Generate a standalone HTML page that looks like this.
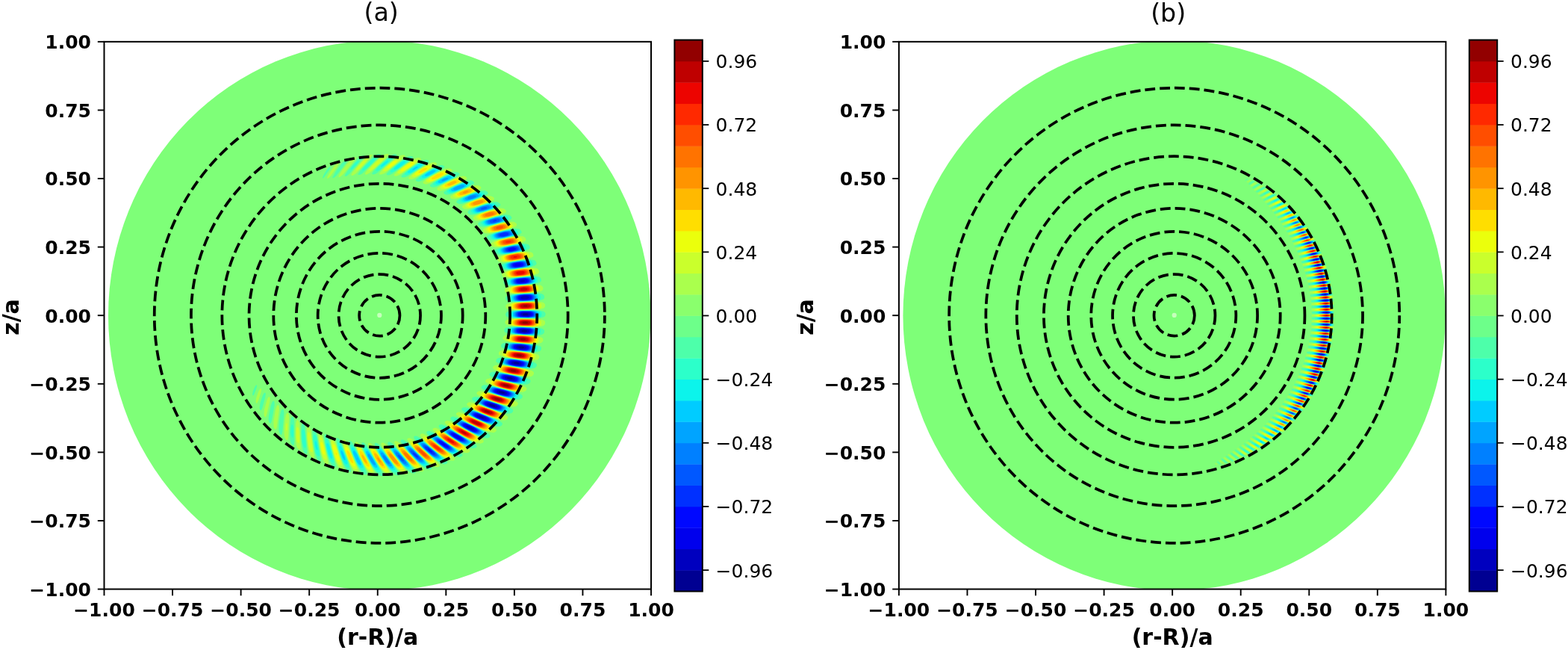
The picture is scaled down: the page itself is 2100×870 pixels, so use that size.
<!DOCTYPE html>
<html><head><meta charset="utf-8"><title>figure</title><style>html,body{margin:0;padding:0;background:#fff;overflow:hidden}svg{display:block}</style></head><body>
<svg width="2100" height="870" viewBox="0 0 2100 870" font-family="DejaVu Sans, Liberation Sans, sans-serif">
<rect width="2100" height="870" fill="#fff"/>
<clipPath id="clip0"><rect x="139.50" y="55.85" width="732.50" height="732.70"/></clipPath>
<g clip-path="url(#clip0)">
<ellipse cx="508.20" cy="422.30" rx="363.20" ry="368.00" fill="#7eff78"/>
<path fill="#aaff4d" d="M349 519.9L347.9 520.7L346 524.2L343 533L342.6 538.3L343.3 539.8L344.2 539.8L346.2 535.8L349.6 524.9L350.1 521.1L349.7 520.2ZM360.4 531L359 532L357.5 535.2L353.9 548.3L353.4 554.9L354.1 557.2L355.4 558.4L356.4 557.5L357.3 555L361.3 537.8L361.7 533.2L361.3 531.7ZM371.9 542.1L370.3 544.3L368.9 548.8L366.3 563.9L366.6 571.3L367.8 573.9L369.3 574.7L370.2 573.7L371 570.4L374 548.1L373.7 543.8L373 542.5ZM384.2 552.7L382.8 555.6L381.7 561.1L380.7 570.5L380.5 578.8L380.9 583.5L381.8 586.7L384 589.2L384.6 589.3L385.3 588.8L386.2 583.5L387.3 557.8L386.4 553.8L385.4 552.8ZM397.3 562.6L396.3 566.3L395.7 573.5L395.6 583.8L396.3 592.2L397.1 596.7L398.4 599.8L400.9 602L401.7 602L402.4 600.9L402.7 595.9L401.2 566.8L399.9 563.1L398.3 562.1ZM412 570.7L411 573.2L410.8 580.7L411.5 591.2L413 601.3L414.3 606.8L416.1 610.6L418.7 612.7L419.8 612.9L420.3 612.6L420.7 610.8L420.5 607.6L416.3 576.3L414.6 571.8L413.2 570.7ZM427.4 577.9L426.7 578.5L426.3 580.3L426.5 587.1L428.2 598.4L430.4 608.6L432.4 615L434.4 618.9L436.5 621.1L439.2 621.8L439.9 620.6L439.6 617.3L431.9 583.5L430 579.1L428.5 578ZM442.4 584.5L442.3 588.7L443.9 597.8L447.1 609.7L450.3 618.8L452.7 624L455.2 627.3L458.3 628.8L459.4 628.8L460 628L459.1 622.9L447.9 588.2L446.8 586L445.4 584.5L443.7 583.8ZM459.1 588.7L458.6 590.3L458.8 592.7L461 601.1L465.2 613L469.5 622.8L472.8 628.7L475.5 632.1L478.6 633.6L479.7 633.7L480.8 633.2L480.9 631.4L479.9 628.4L465 593.1L462.3 589.2L460.7 588.4ZM475.8 591.9L475.6 593.7L476 596L479.2 605L484.6 616.7L490.3 627L493.7 632L496.8 635.1L498.4 636L500.6 636.4L501.8 636.2L502.4 635.4L500.8 630.5L482.2 595.4L479.1 591.9L476.9 591.3ZM493.2 593.1L492.8 594.4L493.4 597L496.5 604.3L503.3 616.5L509.9 626.7L514.3 632.3L517.7 635.5L521.1 636.9L522.8 636.9L524 636.2L523.9 634.4L522.4 631.4L500.2 597L496.8 593.3L494.6 592.7ZM510.4 593.3L510.5 595L511.5 597.7L516.4 606.3L524 617.3L531.7 627L536.7 632.2L540.4 634.7L543.9 635.3L545.5 634.7L546 633.8L545.5 632.1L543.4 628.9L517.7 595.8L515.4 593.5L513.6 592.5L511.4 592.4ZM527.9 591.2L528 592.6L529 595.1L534.2 602.8L543.4 614.2L552.2 623.6L557.8 628.5L561.8 630.9L565.4 631.3L567 630.8L567.6 630L567.2 628.3L564.8 624.9L536 593.7L533.4 591.4L531.5 590.4L529.3 590.2ZM545.3 588.2L547.8 592.8L554.6 600.8L565.3 611.6L574.5 619.7L579.8 623.4L584 625.1L585.9 625.2L588 624.5L588.9 623.6L588.8 622.5L587.6 620.6L584.7 617.6L553.3 588.8L550.5 586.9L548.5 586.2L545.9 586.7ZM562.6 581.9L563 583.6L564.4 585.9L570.7 592.5L582 602.4L593 611L599 614.7L603.6 616.6L607.4 616.6L608.9 615.8L609.6 614.6L608.4 612.2L604.6 608.8L571.1 582.8L568 581L565.9 580.3L563.7 580.7ZM579.6 575.8L583.8 580.6L591.9 587.2L604.6 596.4L615 602.8L620.4 605.4L625 606.3L626.8 606L628.8 604.8L629.3 603.5L628.8 602.3L626.3 599.8L622.5 597.1L587.2 574.2L584.1 572.8L581.5 572.7L579.6 573.9ZM595.5 565.6L598.3 569.2L606.3 575.2L619.6 583.5L632.3 590.3L638.2 592.8L643.2 593.7L646.7 592.5L647.8 591.1L647.7 590L645.7 587.7L641.1 584.7L604.4 564.6L600.8 563.3L598.5 563L596.1 564ZM611.1 555.1L615.3 559L624.4 564.5L639.5 572.1L651.2 577.1L657.4 578.8L661.4 578.9L663.2 578.2L664.4 577L665 575.9L664.6 574.5L662 572.2L656.8 569.4L620.3 552.9L616.4 551.7L613.4 551.6L611.2 553L610.8 553.9ZM625.5 542.2L629.2 545.3L637.6 549.7L653.1 556.3L666.3 561.1L672.2 562.4L676.6 562.4L678.4 561.7L679.7 560.5L680.4 558.8L680.1 557.8L677.4 555.5L672.2 553L634.6 539.2L630.4 538.3L627.4 538.5L625.4 540.2ZM638.9 527.7L643.1 530.8L652.2 534.6L668.8 540.3L680.9 543.6L687 544.5L690.6 544.1L692.3 543.1L693.4 541.8L693.9 540L693.5 539L691.1 537.1L685.8 534.9L648 523.9L643.4 523.3L640.4 523.8L638.5 525.6L638.4 526.6ZM651 511.8L655.5 514.5L664.7 517.6L683 522.4L694.9 524.8L700 524.9L703.8 523.6L704.9 522.3L705.5 520.6L705.2 519.2L704.3 518.2L701.2 516.6L694.9 514.7L659.4 506.8L655.3 506.6L652.1 507.3L651 508.2L650.2 509.7L650.2 510.8ZM662.4 495.1L668 497.3L677.7 499.6L695.6 503.1L705.6 504.3L710.8 503.9L712.5 503.4L714.1 502.1L714.9 500.5L715 498.7L713.9 497.2L712.4 496.3L707.9 494.7L700.2 493.2L675.2 489.1L667.2 488.3L662.7 488.9L660.7 490.4L660 492L660.2 493.1ZM670.3 476L676 477.8L686.4 479.7L704.3 482L714 482.6L719.4 481.8L721.7 480L722.4 478.3L722.3 476.5L721.2 475L719.4 474L714.8 472.8L707.5 471.6L682.9 469L674.7 468.7L670.6 469.4L668.4 471.1L667.9 473.7L668.6 474.9ZM676.3 456L682.2 457.5L692.5 458.7L710.9 460.1L720.3 460.1L724.8 459.1L727 457.1L727.5 455.4L727.3 453.6L726.3 452.3L724.1 451.2L719 450L709.9 449.2L688.3 448L679.7 448.2L676 449L673.8 450.9L673.3 452.6L673.6 454.1ZM683.8 436.1L693.3 436.9L712.4 437.5L720.7 437.4L725.5 436.7L727.7 436L729.2 434.9L730.1 433.2L730.1 430.8L729.5 429.6L727.8 428.4L722.7 427.1L713.8 426.6L695.1 426.4L686.5 426.6L681.2 427.3L679 428L677.1 429.3L676.4 431L676.6 432.8L678.6 434.8ZM700.2 414.9L722.7 414L727.9 412.7L729.9 410.8L730.2 408.4L729.6 406.7L728.5 405.6L726.3 404.6L719.5 403.8L706.5 403.9L685.3 405.2L679.9 406.5L677.8 408.1L677.2 409.9L677.5 411.7L678.7 413L680.5 413.8L687.2 414.8ZM715.9 391.5L723.2 390.2L725.3 389.5L727 388.1L727.5 386.2L726.9 383.9L725.4 382.4L723.5 381.6L718.1 380.9L711.9 380.9L687.1 383L680.3 384.4L676.8 386.2L676 387.8L676.2 390L677.1 391.3L679 392.3L683.2 393L688.5 393.1ZM714.4 368.4L719.8 366.8L721.1 366L722.1 364.5L722.1 362.7L721 360.6L719.1 359.3L717 358.7L712.3 358.4L704.9 358.8L689.1 360.7L679.2 362.4L674.6 363.9L673.3 364.8L672.3 366.1L672.3 368L673 369.7L674.4 370.7L676.8 371.4L687.2 371.4ZM707.9 346.1L713.2 344.1L714.2 343.1L714.5 341.7L713.8 339.5L712.5 338.1L708.3 336.7L702.5 336.8L695.1 337.6L679.6 340.2L671.8 342L667.4 343.9L665.9 345.9L666.1 347.7L667.1 349.3L668.5 350.2L670.7 350.8L675.2 350.9L681.8 350.2ZM698.7 324.9L703.1 323L704.1 322.1L704.5 320.6L703.9 318.9L702.3 317.2L700.2 316.3L697.3 315.9L692.3 316.2L683.2 317.7L669.5 320.6L662.2 322.7L658.3 324.7L657.2 326.7L657.8 328.6L659 330L662.7 331L673.3 330ZM689.8 303.8L691.6 302.6L692.3 301.5L691.6 299.1L688.6 296.9L684.3 296.5L677.4 297.4L665.7 300.1L654.3 303.3L648.8 305.6L646.5 307.6L646.3 308.6L646.9 310L649 311.9L652.9 312.5L659.8 311.5L675.6 307.9L685 305.6ZM675.2 285.6L677.1 284.5L678.1 283.2L677.3 280.9L674.3 278.9L669.4 278.6L663.1 279.7L653.1 282.6L642 286.2L636 288.8L633.7 290.9L633.5 291.9L634 293.1L636.7 295.1L640.5 295.3L653.1 292.5L668.8 288ZM661.1 267.7L662.1 265.8L661.6 264.7L659.8 263.2L656.8 262.3L652.7 262.6L645 264.5L632.2 269.1L623.6 272.7L619.7 275.2L618.9 276.2L618.9 277.2L620.5 279L622.8 280L626.6 279.8L634.2 277.8L652.7 271.6L657.6 269.7ZM642.8 253.4L644.1 252.2L644.5 251.1L643.1 249.3L639.8 248L635.3 248.3L628.3 250.5L617.6 254.8L608.3 259.2L603.8 262L602.8 264L604.2 265.7L607 266.6L610.7 266.2L617.6 264L632.9 258ZM624.6 240L625.4 239L625.4 237.9L623 236.1L620 235.6L615.6 236.4L608.4 239.2L597.9 244.2L589.6 248.8L585.7 251.8L585.1 253.6L587.1 255L589.6 255.5L593.1 254.8L599.4 252.4L615.9 244.8ZM605.2 228.7L605.7 227.5L605.4 226.9L602.3 225.4L599.2 225.4L594.9 226.7L586.7 230.7L576.5 236.5L569.6 241L566.5 244L566.6 245.3L569.3 246.5L571.9 246.4L574.8 245.6L598.6 233.2ZM584.5 220.3L585.2 219.2L585 218.5L581.9 217.1L578.8 217.4L574.8 218.8L568.6 222.2L559.1 228.2L552.1 233.2L547.7 237.3L547.1 238.8L549.1 239.9L551.6 239.9L554.8 238.9L577.2 225.6ZM563.7 213.5L564 212.7L563.5 211.8L560.1 211.1L557.1 211.8L553.3 213.6L546.9 217.7L537.7 224.6L531.3 229.9L527.7 233.9L527.9 235.2L530.1 235.7L532.6 235.3L535.8 233.8L558.4 218ZM542.4 208.9L542.4 208.2L541.4 207.6L538 207.5L535 208.7L531.4 210.8L516.6 223L510.9 228.5L507.9 232.4L508.3 233.5L510.8 233.6L513.2 232.8L515.7 231.4L537.1 214.3L540.9 210.8ZM520.7 206.9L520.6 206.4L519.5 205.9L516.2 206.3L513.3 207.7L509.4 210.5L503 216.3L494.8 224.5L490.3 229.8L488.7 232.9L489.7 233.6L491.7 233.4L496.4 230.6L516.5 211.9L519.3 209ZM498.9 207.6L498.3 206.7L495 207.2L492.3 208.7L488.7 211.7L476.6 224.9L472.2 230.6L470.3 234.1L471 235L473 234.7L477 231.9L494.7 213.1ZM477 211.1L476.9 210.4L476.3 210.2L473.1 211.2L467.8 215.8L457.3 229.1L454.2 234.1L453.2 236.6L454.2 237.2L455.6 236.8L459.4 233.5L472.9 217.1ZM454.7 217.5L453.5 217.3L451.6 218.4L447.6 222.3L440.7 232.5L438.5 236.6L438 238.7L438.4 239.1L439.8 238.6L443 235.4L452.6 221.7Z"/>
<path fill="#4dffaa" d="M343.6 515L341.7 516.9L338.9 523.2L338 527.4L338.6 529.5L339.4 529.3L340.4 527.8L342.9 521.4L344.2 516.6ZM355 525.5L353.7 525.9L352.1 528.6L348.5 539.3L347.6 545.9L348.1 548.2L349.2 549.5L350.2 548.7L351.2 546.4L355.1 532.6L355.9 527.8L355.6 526.2ZM365.7 536.7L364.3 538.5L362.7 543L359.8 557.1L359.6 561.6L360 564.2L361 566.2L362.4 566.7L363.2 565.5L364.1 562.4L367.7 542L367.5 537.8L366.5 536.7ZM377.9 547.5L376.5 549.6L375.1 555.1L373.7 564.5L373.2 572L373.4 576.6L374.2 579.8L375.8 581.9L377.2 582L378.4 577.2L380.5 553.1L380 548.9L379.1 547.8ZM391.2 557.5L390.2 558.4L389.6 560.1L388.7 565.7L388 576.1L388.1 584.5L388.7 590L389.8 593.2L391.6 595.4L392.5 595.9L393.4 595.7L394.1 593.6L394.3 590.4L394.2 563.5L393.5 559.3L392.3 557.8ZM404.7 566.7L403.5 570L403.1 577.3L403.5 587.7L404.5 597L405.7 602.4L407.1 605.4L409.1 607.3L410.2 607.7L411 607.4L411.5 605.2L411.4 602L408.6 571.7L407.3 567.8L405.9 566.6ZM419.2 574.8L418.4 578.9L418.8 587.2L420.3 598.5L422 606.9L423.7 612.2L425.3 615.3L426.5 616.6L428.5 617.6L429.5 617.6L430 616.9L429.7 611.7L423.8 579.1L422.1 575.5L420.5 574.5ZM434.9 581.2L434.1 584.2L434.9 591.8L437.3 603.9L440.2 614L442.3 619.4L444.5 623.2L447.3 625.3L448.9 625.6L449.6 625.2L449.9 623.9L449.3 620.4L439.9 586.1L437.6 582L436 581.1ZM450.7 586.8L450.5 590.6L452.4 599.7L456.1 611.6L460 621.5L462.7 626.6L465.3 629.9L468.4 631.5L469.8 631.4L470.4 630.6L469.5 626L456.2 590.6L455 588.4L453.6 586.9L451.9 586.3ZM467.4 590.5L467 592.2L467.4 594.6L469.9 602.8L474.3 613.9L479.4 624.4L482.9 630.3L485.9 633.7L489 635.2L490.7 635.3L491.5 634.8L491.4 632.7L490.2 629.4L473.6 594.5L470.7 590.8L468.6 590ZM484.3 592.9L484.7 597L488.3 605.8L494.2 617.3L500.4 627.5L504.5 633L507.8 636L509.4 636.7L511.7 637L512.8 636.7L513.3 635.8L512.8 633.7L511 630.3L490.8 595.9L487.5 592.6L485.3 592.2ZM501.6 593.6L502.4 597.6L506.9 606.4L514.4 618.4L521.7 628.3L525.8 632.8L529.4 635.6L531.1 636.3L533.4 636.4L534.5 636L535.1 635L534.6 633.3L532.7 630L508.8 596.4L506.5 594L504.8 592.9L502.6 592.8ZM519.1 592.5L519.3 594.3L520.4 596.8L525.3 604.8L534.1 616.4L542.3 625.9L547.6 630.9L551.5 633.2L553.3 633.6L555.5 633.4L556.5 632.8L556.8 631.8L554.1 627.1L526.7 594.8L524.2 592.5L522.3 591.6L520.1 591.6ZM536.7 589.5L536.9 591.3L537.9 593.3L543.3 600.8L552.6 611.4L562.6 621.3L568.5 626L572.7 628.2L576.3 628.4L577.8 627.8L578.3 627L577.7 624.9L575.2 621.9L544.7 591.5L542 589.4L540.1 588.5L537.9 588.6ZM554 585.1L555.6 588.7L562.2 596.3L573.4 606.9L583.9 615.6L589.5 619.3L593.9 621.2L595.8 621.3L598.1 620.7L599.1 619.9L599.3 618.8L598 616.6L594.8 613.4L562.3 586.1L559.3 584.2L557.3 583.5L555.1 583.8ZM571.2 579.5L574.4 583.9L582.6 591.3L594.6 600.7L605.5 608L610.6 610.7L615.1 611.9L617 611.6L619 610.6L619.6 609.4L619.1 608.1L614.1 603.4L579 578.5L575.9 577L573.4 576.7L571.4 577.7ZM587.5 570.3L588.2 571.9L590.2 574.2L597.9 580.5L611.3 589.5L623.3 596.6L629.1 599.2L634 600.3L637.4 599.3L638.6 598L638.6 596.8L636.7 594.5L632.5 591.5L596.7 570.1L593.2 568.5L590.9 568L588.3 568.8ZM603.3 559.9L604 561.5L605.7 563.3L612.5 568.3L627.3 576.8L640.8 583.5L647.1 585.8L652.2 586.6L654.1 586.1L655.6 585.2L656.3 584.3L656.6 582.9L654.7 580.7L650.6 578L613.4 559.4L609.4 557.9L606.4 557.5L604.3 558.3ZM618.5 548.8L622 552.1L630.8 557.1L646.6 564.4L659 569.3L664.5 570.8L668.9 570.9L670.8 570.3L672.1 569.2L672.9 567.6L672.6 566.3L669.9 564.1L665.5 561.8L627.6 546.3L623.6 545.2L620.6 545.3L618.4 546.8L618.1 547.7ZM633.1 536L639.1 539.7L649.2 544.1L664.7 549.8L675.8 553L681.3 553.7L685.1 552.9L686.4 551.8L687.3 550.3L687.1 548.7L685.9 547.5L682.6 545.6L676.7 543.3L647.9 533.6L640.1 531.4L636.1 531L633.5 531.7L631.9 533.7ZM645.8 520.6L651.5 523.7L661.7 527.3L678.6 532.2L689.5 534.6L695.2 534.8L698 533.7L699.3 532.4L699.9 530.8L699.6 529.3L698.3 528L694.4 526.2L688.5 524.3L660 516.8L652.4 515.3L648.1 515.2L645.7 516.2L644.4 518.6ZM656 503L660.2 505.4L668.6 508.1L686.5 512.3L699.7 514.6L705.2 514.7L708.5 513.6L709.8 512.3L710.5 510.7L710.5 509.5L709.7 508.1L706.3 506.2L700.6 504.6L664.9 497.8L660.4 497.6L657.1 498.5L656.1 499.4L655.3 501ZM666.4 485.6L672.1 487.6L682.4 489.8L700.3 492.7L710.9 493.6L715.9 492.8L718.2 491.1L718.9 489.5L719 487.7L716.8 485.5L712.3 484L704.6 482.6L680.5 479.3L671.3 478.7L667.3 479.2L665 480.7L664.2 483.2L664.8 484.4ZM673.6 466.1L679.4 467.8L689.8 469.3L707.9 471.2L718.4 471.4L723.2 470.1L724.9 468.1L725.1 465.1L724.1 463.7L722.5 462.9L718.1 461.6L710.7 460.6L687.7 458.7L677.6 458.6L673.3 459.5L671.3 461.3L671 464L671.9 465.1ZM683.5 446.9L710.4 448.8L718.2 448.9L723.7 448.4L726.5 447.6L728 446.6L729 444.9L729.1 442.6L728.5 441.4L726.8 440L720.6 438.6L692 437.3L684.1 437.4L679.5 438L677.4 438.7L675.9 439.9L675.2 441.7L675.4 443.5L676.1 444.5L678 445.6ZM684.3 425.4L693.8 425.9L713.8 426.1L721.6 425.8L726.7 424.9L729.2 423.8L730.2 422.6L730.7 420.2L730.2 418.5L728.1 416.8L722.4 415.5L713.7 415.1L695.9 415.4L687.3 415.8L682 416.5L679.1 417.5L677.9 418.5L677 420.3L677.1 422.1L678.1 423.4L679.7 424.3ZM707.3 403.5L720.3 402.7L726.9 401.1L728.6 399.7L729.1 398.5L729 396.1L727.9 394.5L725.2 393L719.5 392.3L698.2 393.1L686.1 394.2L679.7 395.7L678.1 396.6L677.1 398.2L677 400L677.7 401.7L680.6 403.2L685.6 403.9ZM712.7 380.3L720.8 378.8L723.2 377.8L724.7 376.6L725.1 374.7L724.4 372.4L723 370.9L721.1 370.2L716.5 369.6L711.2 369.6L685.8 372.2L678.6 373.7L675 375.8L674.4 377.4L674.8 379.6L675.8 380.8L677.8 381.7L681.6 382.3L687 382.3ZM709.1 357.6L715.4 356L718.3 354L718.6 352.1L717.7 349.9L716.2 348.6L713.5 347.7L709.3 347.4L701.6 347.9L677.9 351.6L672.5 353.2L669.7 355.3L669.3 356.9L670.1 359.1L671.2 360.1L673.2 360.9L677.7 361.2L682.9 360.9ZM705.7 334.7L708 333.7L709.4 332.4L709.8 331L709.5 329.9L708.6 328.3L707.1 327.1L702.5 326.1L695.3 326.6L685.1 328.3L672.9 330.7L665.6 332.8L662.6 334.6L661.9 335.9L661.9 336.9L663.6 339.7L667.5 340.8L672 340.7L679.6 339.7L699.3 336.4ZM694.6 314.3L698.2 312.1L698.6 311.2L698.5 309.9L696.3 307.1L694.3 306.3L691.6 306L685.7 306.5L675.9 308.4L663.5 311.4L655.7 313.9L652.5 316.1L652.2 318.3L654.3 320.8L658.1 321.6L669.4 320.1L688.1 316.1ZM681.3 295.1L684.8 293.2L685.4 292.1L685.3 290.8L683.9 288.9L682.3 287.9L677.6 287.3L672.2 288L662.7 290.3L650.8 293.8L643.4 296.6L640.5 298.6L640.1 299.6L640.4 300.7L642.6 303.1L647 303.7L658 301.6ZM668.2 276.6L669.6 275.6L670.3 274.4L670.1 273.3L669.1 271.9L665.8 270.3L661.7 270.3L654.8 271.7L644.3 275L634.1 278.7L628.2 281.6L626.4 283.6L626.5 284.5L627.3 285.7L629.7 287.2L633.5 287.4L640.3 285.9L655 281.4L663.6 278.6ZM651 261L652.8 259.7L653.5 258.6L653.3 257.6L652.1 256.3L648.8 254.9L644.2 255.2L637.8 256.9L627.5 260.7L617.6 264.9L612.7 267.7L611 269.9L611.8 271.5L614.9 273L618.6 272.9L630.1 269.2L645 263.7ZM633.9 246.5L635.2 244.5L634.6 243.4L632.7 242.1L629.7 241.5L625.2 242.2L617.6 244.9L607.4 249.4L599.5 253.5L595 256.5L594.1 258.3L595.5 259.8L598.2 260.7L601.8 260.3L608.3 258.1L623.7 251.5ZM615 234.1L615.7 233L615.4 232.2L612.5 230.5L609.4 230.3L605 231.4L597.2 234.8L585.9 240.9L578.6 245.4L576 247.9L576 249.2L578.6 250.6L581.1 250.7L584.1 249.9L607.4 238.8ZM594.9 224.3L595.4 222.5L592.5 221.1L589.4 221.1L585.3 222.4L578.1 226L568.3 231.9L560.9 236.9L557.1 240.4L556.8 241.2L557 241.9L559.3 242.9L561.8 242.9L565.2 241.8L588.7 228.7ZM574.6 215.9L574.4 214.9L573.8 214.5L570.5 213.8L567.4 214.5L563.4 216.3L556.1 220.7L546 227.9L539.4 233.3L537.3 236.1L538.2 237.2L540.6 237.6L543.2 237L546 235.8L569.7 220.3L573.5 217.4ZM552.8 211.3L553.2 210.5L553 209.6L549.7 209L546.7 209.6L543 211.5L536.2 216.2L527.4 223.2L521.9 228.1L518.1 232.2L517.7 233.1L517.9 234L519.5 234.4L522 234.2L525 232.8L547.1 216.4ZM531.2 208.2L531.3 206.8L527.9 206.4L525 207.4L521 210L506.8 222.3L500.7 228.6L498.4 231.8L498.3 233.1L500 233.5L502.4 232.9L505.4 231.2L525.7 213.8ZM509.6 207.4L509.8 206.5L509.2 206.1L506.1 206.3L503.3 207.5L499.6 210.4L486.5 223.5L481.6 229.5L479.5 232.9L479.4 233.8L479.9 234.1L481.4 234.1L483.7 233.2L486 231.5L505.6 212.2ZM488 208.8L487.2 208.1L484 208.9L481.4 210.5L477.9 213.7L466.1 227.8L462.4 233.2L461.6 235.6L462.6 236L464.6 235.5L468.4 232.3L484 214.5ZM465.9 213.9L465.9 213.5L465.2 213.2L462.9 214L457.8 218.5L449.6 229.5L445.3 237.4L445.6 238.3L447.1 238.1L450.4 235.2L462.4 219.7ZM443.1 223.3L442.6 222.7L441.1 223.5L437.7 227.1L433.4 233.9L431.8 238.4L433 238.2L435 236.1L440.7 227.9Z"/>
<path fill="#caff2c" d="M384.1 565.8L383.1 567.7L382.6 572.2L383 575.8L384 577L384.7 575.2L385 571.7L384.8 567.2ZM398.4 571.2L397.6 571.8L396.9 574.2L396.8 584.9L397.9 590.7L398.8 592.2L400.1 593.1L400.8 592.7L401.2 590.3L400.7 577.4L399.8 572.7ZM412.6 578.4L411.8 580.8L411.8 584.7L413.2 597.6L415.3 603.7L416.9 605.2L418.3 605.3L418.8 603.8L418.7 600.5L416.2 582.9L414.6 579L413.5 578.2ZM428.1 584.7L427.4 587.3L427.7 591.3L430.7 606.7L432.2 611.2L433.6 613.5L435.8 615.2L437.3 615.1L437.7 613.3L437.2 610L432.4 589.2L430.5 585.4L429.3 584.6ZM444.2 590L443.7 592.6L444.6 598.6L449.4 614.6L451 618.3L453 621.2L455.3 622.8L457.2 622.7L457.5 621L456.7 617.5L449.4 595.1L447 590.7L445.3 589.8ZM460.8 594.2L460.6 597.2L462 602.9L465.4 612.3L468.9 620.4L471.3 624.6L473.6 627.2L476.1 628.4L477.2 628.4L477.9 627.9L478 626.1L477 622.9L466.6 598.4L463.7 594.4L462 593.7ZM477.9 596.8L477.9 599.4L480.1 606L484.7 616.1L489 623.9L491.8 628L494.3 630.5L497.5 631.6L498.6 631.5L499.2 630.9L498.7 628.2L497.3 625.1L484.2 600.5L481 596.8L479.3 596.3ZM495.6 597.7L495.2 598.5L495.5 600.3L498.3 607L503.8 616.8L509.4 625.2L513.2 629.7L515.9 631.9L519.2 632.5L520.7 631.6L520.2 629.4L518.4 626L502.3 601.3L498.8 597.8L497 597.3ZM513.3 597.2L513 598.1L513.4 599.8L516.9 606.5L523.9 616.8L530.4 624.9L534.1 628.6L537.1 630.6L540.4 631.2L541.5 630.9L542.3 630L541.7 627.8L539.4 624.4L520.3 599.9L516.4 596.9L514.6 596.6ZM530.8 595.7L532.3 599.3L537.1 606.1L545.3 615.9L552.1 622.8L556.1 626.1L559.2 627.5L562.6 627.3L563.5 626.6L563.7 625.6L562.7 623.6L560.2 620.5L537.9 596.5L535.8 594.9L533.8 594.2L531.6 594.5ZM548.7 591L548.7 592.4L549.5 594L554.4 600.2L563.7 609.8L572 617.1L576.4 620.3L579.8 621.7L583.2 621.4L584.2 620.9L584.8 619.9L584.2 618.2L581.4 615.1L556.7 592.5L552.2 590L549.9 590.1ZM566.2 585.2L566.3 586.6L567.3 588.3L573 594.3L583.5 603.4L592.7 610.3L596.8 612.6L600.4 613.8L603.8 613.1L605.1 612.1L605.2 611.1L604.2 609.5L601 606.4L574.2 585.8L571.7 584.3L569.5 583.7L567.3 584.2ZM583.2 578.4L586.2 582.1L592.5 587.5L603.5 595.4L612.8 601.1L617.1 603L620.7 603.6L622.4 603.2L624.2 602L624.8 600.8L624.5 599.9L623.1 598.3L619.4 595.5L590.7 577L588.1 575.9L586 575.7L583.6 576.9ZM599.6 568.1L600 569.4L601.8 571.4L608.1 576.2L620.4 583.8L630.8 589.2L635.5 590.9L638.6 591.3L641.8 590.1L643.2 588.1L642 586.2L637.7 583.1L608.3 567.1L605.3 566L603 565.7L600.8 566.5ZM615.7 558.1L619.5 561.2L627.6 566L640.3 572.3L649.4 576L654.2 577.1L657 576.7L658.9 575.5L660 574.2L659.6 572.2L656.9 570L651.6 567.3L622.9 554.6L620 553.9L617.4 554.3L615.3 556.1ZM630.1 544.4L634.1 547.6L642.3 551.6L655.4 557L665.5 560.3L669.6 561L672.5 560.5L675 558.2L675.5 557.1L675 555.7L672.6 553.8L667.9 551.7L637.6 540.7L634.4 540.2L632.2 540.6L630.1 542.4L629.8 543.3ZM643.5 529.6L647.8 532.5L656.2 535.9L669.9 540.4L679.8 542.9L684.1 543.1L686.7 542.2L688.8 539.5L688.9 538.2L688.3 537.2L685.6 535.4L680.7 533.6L651.4 525.2L647.8 524.8L645.5 525.4L643.3 527.7ZM655.4 513L659 515.3L666.1 517.8L682.4 522.1L692.1 523.9L695.7 523.9L698.5 522.8L700.4 520L700.6 518.8L699.8 517.4L697.2 515.9L690.9 513.9L670.9 509.3L662.2 507.8L659.3 507.8L657 508.6L655.1 511.1ZM665.6 495.2L669.1 497.1L676.9 499.2L692.6 502.3L702.3 503.5L706 503.2L708.7 501.8L710.1 498.7L709.5 496.7L706.8 495.1L701.3 493.6L680.3 490.1L671.7 489.2L668.6 489.4L666.4 490.5L664.9 493.3ZM674.2 476.4L679.2 478.1L688.4 479.8L703.1 481.7L711.7 481.9L715 481.1L716.8 479.3L717.4 475.9L716.6 474.6L715.5 473.9L711.7 472.7L704.9 471.5L687.1 469.6L678.7 469.3L675.6 469.9L673.5 471.7L672.8 474.3L673.2 475.4ZM680.7 456.4L686.1 457.7L695.7 458.8L709.1 459.8L717.4 459.6L720.8 458.5L722.4 455.8L722.3 452.9L721 451.6L719.7 451L714.6 449.9L704.7 449.1L690.6 448.4L682.9 448.7L680.1 449.7L678.6 451.7L678.5 454.5ZM686 435.8L693.3 436.7L707.2 437.2L715.9 437.2L721.1 436.6L723.4 435.7L724.6 434.7L725.3 431.2L724.1 428.9L719.8 427.4L712.5 426.8L698 426.6L689.5 426.8L685.1 427.5L682.2 429L681.4 432.2L681.7 433.6L682.6 434.6ZM708 414.6L718 414.1L723.2 412.9L724.7 411.7L725.3 409.9L725.1 407.6L724.1 405.9L721.8 404.8L717.4 404.1L698.7 404.4L688.8 405.2L683.8 406.6L682.7 407.7L682.2 409.1L682.3 411.4L683.1 412.8L686 414L689.8 414.5ZM711.6 391.6L718.8 390.5L721.9 388.9L722.6 387L722.2 384.7L721.3 383.1L720 382.2L716.9 381.4L711.6 381.3L691.5 382.8L684.7 384L681.5 385.7L680.8 387.3L681 389.6L681.7 390.9L683.4 392L691.1 392.7ZM707.4 369.1L714.2 367.7L717 365.9L717.4 364L716.7 361.8L715.6 360.3L714.2 359.6L710.4 358.9L704.4 359.1L685.9 361.4L679.8 362.9L677.2 364.7L676.8 366L677.3 368.3L678 369.6L679.6 370.6L682.9 371.1L688.5 371ZM703.5 346.6L708.4 344.9L709.8 342.9L709.5 341.2L708.3 339.2L706.7 338L705 337.5L701.2 337.3L694.3 338L676.3 341.3L672.2 342.8L670.5 344.6L670.5 346.2L671.5 348.3L672.6 349.4L674.7 350L682.8 349.8ZM695.9 325.1L699 323.6L699.9 321.7L699.3 320L697.9 318.2L694.5 316.8L689.9 316.9L682.6 318L671.8 320.3L665 322.4L662 324.2L661.6 326L663.4 329L666.2 330.1L675.6 329.3ZM685.3 304.8L687.7 302.9L687.3 300.7L684.8 298.2L681 297.5L675.4 298.1L667.8 299.8L658.8 302.3L652.8 304.6L650.8 306.2L650.8 308L653 310.6L655.9 311.4L666.6 309.8L679.3 306.8ZM671.8 286.2L673.6 284.3L672.9 282.3L670.2 280.2L666.4 279.8L660.4 280.8L651.5 283.3L643.6 286L639.1 288.2L637.6 290.1L638.4 292L640.8 293.7L644 294.1L656.9 291.1L666.8 288.2ZM656.5 269.2L657.4 268.3L657.7 267.4L656.3 265.3L653.7 263.9L650 263.8L644.5 265.1L636.7 267.7L628.9 270.8L624.3 273.2L622.9 275.1L624 276.9L626.6 278.4L629.7 278.4L635.5 277L646.5 273.4ZM639.2 254.4L640 253.4L640 252.3L638.4 250.7L635.6 249.7L632.1 249.9L626.1 251.7L618.2 254.9L611.2 258.2L607.8 260.4L606.8 261.9L607.9 263.5L610.5 264.8L613.6 264.6L618.8 263.1L629.4 259L636.4 256ZM620.5 241.5L621.1 240.4L621 239.8L619.1 238.3L616.2 237.6L612.7 238.1L607.2 240.1L599.3 243.9L592.8 247.5L589.7 249.9L589.3 251.4L590.9 252.7L593.4 253.3L596.3 252.9L611.7 246.4L618 243.2ZM600 231.5L601.2 229.6L599.7 228.3L597 227.6L593 228.3L581.3 234.1L575.6 237.6L571.5 240.8L570.7 242.4L571.9 243.5L574.8 244L577.7 243.4L588 238.5ZM580.1 222.4L580.5 221.1L577.9 219.9L575 220L571.7 221.2L565.6 224.5L558.3 229.3L553.8 232.7L551.8 234.9L551.9 236.2L553.8 236.9L555.8 236.9L558.7 236L573.7 227.2ZM558.9 216.3L558.9 215L556.5 214.3L553.6 214.7L550.5 216.1L538.8 224.3L534 228.5L532.4 230.5L532.6 231.7L534.5 232.2L536.6 231.8L539.3 230.6L552.6 221.6ZM536.7 213.3L537.3 212.1L536.9 211.4L535.8 211.2L533 211.5L530.1 212.8L522 218.9L516.5 223.8L513.4 227.4L513 229L514.3 229.4L516.3 229.1L518.9 227.9L529.3 219.9ZM514.9 211.9L514.9 210.6L512.7 210.5L510.5 211.3L507.8 213L498.5 221.7L494.1 227.2L494.3 228.3L495.8 228.4L499.7 226.4L511 216.3ZM492.7 213.2L492 212.5L490.4 212.8L486.3 215.5L479.8 222.6L477.5 225.6L476.8 227.5L477.4 228.1L478.4 227.9L481.3 226L489.2 217.8Z"/>
<path fill="#2cffca" d="M390.8 568.1L389.7 571.5L389.4 580.1L390.6 584.7L391.7 585.8L392.4 585.3L393 581.3L392.9 572.3L392.2 569.1L391.7 568.2ZM405.4 574.8L404.5 576.2L404.2 579.3L404.8 591.5L406.5 597.7L408 599.4L409.1 599.6L409.7 598.5L409.8 595.1L408.4 579.9L407.4 576.2L406.5 575ZM420.1 581.9L419.5 584.9L419.7 589.6L422 603.2L423.2 606.8L424.5 609.1L426.7 610.7L427.8 610.2L428.1 608.7L427.7 604.5L424.1 585.6L422.2 582L420.9 581.4ZM436.1 587.5L435.5 590.1L436 595.2L437.9 603.9L440 611.3L441.9 615.6L443.4 617.8L445.7 619.4L446.8 619.4L447.3 619L447.4 617.2L446.8 614L440.8 592.3L438.5 588L437.3 587.3ZM452.1 592.9L452.3 596.8L453.9 603.2L456.6 611.7L459.6 618.9L461.9 622.9L463.6 624.8L466.7 626L467.5 625.6L467.7 624.8L466.1 618.5L457.5 596L456.2 593.7L454.7 592.3L452.9 591.9ZM469.5 595.5L469.1 598.1L471 604.8L474.8 614.1L479.1 622.8L481.7 626.9L484.1 629.3L486.8 630.3L487.8 630.2L488.5 629.7L488.5 627.9L486.9 623.8L475.4 599.7L472.4 595.9L470.6 595.2ZM486.9 597.2L486.4 598.1L486.6 599.9L488.8 605.9L493.8 615.9L498.9 624.5L502.4 629.2L505.1 631.5L508.3 632.3L509.9 631.5L509.5 629.3L507.8 625.8L493.5 601.5L490.1 597.7L488.4 597ZM504.2 598.1L505.1 602L508.3 608.3L514.9 618.7L520.5 626L523.9 629.7L526.8 631.7L530.1 632.1L531.2 631.7L531.5 630.6L528.9 625.5L511.1 600.6L509.2 598.6L507.4 597.4L505.1 597.2ZM521.9 597.1L523.6 601.4L528.1 608.2L535.9 618.2L542.2 625.1L546 628.3L549.1 629.6L552.3 629.3L553.1 628.3L552.9 627.4L549.1 621.9L528.9 598.2L526.8 596.5L524.9 595.7L522.7 595.9ZM539.7 593.9L541.4 597.6L546.5 604.3L555.3 613.9L562.4 620.6L566.7 623.7L569.9 624.9L573.2 624.5L574.2 623.8L574.3 622.8L573.1 620.7L570.5 617.6L547.3 594.8L545.1 593.1L543.1 592.3L540.8 592.5L540 593ZM557.4 588.6L558.9 592L564.2 598L574.1 607.2L582.8 614.3L587.4 617.1L590.8 618.1L594.1 617.3L595 616.5L595.1 615.5L593.6 613.3L590.4 610.2L565.2 589.2L562.8 587.7L560.7 587.1L558.5 587.5ZM574.7 582.3L577.2 586L584.1 592.3L594.5 600.3L603.3 606.2L607.4 608.3L611 609L614.2 607.9L615 607L615 605.9L613.8 604.1L610.4 601.2L583 581.8L579.7 580.2L577.6 580L575.2 581ZM591.6 574L594.7 577.6L602.4 583.4L614.1 591L622.9 595.8L627.3 597.5L630.1 597.7L631.8 597.2L633.6 595.9L634.1 594.7L633.8 593.8L632 591.9L628.1 589.2L599.6 572.3L596.2 571.1L594.2 571L591.8 572.4ZM607.6 563.2L610.5 566.5L617.5 571.1L630.5 578.3L640.2 582.9L645 584.3L648 584.3L651 582.7L651.7 581.7L651.7 580.5L650 578.5L645.6 575.8L615.8 561.1L612.8 560.2L610.5 560.1L608.2 561.4ZM622.9 551.3L626.2 554.2L634 558.5L647.5 564.6L657.1 568.2L662.1 569.2L665 568.8L667.6 566.7L668 565.5L667.6 564.1L665.2 562.3L659.9 559.7L630.5 547.9L627.4 547.3L625.2 547.6L623 549.2L622.6 550.1ZM636.8 537L639.5 539.3L647.4 543.1L661.5 548.5L672.3 551.7L676.6 552.3L679.6 551.7L681.7 549.8L682.4 548.2L682.3 547.3L680.5 545.4L675.5 543.2L645.2 533.3L641.7 532.8L639.3 533.1L636.9 535.2ZM650.4 522.3L655.9 525.1L664.9 528.1L678 531.9L686.9 533.6L691 533.5L693.3 532.3L695 529.3L694.8 528.1L693.9 527.1L690.4 525.3L685.1 523.6L663.7 518L656 516.6L652.8 516.7L650.5 517.9L649.3 520.3ZM661.4 504.9L666.6 507.2L675.8 509.7L689.7 512.8L698.2 513.9L702.4 513.4L704.5 511.8L705.6 508.6L704.2 506.6L700.2 504.9L693.6 503.3L674 499.5L666.6 498.6L663.2 499L661.4 500.2L660.2 503.1ZM670.8 486.3L675.2 488L684 489.9L699.3 492.3L707.3 492.9L710.9 492.3L713.1 490.7L714.1 487.4L713.7 486.1L712.4 485.1L708.7 483.7L701.8 482.4L684.1 480L674.8 479.4L672 479.9L669.9 481.6L669.1 484.2L669.5 485.3ZM678.7 466.9L684.6 468.4L695.9 469.8L708.6 470.9L714.8 470.8L718.5 469.7L720.1 467.1L720 464.1L717.5 462.3L712 461.1L701.9 460L686.8 459L680.5 459.2L677.3 460.4L675.9 462.9L676.2 465.3ZM685.7 446.7L693.5 447.6L707.8 448.5L715.4 448.6L720.2 448L722.4 447.1L723.5 446.1L724.1 444.4L724.2 442.1L722.6 440.1L718.2 438.8L695.4 437.6L688 437.7L683.6 438.3L680.9 440L680.2 441.8L680.2 443.6L680.7 444.6L682 445.6ZM689.5 425.4L712 425.9L718.6 425.5L722.4 424.9L724.6 423.7L725.4 422.6L725.7 420.9L725.4 418.6L724.5 417.4L722.8 416.5L717.6 415.6L695.5 415.6L689 416.1L684.9 416.9L683.1 417.9L682.4 418.8L681.9 421.1L682.4 423L684.3 424.4ZM712.1 403L719.8 402.1L721.9 401.4L723.6 400.3L724.3 398.4L724 396.1L723.1 394.5L721.6 393.5L718.5 392.8L712.3 392.6L693.9 393.6L686.6 394.6L682.9 396.2L682 397.5L681.8 399.4L682.3 401.2L683.5 402.4L686.4 403.3L691.2 403.7ZM709.6 380.3L716.4 379.1L719.6 377.5L720.3 375.7L719.9 373.4L719 371.9L716.9 370.6L712.4 370L707.6 370.1L688.9 372L683 373.3L679.8 375L679.1 376.6L679.5 378.9L680.2 380.2L681.9 381.3L685.6 381.9L690.1 381.8ZM708.1 357.3L712.2 356L713.4 355L713.9 353.6L713.6 351.9L712.5 349.9L710.8 348.7L708.8 348.2L698.5 348.5L679.4 351.7L675.3 353.3L674 355L674.1 357L674.9 358.7L677.5 360.3L686.1 360.3ZM702.1 335.1L704.7 333.5L705 331.3L703.2 328.3L701.4 327.3L699.5 327L694.3 327.1L686.2 328.3L675.6 330.4L668.8 332.4L666.4 334.4L666.5 336.5L668.1 338.9L671.2 340L675.8 339.9L683.9 338.8L695.9 336.7ZM689.6 315.2L693.2 313.6L694 312.6L694 311.2L692.9 309.2L691.7 308L688 307L683.5 307.2L676.8 308.4L660.3 312.8L657.2 314.5L656.4 316.4L658.1 319.3L659.4 320.2L661.4 320.6L670.1 319.6ZM677.6 295.9L680.5 294L680.9 293.3L680.8 292L679.4 290.2L678 289.1L674.4 288.4L670.4 288.8L663.4 290.4L652.7 293.5L647.2 295.6L644.7 297.4L644.4 299.1L646.5 301.6L649.9 302.5L659.7 300.9ZM663.6 277.9L665.9 275.9L665.2 274L662.5 271.9L658.9 271.5L653.2 272.6L645.9 274.7L636.7 278.1L632 280.4L630.5 282L631.3 284.1L633.7 285.7L636.7 286L647.7 283.4ZM647.1 262.2L649 260.4L648.9 259.2L648.2 258.3L645.2 256.6L641.6 256.6L636.4 257.8L629.9 260.1L621.7 263.5L616.7 266.1L615.1 267.9L615.6 269.5L618 271.1L621.5 271.3L631.4 268.4ZM629.4 248.1L630.8 246.4L629.6 244.7L626.4 243.4L622.9 243.7L618.1 245.1L610.6 248.3L603.1 252L599.4 254.4L598.2 256.3L599.4 257.7L602.2 258.7L605.2 258.5L617.7 253.8ZM611.1 235.4L611.2 234.4L610.7 233.8L608.2 232.6L605.8 232.4L602.3 233.2L595.4 236.2L586.3 241L581.8 244.1L580.1 246L580.5 247.2L582.7 248.2L584.8 248.4L587.8 247.7L605.2 239.5L609.4 236.9ZM590.3 226.5L590.9 224.9L589 223.7L586.1 223.5L582.8 224.3L577.2 227L570.2 231.2L564.7 234.8L561.7 237.6L561.2 238.8L562.7 239.9L565.2 240.2L568 239.5L582.9 231.6ZM569.7 218.9L569.9 218.1L569.4 217.4L566.7 216.8L564.3 217.1L561.2 218.4L555.3 221.8L547.7 227.2L543.4 230.9L542 232.7L542.3 233.8L544.2 234.3L546.3 234.1L549.1 233L563.6 223.9ZM548.2 213.9L547.8 212.8L545.1 212.4L542.7 213L539.7 214.5L528.5 223L523.9 227.4L522.5 229.4L523.2 230.4L525.2 230.5L529.4 228.8L543.5 218.5ZM525.9 212.1L526.3 211.2L525.9 210.7L523.7 210.5L521.5 211.2L518.6 212.8L508.8 221.2L504.8 225.4L503.4 227.6L503.5 228.5L505.3 228.7L509.3 226.9L521.1 217.1ZM504 211.8L503.4 211L501.2 211.3L496.5 214.4L488.2 222.9L485.9 225.8L485.1 227.7L485.7 228.3L487.2 228.1L491 225.6L501.4 215.4ZM480.6 216.3L480.7 215.4L479.8 215.3L476.3 217.5L472.2 222.1L469.6 226.2L469.6 227.1L470 227.2L472.5 225.6L477.8 220.1Z"/>
<path fill="#ebff0c" d="M430 591.5L429.4 592.2L429.3 594.7L430.9 603.4L432.6 607.4L433.8 608.6L434.8 608.9L435.3 608.1L435.3 606.3L433.2 596.8L431.8 592.8L430.8 591.6ZM445.7 595.3L445.4 597L445.9 600.8L449.1 611.8L452 616.8L453.8 618L455.1 617.7L454.6 613.2L450 599.3L447.8 595.5L446.5 594.9ZM462.6 598.3L462.2 600.4L463.1 604.5L468.3 617.9L470.3 621.2L472.1 623.2L474.1 624.3L475.1 624.4L475.7 623.9L475.7 621.8L474.5 618.4L467.6 602.3L465.1 598.7L463.8 598.1ZM479.9 600.2L479.5 602.4L480.9 606.9L487.7 620.9L490.5 624.9L492.4 626.9L494.5 628L496.6 627.9L496.9 626.4L495.8 623.4L485.6 604.2L482.8 600.7L481 600ZM497.2 601.3L497.5 604L500.1 609.6L504.8 617.8L509.4 624.4L512 627.4L514.8 629.2L517.4 629.4L518.1 629.1L518.4 628.2L515.6 622.3L503.2 603.5L500 600.8L498.2 600.5ZM515.1 600.2L515.3 602.5L518.4 608.3L524.5 617.1L529.7 623.5L532.7 626.4L535.6 628.2L538.4 628.5L539.9 627.5L539.6 626L537.5 622.6L521.9 602.6L519.9 600.7L518 599.6L516.1 599.5ZM532.9 598.1L534 601.1L538.2 607.2L545.2 615.5L551.2 621.5L554.5 624L557 625.1L560.3 625L561.2 624.2L561.3 623.6L560.6 621.9L557.4 617.8L539.7 599L537.6 597.4L535.6 596.7L533.8 596.9ZM550.7 593.7L552.1 596.8L557.1 602.8L565 610.8L571.8 616.5L575.3 618.8L577.9 619.7L581.2 619.2L582.1 618.5L582.3 617.6L580.9 615.3L578.2 612.4L558.2 594.3L555.8 592.8L553.7 592.2L551.5 592.6ZM568.4 587.2L569.4 590L573.6 594.6L582.5 602.4L590.8 608.6L594.8 610.9L598.3 612L601.1 611.5L602.4 610.5L602.7 609.8L601.7 607.8L598.3 604.7L576.6 587.9L574 586.4L571.7 585.8L569.5 586.2ZM585.5 579.7L587.6 582.9L593.2 587.7L603.3 595L611.5 600L615.7 601.7L618.4 602L621.4 600.7L622.1 599.7L622.1 598.9L620.1 596.5L616.4 593.8L593.4 578.9L590.6 577.7L588.4 577.5L586.3 578.3ZM602.1 570.2L604.5 573.2L610.9 577.8L622.2 584.6L630.3 588.6L633.9 589.8L636.8 589.9L639.8 588.4L640.4 587.4L640.4 586.4L638.7 584.4L634.3 581.5L609.6 568.3L606.8 567.4L604.6 567.4L602.6 568.5ZM617.8 558.6L620.5 561.5L627.3 565.6L638.9 571.4L647.8 575L651.6 575.9L654.4 575.6L657 573.6L657.5 572.5L657.3 571.5L655.3 569.7L650.7 567.1L625.3 555.9L622.3 555.2L620.1 555.5L618 557.2ZM632.6 545.5L636 548.3L643.2 551.9L655 556.7L663.7 559.5L667.6 560L670.3 559.3L672.6 556.9L672.8 555.8L672.4 554.9L670 553L665.2 550.8L640.2 541.9L636.9 541.3L634.7 541.8L632.6 543.6L632.3 544.5ZM646.1 530.5L649.7 533L657.3 536.1L669.4 540.1L677.8 542.1L681 542.4L683.9 541.6L686.1 539.1L686.3 537.9L685.8 536.6L682.8 534.8L677.5 532.8L653.4 526L649.9 525.8L647.7 526.5L645.9 528.6ZM659 514.6L663.3 516.6L672.8 519.5L683.5 522.1L691.1 523.3L694.9 522.8L696.8 521.3L697.9 518.4L697.5 517.3L696.5 516.4L692.5 514.7L684.9 512.7L669.9 509.4L663.3 508.5L660.3 508.9L658.4 510.5L657.6 512.7ZM668.6 496L672.8 497.9L680.7 499.9L694 502.3L701 503L704.3 502.5L706.4 500.9L707.5 497.7L706.5 496L703.4 494.5L696.6 492.9L681.2 490.4L674.3 489.7L670.4 490.2L668.6 491.4L667.5 494L667.7 495.1ZM676.9 476.7L680.5 478.1L687.4 479.4L699.3 481.1L708.6 481.6L712.2 480.9L714.2 479.1L714.9 475.8L714.1 474.4L712.8 473.6L708.7 472.4L702.2 471.4L688.4 470L680.4 469.8L677.6 470.5L675.9 472.4L675.5 475.2ZM682.9 456.4L687.9 457.7L697.4 458.8L708.3 459.5L715.4 459.2L718.5 458.1L719.7 456L719.8 453.1L719 451.9L717.7 451.1L712.9 450L703.8 449.2L692.5 448.6L685 449L682.4 450L681.1 452.2L681 454.5ZM690.3 436.1L709.7 437L715.5 436.9L719.9 436.1L721.6 435.1L722.3 434L722.7 431.7L722.4 430L720.3 428.2L716.4 427.3L697.3 426.8L691.2 427.1L687 427.8L685.2 428.6L684.5 429.6L683.9 431.4L684.1 433.3L686.1 435.1ZM696.8 414.5L714.5 414.1L718.8 413.4L721.4 412.4L722.4 411.2L722.7 408.9L722.1 406.7L721 405.6L717 404.5L710 404.2L692.7 405L688.5 405.7L685.9 406.9L684.9 408.4L684.7 410.3L685.3 412.2L686.2 413.1L689.8 414.1ZM706.8 391.8L715 390.8L719 389.3L719.9 388L720 386.3L719.6 384.6L718.5 383.1L715.7 381.9L711.6 381.6L695.9 382.5L688.6 383.6L684.5 385L683.5 386.2L683.3 387.7L683.6 389.6L684.4 390.9L686.6 392L689.8 392.4ZM704.8 369.2L711.2 368L714.3 366.3L714.9 364.7L714.6 363L713.8 361.5L712.3 360.1L709 359.4L705.4 359.4L688.8 361.2L682.5 362.7L679.8 364.3L679.3 365.7L679.6 367.6L680.2 368.9L681.6 370L684.4 370.7L687.6 370.7ZM702.1 346.6L706.1 345L707.2 343.3L707 341.6L705.8 339.6L704.2 338.5L702.5 338L693.5 338.4L677.3 341.4L674.1 342.8L672.9 344.5L673.9 347.8L676.3 349.4L683.7 349.4ZM692.3 325.7L696 324.2L697.3 322.4L696.9 320.7L695.6 318.9L692.3 317.5L683.5 318.1L668.2 321.7L665 323.3L664.1 325.2L665.6 328.2L668.3 329.4L676.3 328.9ZM682.5 305.3L684.7 303.9L685.1 302.1L683.1 299.4L679.9 298.3L675.9 298.4L669.8 299.6L660.8 302L655.8 303.8L653.6 305.3L653.1 306.2L653.3 307.3L655 309.6L657.8 310.6L667.1 309.4ZM668.1 287.2L670.4 285.9L670.9 284L668.7 281.5L665.5 280.6L661.9 280.9L655.5 282.4L646.6 285.3L642.3 287.2L640.3 288.9L640.5 290.6L642.7 292.6L645.6 293.2L654 291.6ZM653.2 270.3L654.9 268.4L654.2 266.8L651.8 265.2L648.4 264.8L644.1 265.6L638.3 267.5L631.4 270.1L627 272.4L625.6 274.1L626.3 275.6L628.3 277.1L631.2 277.4L640.7 275ZM636.5 255L637.1 254.2L637.1 253.3L635.5 251.8L632.7 250.9L629.9 251.1L624.9 252.5L617.9 255.4L612.5 258.1L610.1 259.8L609.6 261.1L610.8 262.5L613.1 263.5L615.5 263.5L620 262.3L627.9 259.3L633.9 256.7ZM617 242.9L618 241.5L617.3 240.2L614.7 239.2L611.4 239.3L602.1 242.9L596.5 245.9L593.1 248.2L592.3 249.7L593.4 251L595.8 251.8L598.2 251.5L607 248.2ZM597.4 232.2L597.9 230.9L596.6 229.8L594.4 229.3L591.2 229.9L586.2 232L580.4 235.2L576.7 237.6L574.3 239.8L574.3 241.2L575.6 241.9L577.7 242.1L580 241.7L590.5 236.6ZM576.6 224L576.9 223.1L576.4 222.6L574.9 222L572.6 222.1L570.1 222.9L561.4 227.9L557.4 230.8L555.6 232.7L555.6 233.9L557 234.6L559.1 234.5L561.4 233.8L571.2 228.2ZM554.5 218.9L554.8 217.6L553.6 217.1L551.4 217.2L549 218.1L541.6 223L538.1 226L536.7 227.9L537 228.8L538 229.1L541.8 228L550.3 222.5ZM532 215.8L531.5 214.9L530.4 214.9L527 216.3L520.8 221.3L518.4 224.3L518.5 224.9L519.6 225.1L522.7 223.8L529.5 218.6ZM506.4 217.9L506.7 217.5L506 217.5L504 219.3L504.1 219.7Z"/>
<path fill="#0cf4eb" d="M422.1 590.5L421.8 593.3L422.5 598.5L423.8 601.8L425.1 602.7L425.6 600.5L424.3 593.7L423.4 591.1L422.7 590.3ZM437.6 593.5L437.2 594.9L437.5 598.1L440 608.3L442.3 612.7L444.1 613.9L445 613.6L445.2 612.2L444.7 608.9L441.4 597.4L439.7 594L438.4 593.2ZM454.2 596.8L453.7 598.8L454.5 603L458.8 615.5L461.9 620.3L463.8 621.5L464.9 621.5L465.3 621.1L465.4 619.3L464.5 616.1L459 601.3L456.6 597.5L455.4 596.7ZM471.1 599.5L470.8 601.2L472.2 606.4L478.4 620.4L480.6 623.7L482.4 625.6L485 626.6L486.3 625.9L486.3 624.6L484.7 620.2L476.6 603.5L473.9 599.9L472.2 599.1ZM488.3 601.4L488.9 604.8L491.3 610.3L495.6 618.5L499.4 624.3L502 627.2L504.1 628.7L506.7 629.1L507.6 628L507.3 626.2L505.2 622.2L494.2 603.8L492.5 601.8L490.7 600.6L488.9 600.6ZM506 601.6L506.9 604.7L510.3 610.9L515.4 618.9L519.8 624.6L522.7 627.5L525.5 629.1L528.2 629.2L529 628.7L529.1 627.8L525.9 621.9L512 602.8L510.2 601L508.3 600.2L506.5 600.5ZM523.9 599.6L525.1 603L528.6 608.5L535.2 616.9L540.8 623.1L543.9 625.8L546.3 627L549.6 627L550.6 625.7L550 624L547.2 620.1L530.6 600.8L528.5 599.1L526.6 598.3L524.8 598.5ZM541.8 596.1L543.1 599.2L547.7 605.3L555.2 613.4L561.5 619.3L565 621.7L567.5 622.7L570.8 622.4L571.7 621.6L571.8 620.9L570.8 618.9L568.2 615.9L549.3 597.2L547 595.5L545 594.7L542.7 595ZM559.6 591.2L561.6 594.7L566.3 599.7L574.7 607.5L581.8 613.1L585.5 615.3L588.2 616.1L591.5 615.5L592.4 614.8L592.5 613.7L590.8 611.2L587.9 608.4L566.8 591L564.4 589.6L562.3 589.2L560.2 589.9ZM577 584.2L579.6 587.8L585.6 593.3L595.2 600.6L602.1 605.1L606.1 606.9L608.8 607.3L611.9 606.1L612.5 604.4L611 602.4L607.6 599.5L584.7 583.5L582.1 582.2L580 581.9L577.4 582.9ZM593.9 575.2L596.2 578.4L602.2 583.1L612.9 590.1L620.6 594.4L624.9 596L627.7 596.2L630.8 594.8L631.4 593.8L631.4 592.9L630.1 591.2L626.2 588.3L601.7 573.8L598.9 572.8L596.7 572.7L594.6 573.6ZM610.5 565.4L613.8 568.4L621.5 573.2L632.4 579.1L639.7 582.2L644.1 583.2L646.6 582.7L649.1 580.5L648.7 578.6L646.4 576.7L642 574.2L617.2 562.2L614.4 561.5L611.9 561.9L610.1 563.5ZM625.7 552.9L629.6 555.8L637.3 559.9L648.4 564.8L656.5 567.6L660.2 568.2L662.8 567.6L665.2 565.2L665.3 563.8L664.6 562.9L662.1 561.1L655.9 558.2L639.2 551.3L632.1 548.9L629.1 548.5L626.7 549.3L625.2 551ZM639.4 538.1L642.1 540.3L649.8 543.9L662.5 548.6L670.4 550.9L674.6 551.4L677.3 550.7L679.6 548.2L679.5 546.1L677.1 544.3L672.6 542.4L647 534.2L643.6 533.8L641.4 534.3L639.4 536.2ZM652.7 522.8L656.9 525.1L664.4 527.8L677.5 531.5L684.7 532.9L688.6 532.8L690.9 531.5L692.4 528.5L691.4 526.6L688.5 525.1L681.7 522.9L665.8 518.8L658.1 517.4L655 517.6L653.2 518.6L651.9 521ZM663.4 504.9L666.3 506.7L673.1 508.8L687.2 512.1L695.6 513.2L699.1 513L701.5 511.7L703 508.7L702.8 507.3L702 506.4L698.4 504.8L692 503.2L676.7 500.2L669 499.3L666.3 499.5L664.3 500.6L662.9 503ZM674.2 487.1L680 488.9L688.4 490.5L698.3 492L705.8 492.4L708.9 491.7L711 489.4L711.4 486.6L710.5 485.3L709 484.4L703.6 482.9L693.2 481.4L682.9 480.1L676.4 479.9L673.5 480.9L671.9 483.3L672 485.5ZM681.4 467.2L686 468.3L694.7 469.5L705.1 470.5L712.3 470.5L715.6 469.6L717.5 467.1L717.6 464.2L716.5 463L714.9 462.2L709.8 461.1L698.8 459.9L687.9 459.3L682.4 459.6L679.6 460.9L678.5 463.5L678.8 465.5ZM686.2 446.3L692.7 447.3L703.4 448.1L713.3 448.3L717.9 447.7L720.6 446.4L721.7 443L720.9 440.7L717.9 439.3L711.9 438.4L701.5 437.9L693.2 437.8L687.2 438.3L684.1 439.4L682.8 442.1L682.8 443.5L683.4 444.8ZM695.1 425.5L713.4 425.6L718.1 425.1L721.1 424.3L722.5 423.2L723.1 421.4L723 419.2L722 417.5L718.5 416.1L712 415.6L694.2 415.9L689.4 416.4L686.5 417.3L685.3 418.3L684.6 419.7L684.6 422.1L685.4 423.5L689 424.9ZM704.7 403.2L714.6 402.5L719.7 401.3L720.9 400.5L721.6 399.3L721.3 395.9L719.3 393.8L716.4 393.1L710.4 392.9L700.9 393.3L691.3 394.2L686.6 395.4L685.1 396.4L684.5 397.6L684.7 400.9L686.7 402.6L689.6 403.2ZM706.5 380.4L713.8 379.2L717.2 377.6L717.7 376.3L717.6 374.6L717 372.9L715.7 371.5L712.6 370.5L708.8 370.4L692 371.8L685.6 373.1L682.3 374.8L681.7 375.9L681.7 377.9L683.3 380.4L685.8 381.3L689.2 381.5ZM706.7 357.2L710.3 355.7L711.3 353.9L711 352.2L709.9 350.2L707.2 348.8L703.3 348.5L697.6 348.9L686.4 350.5L680.4 351.9L677.6 353.1L676.4 355.1L677.4 358.3L680 359.8L683.6 360.1L689.2 359.8ZM697.7 335.9L701.7 334.2L702.6 332.4L701.2 329.3L699.7 328.1L698.2 327.7L694.8 327.5L688.8 328.1L673.2 331.4L669.7 333L668.7 334.8L670 337.9L672.6 339.3L675.5 339.5L681.2 338.9ZM689.3 314.7L691.4 313L691.1 311L688.9 308.4L685.9 307.6L681.5 307.9L674.8 309.1L666.3 311.2L661 313.1L659 314.8L659.2 316.8L661 319.1L664.2 319.9L674.9 318.4L684.5 316.3ZM675.6 296.1L678.1 294.3L678.1 292.6L675.9 290.1L672.5 289.2L662.9 290.8L654.6 293.2L649.1 295.3L646.9 297.3L647.3 299L649.3 301.1L652.4 301.7L661.4 300.2ZM661.8 278L663.2 276.2L662.3 274.5L659.9 272.8L656.3 272.5L651.7 273.4L644.5 275.5L638.2 277.9L634.2 280L633.1 281.3L633.9 283.3L636 284.7L639 285.1L650.3 282.3L658.5 279.6ZM644.5 262.8L646.1 261.3L646.3 260.6L645.7 259.5L643.4 258L640.1 257.6L636 258.4L630.5 260.2L623.1 263.3L619.1 265.5L617.8 267.2L618.5 268.7L620.7 270L623.6 270.2L632.7 267.6ZM626.7 248.9L627.8 247.3L626.8 245.9L624.2 244.8L620.8 244.9L611.1 248.5L602.1 253.4L601.1 254.9L601.9 256.2L604.1 257.3L607.1 257.2L616.3 254ZM607.9 236.6L607.9 235.4L605.5 234.1L603.1 234L600.4 234.6L595.1 236.8L588.3 240.5L584.4 243.1L583.3 244.5L583.8 245.8L585.6 246.6L587.7 246.6L590.2 246L602.2 240.5L606.6 237.9ZM586.7 228.3L587.5 226.8L586.4 225.8L584.2 225.3L581 225.9L572.7 230.2L565.4 235.5L564.7 236.7L565.5 237.7L567.4 238.1L570.2 237.7L578.1 233.8ZM565.5 221.3L565.8 219.9L564.3 219.2L562 219.3L559.6 220.2L551.3 225.4L546.1 230.1L546.1 231L547.3 231.6L549.4 231.4L551.7 230.6L560.5 225.3ZM543.3 217L543.4 215.9L542.3 215.6L540.1 216L537.7 217L530.7 222.3L527.4 225.9L527.6 226.7L528.6 226.9L532.3 225.7L539.3 220.8ZM520.1 215.6L519.1 215.1L515.8 216.7L511.5 220.6L509.9 222.8L509.9 223.2L510.9 223.3L513.5 221.9L518.4 217.9Z"/>
<path fill="#ffde00" d="M449.5 605.4L449.9 607.8L451 609.6L451 607.6L450.1 605.5ZM464.8 603L464.4 604.2L464.7 606.3L467.9 614.9L470.8 619L472.2 619.9L473.3 619.6L472.5 615.4L468.7 606.6L466.4 603.4ZM481.5 604L481.5 606.1L482.5 609.2L487.8 619.8L491.6 624.1L493.6 624.8L494.6 624.4L494.7 623.1L493.5 619.9L486.7 607.3L483.8 603.9L482.4 603.5ZM499.4 603.6L498.9 604.9L500.1 608.6L503.8 615.4L507.8 621.5L510.4 624.6L512.5 626.2L514.7 626.8L515.7 626.7L516.2 626.1L516.1 624.8L514.5 621.5L505 606.9L501.7 603.8ZM516.7 603.2L517.8 606.4L520.5 610.9L525.6 617.9L529.7 622.7L532 624.8L534.3 626.1L537 626.1L537.8 624.9L535.1 619.9L523 604.6L520.9 602.8L519 602L517.2 602.2ZM534.7 600.1L535.6 602.7L538.7 607.3L544.5 614.2L549.7 619.6L553 622.2L555.4 623.2L558.1 623.1L559.1 622.5L559.2 621.8L558.4 620L556.1 616.9L541.6 601.4L539.4 599.7L537.3 598.9L535.5 599ZM552.5 595.5L554 598.7L557.6 603L564.9 610.3L570.8 615.3L574.3 617.4L576.8 618.1L579.5 617.5L580.2 616L578.5 613.4L575.8 610.6L559.6 596.1L557.3 594.6L555.2 594L553.4 594.3ZM570.2 589.4L571.7 592.1L576.6 597.1L584.8 603.9L591.4 608.5L594.4 610L597 610.6L600.1 609.5L600.6 607.9L599 605.8L595.7 602.9L577.6 589.1L575 587.7L572.8 587.3L570.7 588.1ZM587.4 580.7L587.7 582.1L588.8 583.5L592.9 587.3L602.1 594L609.4 598.5L612.8 600.1L615.7 600.8L618.5 600.2L620.1 598.6L619.2 596.6L615.7 593.6L596 580.8L593.1 579.4L590.7 578.8L588.4 579.4ZM604 571.5L606.2 574.1L611.7 578.1L622 584.2L629 587.6L633.2 588.9L635.8 588.6L638.4 586.6L638.1 584.9L636.2 583.1L631 579.9L610.9 569.2L608.1 568.5L606 568.7L604.2 570ZM619.6 559.4L621.8 561.9L628.1 565.8L638.6 571.1L646.3 574.2L650 575L652.7 574.7L654.9 573L655.5 572L655.3 570.9L653.5 569.1L649.8 567L627.6 557.1L624.4 556.3L622.1 556.5L620.2 557.7ZM634.4 546.1L636.8 548.3L642.8 551.5L654.7 556.4L662 558.7L665.9 559.2L668 558.8L670.5 556.6L670.6 554.6L668.5 552.8L664.2 550.7L641.8 542.7L638.5 542.2L636.3 542.7L634.4 544.7ZM647.9 530.9L650.7 533.1L656.8 535.7L667.5 539.3L675.8 541.4L679.1 541.7L682 541L684.1 538.5L684.3 537.3L683.9 536.3L681.4 534.6L676.3 532.6L655.2 526.7L652.4 526.5L649.9 527L648 529ZM660.1 514.4L663.9 516.5L670.4 518.7L681.2 521.4L688.9 522.7L692.1 522.6L694.5 521.3L695.9 518.9L695.9 517.7L695.4 516.7L692.7 515.2L688 513.7L673.9 510.4L666.5 509.1L663.5 509.1L661.3 510L659.6 512.3L659.5 513.3ZM670.8 496.5L674.4 498.1L682.2 500L693.2 502L699.9 502.5L702.8 501.9L704.7 500.3L705.5 497.4L705 496.2L704 495.4L700.7 494.2L694.3 492.7L682 490.7L675.4 490.2L672.5 490.5L670.3 492.1L669.5 494.8ZM678.7 476.8L682.3 478.2L689.3 479.6L701 481L707.3 481.2L710.6 480.5L712.4 478.6L713 475.9L712.4 474.6L711.4 473.8L707.3 472.5L699.6 471.3L687 470.1L681.8 470.2L679.3 471L677.9 472.5L677.4 475.3ZM686.7 457.1L701.8 458.9L709.3 459.3L713.8 458.9L716.7 457.8L717.7 456.2L718.1 454.6L717.4 452.2L714.1 450.6L699.4 449.1L690.9 448.9L686.8 449.3L683.8 450.7L682.8 453.4L683.5 455.5ZM689.9 435.6L696 436.4L706.5 436.8L712.9 436.7L717.9 436L720.1 434.4L720.8 431L720.4 429.9L719.3 428.7L716.3 427.8L710.3 427.1L699.9 427L689.1 427.8L686.7 429.2L686 430.6L685.9 432.4L686.9 434.4ZM701.5 414.3L715.4 413.6L718.8 412.7L720.5 411.3L720.7 407.9L719.8 406.3L718.8 405.6L713.6 404.5L705.7 404.5L691.4 405.6L688.1 406.8L686.9 408.3L686.9 411.6L687.6 412.5L689.1 413.4L693.6 414.2ZM710.6 391.2L715.7 390.1L717.9 388.4L718.1 386.6L717.5 384.4L715.3 382.5L712.4 382L707.2 381.9L692.5 383.2L687.8 384.3L685.6 385.8L685.2 387.3L685.4 389.2L686.2 390.6L687.3 391.4L689.6 391.9L694.2 392.2ZM707.7 368.4L711.4 367.2L712.8 365.6L712.4 362.5L711.3 361L709.9 360.3L706.2 359.7L702.2 359.8L686.4 362L682.7 363.3L681.3 365L681.7 367.9L683.8 369.8L687.1 370.4L690.9 370.3ZM700.7 346.5L704.2 345.1L705.3 343.5L704.2 340.3L702.8 339.1L701.3 338.5L697.7 338.3L692.7 338.7L679.1 341.3L675.9 342.7L674.8 344.4L675.8 347.5L678.3 349L686.4 348.9ZM691.3 325.6L694.4 324.1L695.3 322.2L693.6 319.3L691.2 318.1L688.2 317.9L682.8 318.5L669.8 321.6L667 323L666 324.9L667.4 327.7L670.2 328.9L678.5 328.3ZM679.7 305.8L682.4 304.4L683.1 302.8L681.2 300L678.1 298.9L670.5 299.8L658.1 303.3L655.9 304.7L655.2 306.4L656.8 308.9L659.5 309.9L666.5 309.2ZM666.1 287.5L668.3 286.1L668.7 284.5L666.8 282.4L663.8 281.4L656.1 282.6L644.4 286.7L642.7 288.1L642.6 289.9L644.3 291.7L647.2 292.4L654.5 291.1ZM651.8 270.1L652.5 268.5L651.1 266.8L649 265.8L646.1 265.8L635.8 268.7L631.8 270.4L628.7 272.3L627.9 273.6L629 275.4L630.9 276.3L633.3 276.5L644.2 273.5ZM634.2 255.4L634.5 254L633.3 252.9L631.2 252.1L628.5 252.1L624.4 253.2L618.3 255.7L614.6 257.5L612.5 259.3L612.2 260.4L613.6 261.8L615.7 262.4L617.5 262.3L628.4 258.6ZM615.1 242.8L614.7 241.5L613.1 240.7L611.4 240.5L608.7 240.8L599.3 245L596.8 246.6L595.3 248.2L595.8 249.5L597.2 250.1L601.4 249.8L610.8 245.8L613.6 244.2ZM593.7 233.8L594.5 232.7L593.9 231.7L592.4 231.2L589.9 231.4L585.1 233.3L578.3 237.7L577.7 238.9L578.1 239.7L579.5 240.2L581.8 239.9L587.2 237.7ZM572 226.1L572.3 225.3L571.7 224.7L568.2 225.1L563.6 227.7L560.5 230.4L560.3 231.2L560.9 231.6L563.7 231.3L569.5 228.1Z"/>
<path fill="#00ccff" d="M456.5 603L456.6 606.1L459 612.8L460.9 615.5L461.9 616L462.6 615.5L461.9 611.7L459.4 605.4L457.5 602.9ZM473.1 603.5L472.8 605.2L473.4 607.7L477.8 617.7L480.8 621.7L482.8 622.8L483.9 622.4L483.3 618.9L477.9 607.5L475.1 603.8L474.2 603.3ZM490.2 604.2L490.2 606L492.2 611L498.5 622L500.5 624.3L502.5 625.8L504.6 626.1L505.4 625.3L505.1 623.6L503.7 620.5L495.9 607.4L492.8 604.1L491.4 603.6ZM507.8 603.8L508.3 606.2L510.8 611L518.7 622.4L521.5 625.2L523.7 626.6L525.8 626.9L526.8 626.4L527 625.8L526.6 624.1L524.2 620.1L513.5 605.5L510.2 603L508.6 603ZM525.9 601.2L526.2 603.8L528.5 607.7L534.5 615.6L539.4 621.2L542.5 623.8L544.9 624.9L547.6 624.9L548.6 623.9L548 622.2L545.9 619.1L532.9 603.8L529.2 600.9L527.3 600.6ZM543.6 598L544.8 600.9L548.3 605.5L555.1 612.9L560.7 618L564 620.3L566.5 621L569.1 620.5L569.8 619.2L568.6 616.9L566 614L550.7 599L548.4 597.4L546.3 596.6L544.5 596.9ZM561.4 592.4L562.1 594.5L566.1 599.2L573.8 606.4L580 611.4L583.7 613.7L586.4 614.6L589.2 614.2L590.1 613.6L590.5 612.7L589.3 610.4L586.3 607.5L569 593.1L566.5 591.5L564.3 590.9L562.1 591.4ZM578.8 585.3L580 587.7L584.6 592.1L593.2 598.9L600.1 603.6L604.1 605.5L606.8 605.9L609.5 605.1L610.5 603.5L609.3 601.5L605.8 598.5L586.5 585L583.8 583.7L581.6 583.3L579.5 584.1ZM595.8 576.6L597.8 579.2L602.9 583.3L611.7 589.1L619.3 593.4L622.8 594.7L625.6 595.1L628.7 593.8L629.4 592.9L629.4 592L628.2 590.3L624.2 587.4L602.8 574.9L600.1 574L598 574L596 575.2ZM611.9 565.5L614.1 568.2L619 571.5L628.8 577.1L637.3 581L641 582.1L643.8 582.1L646.7 580.3L647.2 579.2L646.9 578L644.1 575.7L639.9 573.3L619.4 563.4L616.4 562.6L614.2 562.8L612.3 564.1ZM627.3 553.2L630.4 555.9L637 559.5L648.1 564.5L654.9 566.8L658.6 567.3L661.1 566.7L663.1 564.8L663.4 563.6L663 562.7L661 561L656.4 558.7L634.4 550L631.3 549.4L629.2 549.9L627.4 551.3ZM641.3 538.6L644.3 541.1L650.8 544.1L662.1 548.3L669.7 550.4L672.8 550.7L675.5 550L677.4 548L677.8 546.9L677.6 545.8L675.9 544.3L671.5 542.2L648.7 534.9L646 534.5L643.6 534.9L641.5 536.8ZM654 522.5L656.3 524.4L662.1 526.8L673.8 530.4L682.6 532.2L685.8 532.3L688.5 531.4L690.2 529.1L690.4 528L690 526.9L687.9 525.3L682.4 523.3L661.1 518.1L658.2 518L655.8 518.7L654 520.8ZM665.5 505.5L669.4 507.5L676.5 509.5L688.4 512.1L694.7 512.8L697.7 512.4L699.9 511L701 508.4L700.8 507.1L700.1 506.3L696.6 504.6L690.3 503.1L677.4 500.6L671.3 499.8L668.3 500L666.2 501L664.8 503.4L664.8 504.5ZM676.4 487.5L681.8 489.1L692.7 491L699.6 491.9L704.6 491.9L707.9 490.7L709.4 488.3L709.3 485.9L706.8 484.2L701.1 482.7L691.3 481.3L681.9 480.3L677.8 480.4L675.2 481.5L673.8 484L674.2 486.1ZM682.3 466.9L686.5 468.1L693.3 469.2L703.9 470.2L710.8 470.2L713.9 469.2L715.6 466.7L715.5 463.8L713.2 462.2L708.4 461.2L700.5 460.3L692.3 459.7L685.3 459.7L682.3 460.5L680.7 462.6L680.5 465.2ZM687.2 446L692.3 447L701 447.8L711.4 448L716.1 447.5L718.7 446.1L719.7 443.4L719.3 441.1L717 439.6L712.7 438.8L705.4 438.2L695.7 438L689.1 438.4L686 439.6L684.9 441.4L684.9 444.2L685.8 445.3ZM692.1 425L710.3 425.5L715.5 425.1L719 424.3L720.5 423.1L721.1 422L720.9 418.6L719.1 417L714.6 416L697.2 416L692 416.4L688.7 417.3L686.7 419.2L686.7 422.5L688.1 424ZM709 402.8L715.4 402L718.8 400.7L719.6 399.5L719.8 397.8L719.5 396.1L718.3 394.5L716.4 393.7L712.2 393.2L697 393.8L690.1 394.8L687.1 396.3L686.4 397.3L686.2 399.3L686.8 401.1L687.7 402L689.7 402.7L694.4 403.2ZM709.9 379.7L714.1 378.5L715.7 376.7L715.8 375L715 372.9L712.4 371.2L705.1 370.8L689.1 372.6L685.4 373.8L683.7 375.4L683.5 376.9L684 378.8L684.9 380L686.3 380.7L692.9 381.2ZM704.5 357.4L707.8 356.3L709.3 354.6L709.3 352.8L708.6 351.3L707.4 349.9L705.9 349.3L702.2 348.9L696.7 349.2L683 351.5L679.4 353L678.3 354.8L679 357.6L681.4 359.4L684.7 359.7L690.1 359.4ZM696.3 335.9L699.8 334.3L700.6 332.7L699.2 329.6L696.9 328.3L693.9 327.9L688.1 328.5L674.7 331.3L671.5 332.9L670.7 334.8L671.9 337.5L674.6 338.8L682 338.6ZM685.8 315.5L688.9 313.9L689.4 312.3L687.9 309.7L684.9 308.3L677 309L663.7 312.5L661.2 314.2L660.9 315.6L662.4 318.1L665.2 319.3L672.7 318.6ZM673.2 296.5L675.5 295.2L676.1 293.4L674.5 291.2L671.6 290L667.9 290.1L663.6 291L651.7 294.7L649.5 296.2L649 297.7L650.6 300L653.3 301L660.8 300ZM658.2 279.2L660.4 277.7L660.7 276L658.7 274L655.6 273.3L648.1 274.7L637.4 278.8L635.7 280.1L635.5 281.6L637.1 283.5L639.8 284.2L646.6 283ZM643 262.7L643.7 261.9L643.7 261L642.6 259.7L640.6 258.7L637.9 258.6L633.7 259.6L628.2 261.6L623.4 263.7L620.7 265.5L620.2 266.8L621.3 268.3L623.2 269.1L625.7 269.1L636.1 266ZM624.7 249L624.9 247.6L623.7 246.6L621.4 246L618.7 246.2L609.8 249.6L604.2 253.1L604 254.5L605.1 255.5L606.6 256L609 256L619.3 252.2ZM603.7 238.8L604.9 237.5L604.4 236.2L602.3 235.5L599.8 235.7L593.2 238.4L587.1 242.3L586.5 243.5L587.1 244.4L588.5 245L590.8 244.9L596.3 242.8ZM583.3 229.3L583.6 228.4L582.7 227.7L581 227.5L578.5 228.1L572.3 231.4L569 234.3L568.9 235.1L569.8 235.7L573.2 235.3L580 231.8ZM559.8 223.8L560 222.9L557.8 223.1L555.2 224.4L552.5 226.8L552.4 227.4L552.9 227.6L554.6 227.2Z"/>
<path fill="#ffb900" d="M484.4 608.9L484.7 611.4L487.6 617.2L490.4 620.2L491.4 620.4L491.7 619.8L490.7 616.5L487.3 610.5L485.6 608.7L484.8 608.5ZM501.1 607.2L501.2 608.5L502.4 611.7L507.8 620.3L511.5 623.6L513 623.9L513.9 623.1L512.4 619.2L505.9 609.4L503.1 606.8L501.6 606.6ZM518.6 605.3L519.3 607.9L521 610.8L528.4 620.6L532.4 623.7L534.6 624.1L535.7 623.4L535.4 621.7L533.9 619.2L524.6 607.3L521.1 604.5L519.6 604.4ZM536.4 602L537.3 604.5L539.9 608.2L545 614.3L549.6 618.8L552.1 620.7L554.5 621.5L556.6 621.3L557.3 620.1L556.4 618.1L554 615.1L542.3 602.8L538.6 600.8L537.1 601ZM554.3 596.8L555.1 599.3L557.5 602.3L564 609.1L569.1 613.5L572 615.4L574.5 616.5L576.8 616.4L578.3 615.3L577.9 613.6L575.3 610.5L561.8 598.3L559.3 596.5L557.1 595.7L555.2 595.9ZM571.9 590.1L572.8 592.6L576.4 596.5L583.8 602.8L589.5 606.9L592.6 608.6L595.2 609.3L597.9 608.6L598.8 607.3L598.1 605.7L595.1 602.7L579.2 590.6L574.9 588.8L573 589ZM589 581.9L590.2 584.2L593.6 587.4L601 592.9L608.2 597.5L611.6 599.1L614.4 599.7L616.7 599.2L618.3 597.7L617.8 596L615 593.5L597.1 581.8L594.2 580.5L591.9 580.1L590 580.6ZM605.7 572.5L608 575.1L613.5 579L621.7 583.8L628.6 587.1L631.9 587.9L634.4 587.7L636.5 586.1L636.6 584.5L634.4 582.3L630.2 579.7L612.1 570.2L609.4 569.5L607.3 569.8L605.8 570.9ZM621.2 559.8L622.7 562L627.8 565.4L637.1 570.2L644.8 573.3L648.5 574.2L651.2 573.9L653.4 572.2L653.8 571.1L653.6 570.2L651.7 568.4L647.4 566.1L628.9 557.9L625.8 557.1L624 557.2L621.9 558.4ZM636.7 547.6L640.9 550.3L647.7 553.4L656.8 556.9L662.5 558.4L665.8 558.4L667.8 557.3L669.2 554.8L668.1 553.2L659.9 549.2L642.4 543.2L639.4 543L637.4 543.7L635.9 545.5L635.9 546.5ZM649.7 531.5L652.3 533.5L657.8 535.9L668.5 539.4L675.2 540.9L678.2 541.1L680.8 540.2L682.5 538L682.6 536.8L682.1 535.8L679.8 534.3L675.1 532.5L662 528.6L655.9 527.2L653.3 527.1L651.1 527.8L649.5 529.6L649.3 530.6ZM661.9 514.8L665.2 516.7L671.6 518.8L682.3 521.4L688.1 522.2L691 522L693.1 520.6L694.3 518.1L693.6 516.4L690.9 514.9L686.5 513.5L674.5 510.7L667.3 509.6L664.6 509.7L662.6 510.7L661.2 513.2ZM672.5 496.8L676.2 498.3L683.7 500.1L692.4 501.7L698.9 502.1L701.6 501.4L703.5 499.2L703.8 496.9L702.2 495.2L698.9 494L692.5 492.6L682.9 491.1L676.4 490.6L673.8 491L671.8 492.8L671.1 495.1ZM680 476.7L683.7 478.2L691 479.6L700 480.7L706.1 480.9L709.2 480.1L710.6 478.7L711.3 476L711 474.8L710.1 473.9L706.8 472.7L701.2 471.7L690.7 470.6L684.4 470.4L681.3 471L679.9 472.1L678.9 474.8ZM686.8 456.6L691.9 457.8L700.1 458.6L707.9 459L712.3 458.7L715.1 457.5L716.3 455.4L716.1 452.6L714 451.1L709.8 450.2L701.8 449.4L692.5 449.1L688.3 449.5L685.8 450.6L684.5 452.8L684.8 455.2ZM693 435.8L709 436.6L714.2 436.3L716.9 435.6L718.1 434.8L719 433.2L719.2 431.5L718.8 429.8L716.8 428.4L712.9 427.6L697.7 427.2L693.4 427.5L689.7 428.3L687.8 430.2L687.4 432.1L687.8 433.5L689.5 435ZM696.3 414.1L711 413.8L715.5 413.2L717.9 412.2L718.8 411.4L719.3 409.7L719.1 408L718.2 406.4L715.3 405.1L710.5 404.7L696.2 405.2L691.9 405.9L689.8 406.7L688.8 407.7L688.2 409.1L688.4 411.1L689.2 412.4L691.5 413.5ZM705.4 391.4L712.3 390.5L715.5 389.3L716.4 388L716.5 386.9L716.2 385.2L715.3 383.7L713.8 382.8L710.4 382.2L697.7 382.8L691.3 383.7L688 385L686.8 387L687 389L687.7 390.3L689.7 391.4L693 391.9ZM705.1 368.6L709.5 367.3L711.2 365.7L711.2 364L710.6 362.4L708.6 360.7L705 360.1L701.2 360.2L689 361.7L684.9 363L683.1 364.4L682.8 365.6L683.2 367.5L685.1 369.4L688.3 370L692.1 370ZM699.3 346.5L702.5 345.2L703.6 343.6L703.3 341.9L702.4 340.4L700.1 339L693.6 338.9L680.6 341.3L677.8 342.5L676.5 343.9L677.2 346.8L679.5 348.5L685.5 348.7ZM690.7 325.3L692.9 324L693.4 322.2L691.8 319.6L689.3 318.6L686.1 318.5L680.6 319.3L670 322.1L668.2 323.4L667.9 325.1L669.1 327.3L671.2 328.3L674 328.5L679.2 327.9ZM679.8 305.1L681.1 303.5L680.6 301.8L679 300.3L676.3 299.5L672.2 299.8L666 301.2L660.5 302.9L657.9 304.2L657.1 305.6L657.8 307.5L659.3 308.8L662 309.3L672.4 307.6ZM664.1 287.8L666.3 286.4L666.6 284.8L664.6 282.8L662.1 282.2L655.5 283.2L646.8 286.2L645 287.4L644.5 288.8L646 290.8L648.1 291.6L654.1 290.9ZM648.9 271L650.1 269.7L649.7 268.3L647.9 267L645.3 266.7L638.2 268.4L631.2 271.6L630.3 273L630.7 274.1L632.4 275.2L634.8 275.5L640.8 274.1ZM630.4 256.9L631.7 255.7L631.5 254.4L630.1 253.6L627.7 253.3L622.1 254.7L616.3 257.6L615.3 258.5L615.1 259.7L616.2 260.7L618.3 261.1L623.6 259.9ZM611 244.4L611.5 243.7L611.3 242.9L609.8 242.3L607.9 242.3L604.2 243.5L599.4 246.4L599 247.2L599.5 248L602.2 248.4L606.5 246.9Z"/>
<path fill="#00a4ff" d="M478 612.4L478.3 614.3L479.5 615.3ZM492.8 607.6L492.5 608.9L493.2 611.1L497.2 618.5L500.1 621.8L501.6 622.6L502.6 622.6L502.9 621.3L502.2 619.4L497.6 611.4L494.8 608.1L493.9 607.5ZM510 606L509.8 607.3L511.2 610.7L517 619.5L521.4 623.7L523 624.3L524.5 624.1L524.8 622.9L523.7 620.4L516.1 609.5L512.6 606.1L511.2 605.6ZM527.5 603.7L527.8 605.4L530.2 609.4L538.7 619.7L541.1 621.8L543.4 622.9L545.6 623L546.6 622.1L546.2 620.7L544 617.4L533.6 605.3L529.9 602.8L528.5 602.8ZM545.4 599.4L546 601.6L548.8 605.6L559.1 616.2L561.8 618.2L564.3 619.2L567 619.1L567.9 618L567.3 616.2L564.7 613.1L552.1 600.8L548.2 598.5L546.3 598.6ZM563.1 593.7L564 596.2L567.4 600.1L579 610.3L582 612.1L584.7 613.1L587.4 612.9L588.7 611.6L587.8 609.6L585.7 607.4L570.6 594.7L568.1 593.1L565.8 592.4L564 592.8ZM580.5 586.5L581.7 588.8L586 593L593.9 599.1L599.8 603L602.9 604.4L605.6 604.7L608.1 603.8L608.7 602.5L607.5 600.5L604.1 597.6L587.6 586.1L583.2 584.6L581 585.4ZM597.4 577.7L599.5 580.2L604.6 584.2L612.4 589.3L619 592.8L622.3 593.9L624.9 594L627.3 592.7L627.7 591.3L626.1 589.2L622.3 586.4L604.8 576.2L601.9 575.2L599.7 575.1L597.7 576.2ZM613.7 566.8L616.2 569.3L622 573.1L630.7 577.8L636.9 580.5L640.4 581.3L642.9 581L645.1 579.4L645.3 577.6L643.4 575.7L639 573.1L620.7 564.3L617.7 563.6L615.6 563.8L613.7 565.2ZM628.8 553.6L631 555.9L636.6 559.1L646.5 563.6L653.3 566L657 566.6L659 566.2L661.2 564.6L661.7 563.5L661.5 562.4L659.6 560.7L655.5 558.5L635.9 550.8L633.4 550.3L631.1 550.5L629.2 551.9ZM643.2 539.6L646.8 542.1L653.2 544.9L663 548.4L669.1 549.9L671.9 550L674.3 549.1L676 546.9L676 545.7L675.5 544.9L673 543.2L668.5 541.4L656.4 537.3L649.4 535.4L646.2 535.3L644.2 536.1L642.8 537.9ZM656 523.4L659.1 525.4L664.9 527.6L674.8 530.4L681.9 531.8L684.9 531.7L687.2 530.6L688.7 528.2L688.3 526.5L686.1 525L681.1 523.2L668.5 519.8L661.9 518.6L659.2 518.6L657.1 519.5L655.5 521.8ZM667.3 505.9L670.8 507.6L677.9 509.7L687.7 511.7L693.7 512.3L696.6 511.8L698.5 510.3L699.4 507.7L698.4 506L694.8 504.4L688.8 502.9L678.1 500.9L672.2 500.3L669.5 500.5L667.5 501.7L666.4 504.3ZM677.3 487.4L683.2 489.1L691.7 490.7L698.6 491.5L703.4 491.5L706 490.6L707.7 488.3L707.7 486L705.8 484.4L702.1 483.2L695.4 482L684.9 480.8L680.1 480.7L677 481.6L675.6 483.6L675.4 485.6ZM683.7 466.8L687.8 468.1L695.7 469.2L705.2 470L709.5 469.9L712.5 468.9L713.7 467.4L714.1 464.7L713.6 463.4L712.5 462.7L708.8 461.5L702.4 460.6L693.7 460L686.7 460L683.8 460.9L682.4 462.5L682.2 465.4ZM690.2 446.4L704.9 447.8L714.5 447.3L717.1 446L718 444.4L718.1 442.7L717.3 440.8L714.4 439.4L708.8 438.6L698.9 438.2L693.5 438.3L689.3 438.9L686.8 440.6L686.3 443.4L687.3 445.1ZM695.2 425L710.3 425.3L715.2 424.8L717.7 424L718.9 423.1L719.6 421.5L719.6 419.8L718.9 418.1L716.3 416.7L712 416.1L696.8 416.2L692.5 416.7L689.6 417.7L688.6 418.7L688.1 420.2L688.6 423L690.8 424.3ZM702.9 402.9L710.3 402.4L715 401.6L717.6 400.3L718.2 398L717.3 395.2L714.8 393.9L710.5 393.4L702.7 393.6L695.3 394.2L690.6 395.2L688.4 396.5L687.8 398.6L688.4 400.9L690.6 402.4L695.5 403ZM706 380L711.5 378.9L713.8 377.3L714.2 375.9L713.9 374.2L713.1 372.7L712 371.9L709.9 371.2L706.3 371L693 372.2L687.9 373.4L685.5 374.9L685.1 376L685.3 378L686.9 380.1L691.9 380.9ZM702.7 357.4L706.3 356.2L707.7 354.5L707.5 352.8L706.8 351.3L704.6 349.7L701.2 349.3L697.7 349.4L684.9 351.4L681.6 352.6L680.1 354.1L680.5 357.1L682.6 358.9L689.1 359.2ZM695.7 335.6L698 334.5L698.8 332.9L697.4 329.9L695 328.6L691.7 328.4L687.3 328.9L675.3 331.6L673 332.9L672.4 334.4L673.6 337.1L675.7 338.3L682.8 338.2ZM685.5 315.1L687.3 313.8L687.4 311.9L685.7 309.8L683 308.8L674.9 309.7L667.6 311.5L664.5 312.8L662.8 314.3L662.9 316L664.5 317.9L666.9 318.7L674.8 317.9ZM670.7 296.9L673.5 295.4L674.2 294.2L672.8 291.8L669.9 290.7L664.1 291.2L654.1 294.2L651.8 295.5L651 297L652.3 299.2L654.2 300.2L660.4 299.7ZM656.5 279.3L658.3 278L658.5 276.5L656.5 274.7L653.9 274.2L647.5 275.4L639.2 278.6L637.8 279.7L637.8 281.3L639.2 282.7L641.4 283.3L647.2 282.4ZM640.4 263.3L641.2 262.3L640.4 260.7L638.3 259.8L636.3 259.7L629.4 261.6L623.4 264.8L622.8 266L623.4 267.1L625.3 268L627.1 268.1L633.8 266.3ZM621.4 250L622 249.2L621.4 248.1L619.8 247.5L617.9 247.5L612.5 249.2L607.6 252L607 253.3L607.8 254.1L609.2 254.6L611.1 254.5L617.4 252.3ZM599.7 239.7L600.3 239L600.4 238.3L598.2 237.9L595.4 238.8L592 240.8L591.4 241.5L591.5 242.2L593.6 242.4Z"/>
<path fill="#ff9400" d="M505 612.2L505.4 613.8L506.8 616.5L508.3 618.4L510 619.2L509.8 617.5L508.3 615.1L506.4 612.6ZM521 607.8L521.3 609.5L522.6 611.9L527.7 618.7L531.1 621.2L532.6 621.4L533.3 620.7L531.6 617L525.3 609.2L522.7 607.3L521.7 607.2ZM538.5 603.5L538.7 605.2L540.3 608L547.5 616.2L551.8 619.3L553.5 619.6L555 619.2L555.1 617.9L553.6 615.4L544.9 605.9L540.9 603.1L539.4 602.9ZM556 599.1L557.1 601.2L560.2 604.8L565.3 609.8L569.6 613.3L572.3 614.7L574.6 615L576.4 614.2L576.3 612.8L572.2 608.1L561.4 598.6L559.1 597.5L557.5 597.3L556.2 597.9ZM573.5 591.8L574.5 593.8L577.8 597.4L584.4 602.9L589.2 606.3L592.1 607.7L594.6 608L596.6 607.2L597 605.8L595.5 603.7L592.5 601L579.5 591.4L577 590.3L575.4 590.1L574 590.7ZM590.6 583L591.8 585.3L595.2 588.4L602.6 593.7L607.9 597L611.1 598.3L613.8 598.6L616.3 597.5L616.7 596.2L615.7 594.7L612.1 591.7L597.4 582.4L594.7 581.3L593 581.2L591.2 581.9ZM607.1 573.1L608.5 575L613.2 578.5L621.4 583.4L627.2 586.2L630.5 587.1L632.5 586.9L634.8 585.6L635.1 584L633.5 582.2L629.4 579.5L614.1 571.4L611.2 570.5L609.5 570.5L607.4 571.6ZM622.9 561.2L624.7 563.1L629.8 566.2L637.9 570.3L644.4 572.8L647.8 573.5L649.8 573.1L651.9 571.5L652.1 569.9L650.3 568L646.5 565.9L629.4 558.4L627.1 557.9L624.8 558.2L622.9 559.6ZM637.6 547.3L639.8 549.3L644.6 551.9L653.9 555.7L659.8 557.5L662.7 557.9L665.4 557.4L667.2 555.8L667.5 554L666 552.4L662.1 550.3L650.6 545.9L643.9 543.9L641.4 543.6L639.2 544.1L637.5 545.7ZM651.4 532.2L654.7 534.3L660.4 536.6L669.4 539.4L674.5 540.5L677.4 540.5L679.7 539.5L681.1 537.1L680.4 535.3L677.8 533.8L672.1 531.7L662.6 528.9L656.6 527.7L654.2 527.7L652.2 528.6L650.8 530.6ZM663.3 515L666.2 516.8L670.9 518.4L680 520.7L686 521.7L689.2 521.6L691.1 520.8L692.7 518.5L692.8 517.3L692.2 516.3L689.9 515L685.1 513.4L673.5 510.7L668.1 510.1L665.6 510.3L663.7 511.4L662.7 513.5ZM673.9 496.9L677.5 498.4L685.1 500.2L693.5 501.5L697.8 501.6L700.4 500.9L701.9 499.2L702.4 497L700.8 495.2L697.3 493.9L690.9 492.5L681.8 491.2L677.4 491L674.9 491.5L673.3 492.9L672.6 495.2ZM683 477.6L688 478.9L696.1 480.1L701.3 480.5L706.2 480.3L708.5 479.3L709.8 476.8L709.4 474.7L707.2 473.2L695.1 471.2L689.3 470.7L684.3 470.9L681.6 472.1L680.5 474.3L681 476.4ZM687.7 456.3L691.5 457.4L698.1 458.2L706.4 458.7L710.9 458.4L713.7 457.3L714.9 455.2L714.8 452.9L712.7 451.2L703.7 449.8L694.2 449.4L689.8 449.7L687.2 450.8L686.1 452.6L686.2 455ZM692.1 435.3L697.3 436L705.1 436.3L714.5 435.7L717 434.2L717.7 431.5L716.7 429.2L714.2 428.2L709 427.6L700.3 427.4L695.1 427.6L691.3 428.4L689.5 429.8L689 432.6L689.7 434.1ZM699.8 413.9L712.7 413.3L715.5 412.7L717.2 411.5L717.8 408.7L717.2 407L716.2 406.2L712.8 405.2L707.4 404.9L695 405.7L692 406.4L690.3 407.5L689.7 410L690.7 412.4L694.1 413.5ZM702.3 391.4L709.2 390.8L713 389.8L714.8 388.3L715 386L713.9 383.9L711.3 382.8L707.2 382.4L700.1 382.8L693.9 383.6L690.1 384.6L688.4 386.2L688.4 388.7L689.5 390.5L691.8 391.3ZM702.8 368.6L707.5 367.5L709.4 366.2L709.6 363.9L708 361.4L705.3 360.5L702.1 360.4L691.3 361.6L687 362.7L684.8 364.1L684.4 366.6L685.8 368.7L688.2 369.5L691.2 369.7ZM698.3 346.3L700.8 345.3L702 343.6L701.1 341L698.9 339.5L692.7 339.3L681.6 341.4L678.8 342.8L678 344.3L678.8 346.7L680.7 348L686.5 348.3ZM687.5 325.8L690.4 324.7L691.7 323.5L691.2 321.2L688.9 319.4L686.3 319L682.7 319.3L673.1 321.4L670.4 322.8L669.5 324.1L670.4 326.5L672.3 327.7L677.3 327.8ZM677 305.7L679 304.3L679.1 302.9L677.8 301.2L675.3 300.2L669.1 300.9L660.9 303.4L659.5 304.4L659 305.9L660.1 307.6L662.2 308.6L668 308.2ZM662.4 287.8L664.1 286.5L664.4 285.3L662.9 283.7L661.1 283.1L655.7 283.7L648.6 286.1L646.9 287.5L646.8 288.6L648.1 290.2L649.7 290.7L654.9 290.1ZM646.5 271.1L647.4 270L647 268.9L645.5 268.1L643.6 267.9L639.2 268.8L634.1 271.1L633.2 272.1L633.4 273.2L634.7 274.1L636.5 274.3L641.7 273.1ZM626.9 257.1L627.6 256L625.6 255.2L623.3 255.7L620.3 257.2L619.5 258.5L621 259.1L623.2 258.7Z"/>
<path fill="#0080ff" d="M512.7 609.5L513.2 612.2L516.9 617.9L519.6 620.5L520.7 621L521.8 620.9L522 620L521.5 618.7L517.2 612.3L514.6 609.7L513.6 609.3ZM529.7 605.6L529.9 607.4L531.2 609.9L537.3 617.5L540.9 620.3L542.6 620.9L544.1 620.6L544.3 619.4L542.9 616.9L536 608.7L532.1 605.5L530.6 605.1ZM547.2 601.3L547.8 603.3L549.9 606.3L558.2 614.8L562.7 617.5L564.9 617.6L565.9 616.8L565.5 615.1L563.4 612.3L553.6 602.7L549.6 600.3L548.1 600.4ZM564.8 595.5L565.4 597.1L568.7 601L578.8 609.6L581.6 611.2L584.1 611.8L586.2 611.3L586.9 610L586 608.5L583.3 605.6L570.9 595.5L568.4 594.2L566.8 593.9L565.3 594.4ZM582.1 587.7L583.1 589.6L586.6 593.2L593.6 598.6L598.7 601.9L601.8 603.3L603.7 603.6L606.4 602.8L607 601.5L605.9 599.6L603.4 597.5L588.6 587.2L586 586L584.3 585.9L582.6 586.5ZM598.9 578.3L600.1 580.2L604.3 583.7L612.1 588.9L617.7 591.9L621 593L623.6 593L625.5 592L626 590.3L624.7 588.6L621.5 586.3L606 577.2L603.1 576.2L601.4 576.1L599.3 577.1ZM615 567L616.5 569.1L620.5 571.9L629.3 576.9L635.5 579.6L639 580.5L641 580.4L643.4 579L643.9 578L643.8 577.2L642.3 575.5L638.1 572.9L622 565.2L619 564.4L617.3 564.5L615.7 565.5ZM630.6 554.9L633.3 557L638.7 559.9L647.3 563.7L652.8 565.5L655.5 565.9L658.1 565.4L660 563.5L659.8 561.7L658.2 560.3L653 557.7L642.6 553.3L636.4 551.3L633.5 551L631.5 551.7L630.3 553.1ZM644.4 539.6L646.3 541.4L651.2 543.9L661.2 547.6L667.4 549.2L670.3 549.4L672.8 548.6L674.5 546.5L674.4 545L672 543.1L667.4 541.2L651 536.1L648.4 535.8L646.1 536.4L644.4 538.1ZM657.7 523.9L660.3 525.5L666 527.7L675.8 530.4L681.1 531.3L683.9 531.1L686.1 529.9L687.2 527.4L686.2 525.7L683.1 524.2L677.8 522.5L667.6 519.9L662.6 519.1L660.1 519.2L658.2 520.2L657 522.2ZM668.7 506L671.7 507.6L677.1 509.2L685.1 511L691.6 511.9L694.7 511.6L696.5 510.6L697.8 508.2L697.7 506.9L697.1 506L694.2 504.6L689.8 503.4L678.9 501.3L673.1 500.7L670.5 501.1L668.8 502.3L667.9 504.5ZM678.3 487.2L682.4 488.7L690.8 490.3L697.7 491.2L702.3 491.1L704.7 490.2L706.3 487.8L706.2 486L704.5 484.4L700.7 483.2L693.5 482L685.9 481.1L681.2 481.1L678.7 481.7L677.1 483.7L676.9 485.6ZM684.6 466.5L687.9 467.8L694.1 468.8L703.5 469.7L708.2 469.6L711.1 468.6L712.5 466.6L712.6 464.4L710.8 462.6L707.5 461.6L701.9 460.8L692.3 460.2L688 460.3L685.2 461.2L684 462.4L683.5 464.7ZM690.2 445.9L694.9 446.8L702.4 447.4L713 447.1L715.7 445.8L716.7 443.1L715.9 440.8L713.5 439.7L701.9 438.5L695.6 438.5L690.9 439.1L688.6 440.3L687.7 442.6L688.2 444.6ZM693.9 424.5L706.9 425.1L715.5 424.2L717.7 422.6L718.2 420.9L718 419.2L716.7 417.6L713.3 416.6L699.4 416.3L695.1 416.7L691.6 417.5L689.8 419.2L689.6 422.1L690.7 423.5ZM706.8 402.5L712.4 401.8L715.9 400.5L716.8 398.1L715.9 395.4L714.5 394.5L711.5 393.8L698.8 394.1L693.2 394.9L690.1 396.3L689.4 397.4L689.2 398.9L690.2 401.2L691.6 402L695.1 402.6ZM703.3 380L709.3 379L712.1 377.6L712.7 375.1L711.3 372.6L709.8 371.8L707 371.4L695.2 372.2L690.1 373.1L687.5 374.4L686.6 376.6L687.8 379.4L690 380.3L693.3 380.6ZM700.9 357.5L704.6 356.3L706 355L705.7 352.3L704.7 350.9L703.4 350.2L700.1 349.7L696.7 349.8L686.7 351.4L683.4 352.4L681.6 354L681.9 356.6L683.9 358.5L686.9 359L690.2 358.9ZM695 335.3L697 333.8L697 332L695.7 330.1L693 329L684.7 329.7L676 331.9L674.3 333.4L674.2 335.2L675.2 336.9L677.6 337.9L685.5 337.5ZM682.7 315.6L685.1 314.3L685.8 313L684.4 310.6L682 309.5L675.4 310L667.2 312.2L665 313.6L664.5 314.9L665.7 317.1L667.9 318.1L673 317.8ZM669.1 296.9L671.5 295.6L672.1 294.4L671 292.5L668.8 291.5L663.3 291.9L655.8 294.2L653.8 295.3L653 296.6L653.9 298.4L655.9 299.4L661.2 299.1ZM655.8 278.5L656.2 277.3L655.2 276L653.6 275.3L651.4 275.2L644.6 277L640.4 279.2L640.1 280.3L640.6 281.3L641.9 282.1L643.7 282.3L651.3 280.6ZM637.4 263.6L638 262.8L637.4 261.8L634.5 261.2L630.2 262.3L626.8 264.1L626.1 265.2L626.3 265.8L627.2 266.4L628.9 266.6L633 265.7Z"/>
<path fill="#ff7300" d="M540.9 606.2L541.3 607.7L542.6 609.8L547.8 615.4L551.4 617.3L552.4 617.1L552.7 616.2L551 613.4L545.1 607.2L542.3 605.5L541.4 605.5ZM558 600.8L561.3 605.3L568.6 611.8L571.2 613.2L572.9 613.4L574.4 612.7L574.2 611.2L570.1 606.7L562.3 600.1L560.6 599.3L559 599.1L558.2 599.5ZM575.2 592.5L575.4 593.9L577.5 596.5L587.4 604.6L592.3 606.7L594.4 606.4L595.3 605.2L594.3 603.3L592 601.1L582 593.4L577.5 591.5L576.1 591.7ZM592.2 584.2L593.5 586.4L596.7 589.2L607.6 596.3L610.6 597.5L612.5 597.6L614.5 596.7L615.1 595.6L613.9 593.8L611.4 591.7L598.6 583.5L595.8 582.4L594.1 582.3L592.4 583.2ZM608.6 573.7L610.2 575.8L613.8 578.6L621.1 582.9L625.9 585.3L629.2 586.2L631.1 586.1L633.1 585.1L633.6 583.5L632.2 581.8L628.7 579.4L615.4 572.3L612.4 571.4L610.7 571.5L609 572.3ZM624.2 561.3L625.4 563.1L629.3 565.7L637.5 569.9L642.9 572L646.4 572.7L648.4 572.5L650.2 571.3L650.7 569.5L649 567.7L645.7 565.7L630.8 559.3L626.6 558.8L624.9 559.7ZM639.2 548.1L642.4 550.4L646.9 552.6L654.7 555.7L659.3 557L662 557.3L664.5 556.6L666.1 554.4L665.6 552.9L663.1 551.2L659.5 549.5L649.8 545.9L644.5 544.4L642.2 544.3L640.1 545L638.9 546.4ZM652.3 531.7L653.8 533.3L658.2 535.5L666 538.2L672.7 539.8L675.7 540L677.7 539.4L679.3 537.9L679.5 535.9L677.9 534.4L674.8 532.9L659.3 528.5L656.4 528.2L654.5 528.6L652.6 530.1ZM665 515.5L667.6 517L673.9 519L681 520.7L686.4 521.3L688.9 520.8L690.7 519.3L691.3 517.2L690.4 515.9L688.1 514.7L683.8 513.3L674.2 511.1L669 510.5L666.6 510.9L664.9 512.1L664.1 513.8ZM674.9 496.8L677.7 498.1L681.7 499.2L690.7 500.9L695.6 501.3L698.6 500.8L700.1 499.6L701 497L700 495.5L697 494.2L692 493L682.8 491.6L678.5 491.4L676.1 492L674.5 493.4L674 495.3ZM683.5 477.2L687.9 478.6L694.8 479.7L700.1 480.2L705 480L707.2 478.9L708.3 476.9L708.3 475.2L706.6 473.6L702.8 472.5L696.6 471.6L690.6 471.1L685.5 471.2L683.2 472.1L682.1 473.8L682 475.7ZM690.3 456.8L695.4 457.7L702.4 458.3L707.5 458.4L710.8 457.9L712.8 456.5L713.6 453.9L712.7 452.1L710.5 451.1L705.8 450.2L698 449.7L693.1 449.7L690 450.2L688.1 451.4L687.3 453.7L687.9 455.4ZM695.2 435.5L707.3 436.1L714.2 435.2L715.6 434.1L716.2 433.1L716.1 430.3L714.6 428.9L711.1 428L699 427.7L694.9 428L691.9 428.9L690.4 430.8L690.5 433.2L692.2 434.7ZM697.1 413.5L708.9 413.4L714.9 412.1L716.1 411L716.4 409.9L715.8 407.1L713.2 405.7L709.6 405.2L698.4 405.6L692.7 406.8L691.1 408.9L691.1 410.4L691.7 411.8L693.6 412.9ZM705.3 390.9L710.6 390.1L712.9 388.9L713.7 386.8L712.5 384.2L711.1 383.4L708.1 382.8L697.6 383.3L693.1 384.1L690.6 385.3L689.6 387.5L690.4 389.8L691.6 390.6L694.1 391.2ZM701 368.6L705.3 367.7L707.6 366.5L708.2 365.4L708.2 364.3L706.7 361.8L702.6 360.8L692.7 361.7L688.8 362.6L686.5 363.8L685.9 366.1L687.1 368.3L690.8 369.3ZM697.7 346L699.6 345L700.4 343.7L699.7 341.6L697.7 340.1L694.6 339.6L691.5 339.9L682.2 341.8L680.3 342.9L679.7 344.6L680.4 346.5L682.6 347.7L689.5 347.6ZM687.2 325.3L689.2 324.4L689.9 323L689.2 321.1L687 319.8L681.6 319.9L673.8 321.8L671.9 322.9L671.3 324.2L672.1 326.1L674.2 327.2L679.7 327ZM675.4 305.6L676.8 304.6L677 303.4L675.9 301.8L674.1 301.1L669.2 301.4L662.6 303.5L661.3 304.6L661.3 306.1L662.3 307.2L664.1 307.8L669.1 307.4ZM660 287.7L661.4 286.7L661.5 285.6L660.8 284.9L659 284.3L655.5 284.6L651.1 286.2L650 287L649.6 288L650.2 288.9L651.8 289.5L655.1 289.2Z"/>
<path fill="#0058ff" d="M532.9 608.8L533.3 610.9L536.4 615.1L538.8 617.2L541.1 617.7L541.2 616.8L540.6 615.6L537.4 611.6L534.6 609ZM549.4 603.9L552.4 608.3L558.6 614.2L562.2 615.7L563.7 615.2L563.7 614.2L560.7 610.2L553.8 603.8L550.5 602.4L549.6 602.7ZM566.6 596.7L567.4 598.7L570 601.7L578.5 608.8L581.2 610.1L583 610.4L584.5 609.9L585 608.9L583.9 607L581.9 604.9L572.6 597.2L568.9 595.5L567.4 595.6ZM583.8 588.4L584.3 590.1L587.2 593.2L597.6 600.8L600.6 602.1L602.5 602.5L604.6 601.9L605.3 600.9L604.4 599L601.8 596.6L590.4 588.7L586.5 587.1L584.5 587.5ZM600.5 579.4L601.8 581.2L605.9 584.5L612.8 588.9L617.3 591.3L620.4 592.1L622.3 592L624.1 591L624.4 589.4L619.7 585.4L606.4 577.8L603.7 577.1L602.1 577.2L600.6 578.3ZM616.5 567.5L617.6 569.4L621.2 572.1L627.9 575.9L634.1 578.7L637.6 579.7L639.7 579.6L641.6 578.6L642.4 577L641.5 575.7L638.7 573.6L623.3 566L620.3 565.3L618.6 565.4L616.9 566.4ZM631.6 554.5L633.3 556.5L636.9 558.8L650.3 564.5L654.1 565.2L656.1 565L658 563.8L658.7 562.3L657.5 560.4L653.6 558.2L638.8 552.3L635.5 551.7L633.7 551.9L632.1 553ZM645.8 540L647.7 541.8L652.2 544L660.7 547.2L666.8 548.7L669.5 548.8L671.3 548.2L673.1 546.1L672.8 544.5L670.5 542.9L666.4 541.1L651.6 536.6L649.2 536.5L647.5 537L646 538.4ZM659.4 524.5L663.3 526.5L668.8 528.3L675.2 530L680.4 530.8L683 530.6L684.9 529.2L685.8 527.2L684.8 525.5L681.7 524L676.7 522.4L668.2 520.3L663.4 519.6L660.5 520L659 521.3L658.5 523.2ZM670.4 506.4L673.5 507.9L680.4 509.8L687.8 511.2L691.9 511.4L694.4 510.8L696 509.1L696.3 506.9L695.2 505.6L691.6 504.1L685.9 502.8L674 501.1L671.6 501.6L670 502.9L669.3 504.7ZM679.7 487.3L683.6 488.7L689.7 489.9L696.7 490.8L701.2 490.7L703.5 489.8L704.8 487.9L704.9 486L703.5 484.6L700.2 483.4L694.9 482.4L687 481.4L682.3 481.4L679.9 482.2L678.6 483.7L678.3 485.6ZM687.2 467.1L691.8 468.3L699.9 469.2L705.2 469.4L708.2 469L710.3 467.8L711.3 465.8L711 463.9L709.1 462.5L704.8 461.5L697.1 460.6L688.1 460.8L686 461.8L684.9 464.1L685.3 465.8ZM693.2 446.3L705.5 447.3L712.8 446.6L714.3 445.6L715 444.6L715.1 441.8L713.9 440.5L710.9 439.5L698 438.7L691.3 439.6L689.4 441.4L689.2 443.8L690.7 445.4ZM696.5 424.6L709 424.8L715 423.7L716.3 422.6L716.7 421.5L716.3 418.7L714.6 417.4L711.1 416.6L699 416.6L694.8 417.1L692.5 417.9L691 419.6L690.8 421.1L691.3 422.5L693 423.8ZM702 402.4L712.4 401.4L714.4 400.4L715.3 398.8L714.8 396.1L713.1 394.7L709.8 394L703.2 394.1L693.4 395.3L691.2 396.6L690.6 398.2L691.2 400.6L693.1 401.9L697 402.4ZM701.1 379.9L706.7 379.2L710 378.1L711.2 376.6L711 374.4L709.9 372.9L707.3 371.9L697.8 372.2L692.7 372.9L689.5 374L688.1 375.7L688.2 377.7L689.1 379L691.4 380ZM699.5 357.4L702.8 356.4L704.4 355.1L704.3 352.8L702.9 351L700.2 350.2L697.3 350.1L688.1 351.4L684.8 352.5L683.2 353.9L683.4 356.5L685.1 358L689.6 358.5ZM691.1 336L693.9 335L695.3 333.8L695 331.7L693.3 330.1L690.8 329.5L688.4 329.5L679.6 331.2L676.7 332.4L675.8 333.8L676.3 335.8L678 337.1L683.3 337.4ZM680.3 315.7L682.7 314.7L683.8 313.6L683.4 311.9L681.5 310.5L676.9 310.3L669.7 311.9L667.3 313.1L666.5 314.2L666.8 315.8L668.5 317.1L672.8 317.3ZM667.8 296.5L669.2 295.6L669.6 294.3L668.6 293.1L666.8 292.4L662.1 292.9L656.8 294.7L655.8 295.5L655.5 296.6L656.3 297.8L657.8 298.5L662.3 298.2ZM651.2 279.4L652.3 278.7L652.6 277.8L651.2 276.9L649 276.9L645.1 278.2L643.8 279.4L644.2 280.3L645.3 280.7L647.7 280.5Z"/>
<path fill="#ff4e00" d="M560.6 601.9L560.6 602.8L561.6 604.3L566.8 609.4L570 611.2L571.6 611.1L571.9 610.4L569.8 607.3L564.7 602.8L562.3 601.5ZM577.2 594.6L580.4 598.6L587.7 604.1L591.6 605.2L593.1 604.7L593.1 603.3L589.7 599.7L581.7 594L579.8 593.2L578.2 593.1L577.4 593.6ZM593.9 585.2L595 587.1L597.2 589.1L606.3 595.2L609.4 596.3L611.3 596.4L612.8 595.9L613.3 594.7L612.2 593L609.8 591L599.8 584.6L595.8 583.5L594.5 583.9ZM610.1 574.3L611.3 576.1L614.4 578.6L624.6 584.3L627.9 585.3L629.8 585.2L631.7 584.2L632 582.8L630.8 581.3L628 579.3L616.7 573.3L612.5 572.3L610.7 573.1ZM625.7 562.2L627.2 563.9L631.3 566.5L642.4 571.5L645 572L647.5 571.6L649.1 570.1L649 568.7L647 566.9L643.5 565L631.3 559.8L629.1 559.5L627.4 559.7L625.9 560.9ZM640.4 548.1L642.3 549.9L646.3 552.1L654.2 555.2L658.7 556.5L661.3 556.6L663.1 556L664.6 554.5L664.5 552.9L662.4 551.3L658.6 549.4L646 545.2L643.6 544.9L641.9 545.3L640.5 546.6ZM653.9 532.4L655.5 533.9L659 535.6L666.8 538.2L672 539.4L674.9 539.4L676.7 538.7L678.1 537.1L677.8 535.3L676.1 533.9L671.8 532.2L659 528.8L656.6 528.9L655 529.5L653.8 531ZM666.7 516L669.9 517.5L674.9 519L681.7 520.5L685.5 520.8L687.9 520.3L689.5 518.7L689.9 517.1L688.7 515.5L685.1 514L680.6 512.8L669.9 511L667.6 511.4L666 512.7L665.6 514.5ZM676.3 496.8L679.1 498.2L683 499.2L689.7 500.5L694.6 500.9L697.5 500.3L698.9 499.1L699.6 497.1L698.8 495.6L696.1 494.3L690.6 493L683.8 492L679.5 491.8L677.2 492.5L676 493.6L675.5 495.4ZM684.5 477L687.8 478.2L693.3 479.2L702.5 479.8L705.4 479L706.6 477.6L707 475.4L705.6 473.9L698.6 472.1L692 471.4L686.7 471.6L684.5 472.4L683.5 473.7L683.3 475.6ZM690.8 456.4L695 457.4L702.4 458L709.4 457.6L711.5 456.3L712.2 454.2L711.7 452.5L709.6 451.3L705.4 450.5L698.4 450L691.4 450.5L689.4 451.6L688.7 453.5L689 455ZM694.8 435L705.6 435.8L712.6 435.1L714.6 433.5L715 431.4L714.2 429.7L711.6 428.5L700.7 427.9L693.8 428.8L692 430.4L691.7 432.3L692.4 433.8ZM700.6 413.4L710.7 412.9L713.1 412.2L714.6 411.1L715 408.8L713.8 406.7L711.4 405.8L706.2 405.5L697.1 406.1L694.7 406.7L693 407.8L692.4 410.3L693.7 412.2L696.3 413.1ZM702.7 390.8L710.4 389.5L712 388.2L712.1 386L710.5 384L708.3 383.3L700 383.4L695.3 384.1L692.4 385.1L691.1 386.7L691.3 388.7L692.3 390L694.1 390.7ZM699.6 368.4L703.5 367.7L705.9 366.6L706.7 364.7L705.8 362.7L702.7 361.4L694.2 361.9L690.2 362.7L688 363.9L687.3 365.7L688.1 367.5L689.8 368.6L692.2 368.9ZM693.6 346.5L696.6 345.7L698.3 344.6L698.5 342.7L697 341L693.3 340.2L685.9 341.3L683.3 342.1L681.8 343.1L681.5 344.9L682.7 346.6L686 347.4ZM685.2 325.2L687.2 324.3L687.9 323.1L687.5 322L686.2 320.9L682.8 320.4L676.3 321.7L674.3 322.7L673.5 323.8L673.8 325.1L675 326.2L678.4 326.5ZM673 305.2L674.1 303.8L673.5 302.9L672.3 302.4L669.6 302.4L665.2 303.8L664.2 305.2L664.7 306L665.8 306.5L668.5 306.5Z"/>
<path fill="#0030ff" d="M552.8 606.3L553.9 608.3L557.4 611.8L559.8 612.8L560.3 612.6L560.4 612L559 610L555.6 606.8L553.8 605.7L553 605.8ZM568.8 598.3L569.4 599.8L571.1 601.9L577.3 607.2L581.2 608.7L582.2 608.5L582.8 607.5L580.7 604.6L573.7 598.8L570.6 597.4L569.1 597.6ZM585.5 589.9L586.6 591.8L588.6 593.8L597.1 600L601.3 601.2L602.8 600.8L603.4 599.5L602.5 598L600.3 596L590.8 589.5L587.1 588.5L585.8 589.1ZM602.1 580L603.3 581.9L606.5 584.5L616 590.2L620.4 591.2L622.4 590.3L622.8 589.1L621.7 587.5L619.1 585.4L608.4 579.2L604.3 578.1L602.5 578.8ZM618.2 568.9L620.6 571.2L624.2 573.5L634.6 578.4L637 578.9L639.4 578.5L640.8 576.9L640.4 575.5L635.3 572.1L623.8 566.6L621.5 566.1L619.4 566.4L618 567.8ZM633.4 555.8L635.4 557.5L639 559.5L646.4 562.8L650.8 564.2L653.4 564.6L655.8 563.9L657.2 562.3L656.7 560.7L651.3 557.4L638.4 552.6L636.2 552.4L634.2 553.1L633.1 554.2ZM647.4 540.7L649.5 542.4L654.5 544.7L661.5 547.1L666.1 548.2L668.7 548.1L670.4 547.4L671.6 545.7L671.2 544.1L669.5 542.8L665.5 541L656.7 538.1L652.3 537.1L650 537.1L648.4 537.7L647.2 539.2ZM659.9 523.7L661.5 525.2L666.3 527.3L673 529.2L678.5 530.3L681.3 530.2L683 529.3L684.3 527.5L684.1 526.2L682.3 524.7L677.6 522.9L665.2 520.1L662.7 520.2L661.1 520.9L659.9 522.5ZM671.8 506.6L674.4 507.9L679.4 509.3L687 510.8L690.9 510.9L693.3 510.3L694.5 509.1L694.9 506.9L693.8 505.6L687 503.3L678.9 501.8L675 501.6L672.7 502.1L671.2 503.5L670.9 505.5ZM680.7 487.1L683.5 488.3L688.3 489.4L698.9 490.5L701.8 489.8L703.1 488.5L703.6 486.4L702.1 484.6L698.8 483.5L693.3 482.5L683.4 481.8L681.1 482.6L680.1 483.7L679.6 485.6ZM688.1 466.9L691.9 468L698.1 468.8L703.8 469.1L706.9 468.7L709 467.5L709.8 466L709.6 464L708.1 462.7L704.8 461.8L699.3 461.1L692.6 460.8L689.4 461.1L687.3 462.1L686.3 463.9L686.6 465.8ZM693.3 445.8L702.8 446.9L707.3 447L711.3 446.4L713.4 445L713.9 442.8L713.2 441.1L710.5 439.8L700.1 439L692.8 439.7L691 441L690.5 443.4L691.6 445ZM696 424.1L706.4 424.6L713.3 423.7L715.2 422L715.2 419.3L713.5 417.7L711.1 417.1L699.9 416.8L693.8 418.1L692.4 419.6L692.4 422.1L693.9 423.4ZM699.8 402.2L709.3 401.6L712.1 400.9L713.5 399.8L713.9 397.3L712.5 395.3L710.2 394.5L705.8 394.3L696.3 395.1L694 395.7L692.4 397L692 399L693 400.9L695.4 401.8ZM704.5 379.2L707.9 378.3L709.6 377L709.6 374.7L707.9 372.9L704.2 372.1L694.6 373L691.5 373.8L689.7 375.3L689.6 377.4L691 379.1L692.8 379.7L696.5 379.9ZM698.9 357L701.8 356L702.8 355L702.7 352.8L700.8 351.1L695.9 350.7L688.7 351.8L686.3 352.6L684.9 353.8L684.9 356L686.5 357.5L691.1 358ZM691.2 335.3L693.1 334.2L693.6 333L692.9 331.5L691.3 330.5L687 330.3L679.8 331.8L678 333L677.7 334.3L678.4 335.8L680.1 336.7L684.7 336.7ZM679 315.3L680.9 314.2L681.4 313.3L680.9 312.2L679.3 311.3L675.4 311.3L670.6 312.6L669.3 313.5L668.9 314.4L669.2 315.4L670.6 316.3L674.3 316.4ZM664.1 296.1L665.2 295.4L665 294.6L663.6 294.3L661 295L660 295.9L660.3 296.4L661.7 296.6Z"/>
<path fill="#ff2900" d="M579.9 596.3L582.3 599.1L586.3 602.2L589.6 603.3L590.5 602.8L590.5 602.1L587.7 599.1L583 595.8L580.6 595.2ZM595.9 586.1L596.4 587.3L598.5 589.4L605.8 594.2L609.3 595.2L610.9 594.7L611.3 593.9L610.7 592.7L608.4 590.5L601.1 585.9L597.7 584.9L596.3 585.3ZM611.9 575.2L612.8 576.7L614.9 578.4L624 583.5L626.5 584.2L628.4 584.2L629.9 583.5L630.3 582.2L629 580.6L626.3 578.7L617.2 574.1L613.3 573.5L612.1 574.3ZM627.3 562.6L629 564.6L631.9 566.4L641.8 570.8L644.3 571.2L646.1 570.8L647.4 569.8L647.6 568.5L646 566.8L642.8 565L632.8 560.7L630.4 560.3L628.7 560.5L627.5 561.4ZM642 548.9L643.7 550.3L648.4 552.7L658 555.9L660.4 555.9L662.1 555.2L663.2 553.3L662.5 552L656.3 548.9L646.7 545.8L644.4 545.7L642.8 546.2L641.7 547.7ZM655.6 533L657.7 534.6L661.5 536.2L671.3 538.8L673.9 538.8L675.6 538L676.7 536.1L676.1 534.8L671 532.2L659.8 529.4L657.5 529.6L656.1 530.3L655.2 531.5ZM667.2 515.1L668.5 516.4L671.8 517.8L679.3 519.7L683.5 520.3L685.4 520.2L687.3 519.3L688.4 517.5L688 516.1L685.7 514.7L681.7 513.4L671.9 511.5L668.2 512.3L667.1 513.9ZM678.1 497.1L681.1 498.4L686.4 499.6L694.7 500.3L696.9 499.5L697.9 498.1L698 496.4L697 495.4L694.2 494.2L689.5 493.1L680.6 492.3L678.4 493L677.3 494.1L676.9 495.5ZM685.9 477L689.1 478.1L694.6 479.1L702.5 479.2L704.7 478.2L705.5 476.7L705.4 475L704.3 474L701.8 473.1L697 472.2L688.1 471.9L685.8 472.8L684.9 474.1L684.7 475.6ZM691.7 456.1L695.1 457L700.1 457.6L707.9 457.4L709.7 456.5L710.8 454.5L710.4 452.8L708.7 451.6L701.9 450.5L697 450.3L693 450.7L691.2 451.6L690.2 453.2L690.3 454.8ZM699.1 435.2L708.6 435.3L710.8 435L712.7 434L713.5 432.4L713.1 430.2L711.2 429L707.2 428.4L698.5 428.4L694.2 429.6L693.1 431.4L693.5 433.4L695.1 434.5ZM699.3 413L708.4 412.8L710.8 412.3L712.7 411.5L713.6 409.5L712.8 407.3L711.1 406.4L707.5 405.9L698.8 406.2L694.7 407.7L693.8 409.7L694.4 411.4L696.5 412.5ZM701.3 390.5L708.6 389.4L710.2 388.5L710.7 387.3L710.4 385.7L709 384.3L706.6 383.7L701.4 383.7L694.6 384.9L693.2 385.8L692.6 387.4L693 388.9L694.6 390.1ZM699.5 367.9L702.5 367.3L704.4 366.3L705 364.6L704.3 363.1L703.1 362.4L701 361.9L694.4 362.4L691.3 363.1L689.7 364L689.1 365.6L689.6 367L690.6 367.8L692.5 368.3ZM691.7 346.2L695.8 344.8L696.5 343.5L696.2 342.5L693.8 341.2L687.8 341.6L685.3 342.3L683.8 343.3L683.5 344.6L684 345.5L686.6 346.6ZM683.3 324.5L684.4 323.8L684.6 323.1L683.3 322L681.4 321.9L677.9 322.7L676.7 324L677.9 325.1L679.8 325.2Z"/>
<path fill="#0008ff" d="M572.7 601.1L575.8 604.5L577.9 605.7L579 605.7L578.4 604L575.9 601.9L573.8 600.6L572.7 600.6ZM587.8 591.3L588.6 592.8L590.6 594.7L596.6 598.8L599.9 599.6L600.9 599.3L601.1 598.2L599 595.8L592.1 591L589 590.1L588.1 590.5ZM604.3 581.8L609 585.7L616.3 589.6L618.4 590L620.1 589.7L620.9 589L620.7 587.7L616.4 584.2L608.2 579.7L606.2 579.3L604.7 579.6L603.9 580.4ZM619.7 569.4L620.9 570.8L623.6 572.7L633.1 577.5L635.6 578L637.5 577.8L638.8 577L639.1 575.5L637.6 573.9L634.7 572.1L625.2 567.6L622.9 567.1L621.2 567.2L619.9 568ZM634.7 555.8L636.5 557.7L639.7 559.5L645.9 562.3L650.1 563.6L652.6 563.8L654.3 563.3L655.5 562.2L655.5 560.7L654 559.3L650.5 557.5L639.9 553.5L637.6 553.2L635.9 553.5L634.8 554.4ZM648.7 540.6L650.2 542.2L653.7 544L664.4 547.5L667.1 547.6L668.9 546.9L670 545.8L670 544.3L668.4 542.8L664.7 541.1L654 537.9L651.5 537.8L649.9 538.3L648.8 539.3ZM661.6 524.3L663.4 525.6L667.1 527.2L677.6 529.7L679.6 529.7L681.5 529L682.8 527.3L682.5 525.9L680.4 524.4L676.7 523L666.1 520.7L663.7 520.9L662.2 521.7L661.4 522.9ZM673.5 506.9L676.8 508.2L682.4 509.7L689.9 510.4L692.1 509.7L693.2 508.5L693.5 506.8L692 505.3L688.7 504L683.8 502.9L676 502.1L673.8 502.7L672.4 504.1L672.4 505.7ZM682.1 487.1L684.9 488.3L689.5 489.3L697.7 490L699.8 489.6L701.4 488.5L702.1 486.5L701.1 484.9L695.2 483.1L689.6 482.3L684.7 482.2L682.4 483L681.4 484.2L681.1 485.7ZM689.1 466.6L695.8 468.2L702.2 468.7L705.5 468.4L707.7 467.2L708.4 465.7L708.2 464L706.8 462.9L703.4 461.9L697.8 461.3L690.8 461.4L688.7 462.3L687.8 463.7L687.8 465.3ZM693.8 445.3L701.1 446.5L709.7 446.2L711.5 445.3L712.5 443.2L712.1 441.6L710.1 440.3L700.9 439.4L694.4 439.9L692.8 440.7L691.9 442.6L692.2 444.1ZM699.1 424.1L708.2 424.2L712.6 423.1L713.7 422L714 420.9L713.4 418.8L711.6 417.7L708.5 417.2L699 417.3L694.7 418.6L693.6 420.6L694.3 422.5L696 423.5ZM704.1 401.7L708.8 401.2L711.2 400.4L712.3 399.2L712.3 397L711.6 396L709.9 395.1L702 394.8L697.6 395.3L695 396.1L693.8 397.3L693.6 399.3L694.5 400.7L696.5 401.5ZM703.5 378.9L706.5 378.1L708 376.9L708.1 375.1L707 373.6L705.5 372.9L702.5 372.6L695.6 373.3L693 374L691.5 375.1L691.1 376.5L692 378.4L693.3 379.1L696.2 379.4ZM695.7 357L698.7 356.4L700.6 355.3L701.1 354.1L700.7 352.9L699.2 351.7L697.2 351.3L691.5 351.8L688.6 352.6L687 353.5L686.5 354.8L687.1 356.2L689.9 357.4ZM687.4 335.4L690.7 334.1L691.1 333L690.5 332.1L687.5 331.2L683.7 331.7L680.5 333.1L680.2 334.3L680.8 335.2L682.8 335.9Z"/>
<path fill="#ed0400" d="M598.8 587.5L600.3 589.7L604.1 592.3L607 593.3L608.1 593.1L608.4 592.5L607.5 591.1L602.7 587.8L599.9 586.9ZM614 576.4L617.4 579.4L623.3 582.5L626.9 583L628.2 582.1L628.1 581.2L624.8 578.5L617.9 575.1L614.8 574.8L614 575.4ZM629.1 563.4L632.3 566.1L640.2 569.8L644 570.1L645.5 569.4L645.8 568.1L644.7 566.8L642.4 565.3L633.5 561.5L630.2 561.5L629.1 562.4ZM643.4 548.7L644.5 550.1L647.5 551.9L656.3 555L660.1 554.8L661.3 553.8L661.4 552.5L660.2 551.2L657.3 549.7L648.4 546.6L644.8 546.7L643.6 547.5ZM656.9 532.8L658.1 534.1L660.4 535.3L666.6 537.4L670.3 538.1L672.2 538.2L674 537.5L675 536.3L674.7 534.7L670.4 532.5L661.7 530.2L658.1 530.6L657 531.6ZM669 515.5L670.7 516.8L674.5 518.2L682.4 519.7L684.3 519.5L686 518.6L686.8 517.2L686.1 515.7L681.1 513.6L673 512.2L671.2 512.3L669.5 513L668.7 514.2ZM680.3 497.5L687 499.3L693.4 499.8L695.5 498.9L696.4 497.6L696.3 496.2L694.8 495L686.5 493.1L681 493L679.3 493.9L678.6 495.2L678.8 496.3ZM687.7 477L690.5 478L695.3 478.8L701 478.8L702.7 478.2L703.8 476.8L703.8 475.2L702.5 474L696.2 472.6L689.6 472.3L687.8 472.9L686.6 474.1L686.3 475.5ZM693.1 455.8L698.6 457L706.2 457L708.1 456.3L709.1 454.8L709 453.2L707.3 451.9L700.5 450.8L694.3 451.1L692.9 451.7L691.8 453L691.8 454.5ZM698.7 434.7L706.5 435L709.1 434.7L711 433.9L712 432.3L711.7 430.7L710.4 429.5L708.1 428.9L700.5 428.7L696.2 429.5L694.8 431L694.9 433L696.2 434ZM699.3 412.4L707.1 412.4L711.1 411.2L712.1 409.6L711.6 408L710.3 407L707.6 406.4L700.6 406.5L696.7 407.5L695.6 408.8L695.6 410.6L697.1 411.9ZM701.2 390L707.2 389.1L708.5 388.2L708.9 387.1L708.4 385.5L707.1 384.7L701.5 384.3L696.1 385.2L694.9 385.9L694.3 387.1L694.7 388.5L695.7 389.4L698.2 390ZM697.5 367.4L701.8 366.4L702.5 365.8L702.8 364.7L702.3 363.7L701.1 363L696.2 362.9L692 364.1L691.3 364.9L691.3 366L692 366.8L693.6 367.4ZM691.1 344.7L692.7 344L692.3 343L689 343.1L687.7 343.6L687.5 344.5L689.1 345Z"/>
<path fill="#0000ed" d="M592.4 593.9L595.4 596.4L596.9 596.5L595.9 595.1L594.1 593.9L592.7 593.4ZM606.3 581.5L606.4 582.5L607.9 584.1L613 587.4L616.8 588.6L618 588.4L618.6 587.5L617.4 585.7L611.3 581.9L608.3 580.9L607.2 580.9ZM621.9 570.5L626.3 573.7L632.4 576.6L634.7 577L636.4 576.6L637.2 575.9L636.9 574.5L633.1 571.8L625.9 568.5L623.7 568.1L622.2 568.5L621.5 569.3ZM636.3 556.1L637.3 557.5L640.2 559.3L648.4 562.6L652.3 562.8L653.7 561.9L653.9 560.5L652.7 559.2L650 557.7L641.6 554.4L637.9 554.2L636.6 554.9ZM650.7 541.6L652.4 542.9L655.8 544.5L663.5 546.8L666.1 546.8L667.7 546.1L668.5 544.7L668 543.4L664.1 541.3L654.8 538.5L652.5 538.5L651 539.2L650.2 540.5ZM663.7 525L669.4 527.5L674.2 528.8L677.6 529.1L679.2 528.8L680.7 527.9L681.2 526.3L680.5 525.2L676.1 523.2L667.1 521.3L664.8 521.6L663.4 522.5L663 523.9ZM674.3 506.3L678.7 508.4L687.6 509.9L689.6 509.7L691.2 508.7L691.9 507.3L691.1 505.7L685.4 503.7L677.2 502.7L675.7 503L674.3 504L673.8 505.4ZM683.9 487.2L690.2 489L697.5 489.4L699.1 488.8L700.3 487.6L700.4 485.9L699.3 484.8L694.4 483.4L686.1 482.7L684.3 483.2L683 484.3L682.7 485.7ZM690.5 466.4L696.7 467.9L703.9 468L705.7 467.3L706.8 465.9L706.7 464.2L705.4 463.1L700.8 462L692.5 461.8L690.6 462.4L689.5 463.6L689.3 465.1ZM695.1 445.1L698.1 445.8L702.9 446.2L709 445.6L710.4 444.7L710.9 443.1L710.3 441.5L709.1 440.7L703.5 439.9L696.1 440.2L694.5 440.9L693.5 442.3L693.7 443.8ZM699.1 423.6L707.3 423.7L711.5 422.6L712.5 420.9L712.1 419.3L710.8 418.3L708.6 417.7L701.2 417.6L696.6 418.6L695.3 420.1L695.3 421.6L696.5 422.8ZM703.2 401.3L708.8 400.5L710.4 399.5L710.9 398.3L710.4 396.7L709.1 395.8L706.4 395.2L702.9 395.2L696.9 396.2L695.7 397L695.1 398.6L695.7 400.1L697.3 400.9ZM699.5 378.7L704.6 377.8L705.8 377.1L706.3 376L705.7 374.5L704.5 373.7L699.1 373.4L694.5 374.5L693.3 375.4L693 376.5L693.4 377.5L694.5 378.3ZM694.9 356.1L698.2 355L698.5 354.3L698.1 353.3L695.8 352.4L692.3 352.7L689.9 353.6L689.2 354.3L689.4 355.4L691.3 356.3Z"/>
<path fill="#bf0000" d="M617.3 577.2L619 579.1L622.1 580.8L624.2 581.2L624.9 580.4L623 578.6L620 577.1L617.9 576.7ZM631.3 563.7L633.5 566L639.2 568.6L642.3 569L643.3 568.5L643.5 567.3L641 565.3L635.4 562.9L632.4 562.6L631.5 563ZM645.5 549.5L649.1 552L655.3 554.1L657 554.2L658.8 553.7L659.5 552.9L659.2 551.8L655.6 549.6L649.4 547.5L646 547.8L645.4 548.5ZM658.8 533L659.7 534.1L662.1 535.4L669.2 537.3L672.2 536.9L672.9 536.1L672.9 534.8L670.4 533.1L662.9 531L659.9 531.3L659.1 531.9ZM670.9 515.7L674.5 517.6L681 518.9L684.1 518.2L684.7 517.4L684.5 516L681.1 514.2L674.4 512.9L671.4 513.5L670.6 514.8ZM681.1 496.8L684.7 498.3L691.8 499.1L693.4 498.6L694.3 497.8L694.5 496.8L694.1 495.9L690.5 494.3L683.6 493.5L680.9 494.6L680.5 495.9ZM690.7 477.4L696.8 478.3L700.2 478L701.5 477.3L702.1 475.8L701.2 474.4L699.4 473.7L693.5 472.9L689.6 473.4L688.6 474.1L688.2 475.6L689.1 476.7ZM694.9 455.6L700.7 456.6L705.2 456.3L706.7 455.5L707.3 454.5L707.1 453.4L705.5 452.2L701.2 451.4L695.8 451.7L694.2 452.4L693.6 453.3L693.8 454.6ZM700.9 434.3L707 434.3L709.5 433.3L710.2 431.7L709.7 430.6L705.9 429.3L700.2 429.4L697 430.6L696.5 432.1L697 433.1ZM700.5 411.8L706.2 411.8L709.4 410.8L710.1 409.7L709.6 408.1L706.3 407L700.7 407.2L698.1 408.2L697.4 409.4L697.6 410.5L698.8 411.4ZM700.2 389.1L704.5 388.7L706.4 387.5L706.4 386.4L705.8 385.8L702.6 385.1L698.7 385.6L697 386.6L696.8 387.6L697.5 388.5Z"/>
<path fill="#0000bf" d="M624.2 570.3L624.4 571.2L626 572.6L630.4 574.9L633.5 575.5L634.5 575L634.7 574.5L633.4 572.9L628.7 570.4L625.5 569.6ZM638.5 556.9L641.6 559.3L647.5 561.7L650.5 561.8L651.5 561.3L651.8 560.1L650.6 558.8L648.5 557.6L642.6 555.4L639.1 555.4L638.4 556.1ZM652.6 541.9L656 544L662.5 545.9L664.2 546L665.9 545.3L666.5 544.5L666.3 543.5L662.3 541.2L655.9 539.4L654.3 539.4L652.7 540L652.2 540.8ZM665.4 524.9L669.5 527L675.3 528.3L678.4 527.7L679.2 526.6L678.8 525.4L676.1 523.9L668.4 522.1L666.8 522.3L665.3 523.1L664.9 524ZM676.9 507L683 508.8L687.2 509.1L688.7 508.7L689.9 507.5L689.7 506.2L688.7 505.4L683.2 503.8L678.8 503.4L677.2 503.7L675.9 504.8L675.9 505.8ZM685.4 486.9L690 488.4L695.7 488.8L697.5 488.3L698.3 487.4L698.5 486L697.5 484.9L691.6 483.5L686.8 483.5L684.8 484.9L684.6 485.9ZM692.7 466.4L698.7 467.5L703 467.3L704.4 466.5L705 465.5L704.8 464.4L703.6 463.4L697.6 462.3L693.4 462.5L691.9 463.2L691.2 464.5L691.5 465.6ZM696.9 444.8L701.6 445.5L706.9 445.3L708.5 444.4L709 443.4L708.6 441.8L707.3 441.1L701.7 440.4L697.3 440.8L695.9 441.5L695.4 442.5L695.7 443.9ZM700.4 423.1L706.9 423.1L709.9 422.1L710.6 421L710.3 419.7L709.4 418.8L707.3 418.2L701.6 418.2L698.1 419L697.2 420L697.2 421.5L698.4 422.6ZM700.5 400.5L705.7 400.3L708.4 399.1L708.7 398L708.2 397L705.2 396L700.4 396.2L697.8 397.3L697.2 398.3L697.5 399.3L698.8 400.2ZM700.5 377.4L702.6 376.8L703.2 375.7L701.7 374.8L698.6 374.8L696.3 375.7L696.3 376.8L697.8 377.5Z"/>
<path fill="#920000" d="M648.9 550.4L651 551.7L654.5 552.7L656.3 552.2L655.8 551L653.6 549.9L650.3 548.9L648.5 549.4ZM661.8 533.3L663.5 534.7L667.1 535.8L669.6 535.7L669.9 534.6L668.1 533.4L665 532.5L662.4 532.5ZM673.8 515.7L676.1 516.9L679.7 517.6L681.3 517.3L681.7 516.9L681.6 516L679.2 514.8L675.7 514.2L673.7 514.8ZM683.6 496.3L685.5 497.3L689 497.9L691.4 497.2L691.2 496L688.8 495.1L685.3 494.7L683.8 495.2ZM691.5 476.1L693.6 476.8L697.1 477.1L699.1 476.1L698.2 474.8L695.2 474.1L692.4 474.2L691.2 474.9ZM697.6 455L700.6 455.5L703.3 455.2L704.4 454.1L703.2 453L699.8 452.5L697.2 452.9L696.5 453.8ZM700.1 432.8L702.7 433.3L706.1 433.1L707.3 432.1L706.3 430.8L703.2 430.3L700.4 430.7L699.4 431.7ZM703.5 410.6L705.7 410.4L706.7 409.4L705.5 408.5L703.8 408.4L701.6 408.7L700.8 409.2L701.2 410.2Z"/>
<path fill="#000092" d="M642.3 558L646.5 560L647.9 559.9L648 559.1L643.6 557.1L642.3 557.2ZM655.6 542.4L658 543.7L661.6 544.6L663 544.3L663.4 544L663.3 543.2L661.8 542.2L657.8 540.9L655.6 541.1L655.3 541.4ZM668.3 525.1L669.8 526L674.2 527L676.1 526.3L675.8 525.3L673.7 524.2L669.6 523.5L668 524.2ZM679.1 506.4L681.1 507.3L684.7 507.9L686.8 507.2L686.5 506L683 504.8L680.3 504.7L679 505.2ZM688.6 486.8L694 487.6L695.6 486.5L694.6 485.3L691.6 484.6L688.7 484.7L687.6 485.9ZM694.3 465.3L696.3 466.1L699.8 466.4L701.8 465.7L702.1 464.9L701.6 464.3L699.1 463.5L695.6 463.5L694.3 464.2ZM699.2 444L702.6 444.5L705.3 444.1L706.2 443.1L705.1 441.9L701.6 441.5L699.1 441.9L698.2 442.8ZM702.1 422.1L705.6 422.1L707.2 421.5L707.7 421L707.4 419.9L705.6 419.3L702.1 419.3L700.3 420L699.9 420.5L700.4 421.5Z"/>
<circle cx="508.30" cy="421.9" r="3.1" fill="#c6ffbc"/>
<g fill="none" stroke="#000" stroke-width="3.75" stroke-dasharray="13.875 6">
<path stroke-dashoffset="0.40" d="M535.45 422.30A27.15 27.42 0 0 0 481.15 422.30A27.15 27.42 0 0 0 535.45 422.30"/>
<path stroke-dashoffset="5.15" d="M563.05 422.30A54.75 55.30 0 0 0 453.55 422.30A54.75 55.30 0 0 0 563.05 422.30"/>
<path stroke-dashoffset="6.80" d="M590.95 422.30A82.65 83.48 0 0 0 425.65 422.30A82.65 83.48 0 0 0 590.95 422.30"/>
<path stroke-dashoffset="3.80" d="M619.70 422.30A111.40 112.51 0 0 0 396.90 422.30A111.40 112.51 0 0 0 619.70 422.30"/>
<path stroke-dashoffset="9.35" d="M650.30 422.30A142.00 143.42 0 0 0 366.30 422.30A142.00 143.42 0 0 0 650.30 422.30"/>
<path stroke-dashoffset="1.80" d="M683.05 422.30A174.75 176.50 0 0 0 333.55 422.30A174.75 176.50 0 0 0 683.05 422.30"/>
<path stroke-dashoffset="11.12" d="M719.25 422.30A210.95 213.06 0 0 0 297.35 422.30A210.95 213.06 0 0 0 719.25 422.30"/>
<path stroke-dashoffset="8.20" d="M760.65 422.30A252.35 254.87 0 0 0 255.95 422.30A252.35 254.87 0 0 0 760.65 422.30"/>
<path stroke-dashoffset="15.28" d="M809.85 422.30A301.55 304.57 0 0 0 206.75 422.30A301.55 304.57 0 0 0 809.85 422.30"/>
</g></g>
<g stroke="#000" stroke-width="1.9">
<line x1="139.50" y1="788.55" x2="139.50" y2="797.25"/>
<line x1="139.50" y1="788.55" x2="130.80" y2="788.55"/>
<line x1="231.06" y1="788.55" x2="231.06" y2="797.25"/>
<line x1="139.50" y1="696.96" x2="130.80" y2="696.96"/>
<line x1="322.62" y1="788.55" x2="322.62" y2="797.25"/>
<line x1="139.50" y1="605.38" x2="130.80" y2="605.38"/>
<line x1="414.19" y1="788.55" x2="414.19" y2="797.25"/>
<line x1="139.50" y1="513.79" x2="130.80" y2="513.79"/>
<line x1="505.75" y1="788.55" x2="505.75" y2="797.25"/>
<line x1="139.50" y1="422.20" x2="130.80" y2="422.20"/>
<line x1="597.31" y1="788.55" x2="597.31" y2="797.25"/>
<line x1="139.50" y1="330.61" x2="130.80" y2="330.61"/>
<line x1="688.88" y1="788.55" x2="688.88" y2="797.25"/>
<line x1="139.50" y1="239.02" x2="130.80" y2="239.02"/>
<line x1="780.44" y1="788.55" x2="780.44" y2="797.25"/>
<line x1="139.50" y1="147.44" x2="130.80" y2="147.44"/>
<line x1="872.00" y1="788.55" x2="872.00" y2="797.25"/>
<line x1="139.50" y1="55.85" x2="130.80" y2="55.85"/>
</g>
<rect x="139.50" y="55.85" width="732.50" height="732.70" fill="none" stroke="#000" stroke-width="2"/>
<g font-weight="bold" font-size="25">
<text x="139.50" y="825.4" text-anchor="middle">−1.00</text>
<text x="122.00" y="797.95" text-anchor="end">−1.00</text>
<text x="231.06" y="825.4" text-anchor="middle">−0.75</text>
<text x="122.00" y="706.36" text-anchor="end">−0.75</text>
<text x="322.62" y="825.4" text-anchor="middle">−0.50</text>
<text x="122.00" y="614.77" text-anchor="end">−0.50</text>
<text x="414.19" y="825.4" text-anchor="middle">−0.25</text>
<text x="122.00" y="523.19" text-anchor="end">−0.25</text>
<text x="505.75" y="825.4" text-anchor="middle">0.00</text>
<text x="122.00" y="431.60" text-anchor="end">0.00</text>
<text x="597.31" y="825.4" text-anchor="middle">0.25</text>
<text x="122.00" y="340.01" text-anchor="end">0.25</text>
<text x="688.88" y="825.4" text-anchor="middle">0.50</text>
<text x="122.00" y="248.42" text-anchor="end">0.50</text>
<text x="780.44" y="825.4" text-anchor="middle">0.75</text>
<text x="122.00" y="156.84" text-anchor="end">0.75</text>
<text x="872.00" y="825.4" text-anchor="middle">1.00</text>
<text x="122.00" y="65.25" text-anchor="end">1.00</text>
</g>
<text x="505.75" y="863.4" font-weight="bold" font-size="30" text-anchor="middle">(r-R)/a</text>
<text transform="translate(24.60 424.5) rotate(-90)" font-weight="bold" font-size="30" text-anchor="middle">z/a</text>
<g font-size="25">
<rect x="903.40" y="763.115" width="37.40" height="28.785" fill="#000092"/>
<rect x="903.40" y="734.731" width="37.40" height="28.785" fill="#0000bf"/>
<rect x="903.40" y="706.346" width="37.40" height="28.785" fill="#0000ed"/>
<rect x="903.40" y="677.962" width="37.40" height="28.785" fill="#0008ff"/>
<rect x="903.40" y="649.577" width="37.40" height="28.785" fill="#0030ff"/>
<rect x="903.40" y="621.192" width="37.40" height="28.785" fill="#0058ff"/>
<rect x="903.40" y="592.808" width="37.40" height="28.785" fill="#0080ff"/>
<rect x="903.40" y="564.423" width="37.40" height="28.785" fill="#00a4ff"/>
<rect x="903.40" y="536.038" width="37.40" height="28.785" fill="#00ccff"/>
<rect x="903.40" y="507.654" width="37.40" height="28.785" fill="#0cf4eb"/>
<rect x="903.40" y="479.269" width="37.40" height="28.785" fill="#2cffca"/>
<rect x="903.40" y="450.885" width="37.40" height="28.785" fill="#4dffaa"/>
<rect x="903.40" y="422.500" width="37.40" height="28.785" fill="#6dff8a"/>
<rect x="903.40" y="394.115" width="37.40" height="28.785" fill="#8aff6d"/>
<rect x="903.40" y="365.731" width="37.40" height="28.785" fill="#aaff4d"/>
<rect x="903.40" y="337.346" width="37.40" height="28.785" fill="#caff2c"/>
<rect x="903.40" y="308.962" width="37.40" height="28.785" fill="#ebff0c"/>
<rect x="903.40" y="280.577" width="37.40" height="28.785" fill="#ffde00"/>
<rect x="903.40" y="252.192" width="37.40" height="28.785" fill="#ffb900"/>
<rect x="903.40" y="223.808" width="37.40" height="28.785" fill="#ff9400"/>
<rect x="903.40" y="195.423" width="37.40" height="28.785" fill="#ff7300"/>
<rect x="903.40" y="167.038" width="37.40" height="28.785" fill="#ff4e00"/>
<rect x="903.40" y="138.654" width="37.40" height="28.785" fill="#ff2900"/>
<rect x="903.40" y="110.269" width="37.40" height="28.785" fill="#ed0400"/>
<rect x="903.40" y="81.885" width="37.40" height="28.785" fill="#bf0000"/>
<rect x="903.40" y="53.500" width="37.40" height="28.785" fill="#920000"/>
<rect x="903.40" y="53.50" width="37.40" height="738.00" fill="none" stroke="#000" stroke-width="2"/>
<line x1="940.80" y1="763.12" x2="949.30" y2="763.12" stroke="#000" stroke-width="1.8"/>
<text x="958.60" y="772.52">−0.96</text>
<line x1="940.80" y1="677.96" x2="949.30" y2="677.96" stroke="#000" stroke-width="1.8"/>
<text x="958.60" y="687.36">−0.72</text>
<line x1="940.80" y1="592.81" x2="949.30" y2="592.81" stroke="#000" stroke-width="1.8"/>
<text x="958.60" y="602.21">−0.48</text>
<line x1="940.80" y1="507.65" x2="949.30" y2="507.65" stroke="#000" stroke-width="1.8"/>
<text x="958.60" y="517.05">−0.24</text>
<line x1="940.80" y1="422.50" x2="949.30" y2="422.50" stroke="#000" stroke-width="1.8"/>
<text x="958.60" y="431.90">0.00</text>
<line x1="940.80" y1="337.35" x2="949.30" y2="337.35" stroke="#000" stroke-width="1.8"/>
<text x="958.60" y="346.75">0.24</text>
<line x1="940.80" y1="252.19" x2="949.30" y2="252.19" stroke="#000" stroke-width="1.8"/>
<text x="958.60" y="261.59">0.48</text>
<line x1="940.80" y1="167.04" x2="949.30" y2="167.04" stroke="#000" stroke-width="1.8"/>
<text x="958.60" y="176.44">0.72</text>
<line x1="940.80" y1="81.88" x2="949.30" y2="81.88" stroke="#000" stroke-width="1.8"/>
<text x="958.60" y="91.28">0.96</text>
</g>
<text x="510.60" y="27.60" font-size="33.3" text-anchor="middle">(a)</text>
<clipPath id="clip1064"><rect x="1203.90" y="55.85" width="732.50" height="732.70"/></clipPath>
<g clip-path="url(#clip1064)">
<ellipse cx="1572.60" cy="422.30" rx="363.20" ry="368.00" fill="#7eff78"/>
<path fill="#aaff4d" d="M1626.7 619.6L1628.4 621.6L1629.7 622.3L1630.3 622.1L1628.7 620.3ZM1632.5 616L1634.4 618.3L1636.9 620.3L1638.8 621.1L1639.4 620.5L1634.7 616.3L1632.8 615.5ZM1638.4 612L1640.3 614.4L1644.2 617.7L1646.7 618.9L1648 618.6L1646.6 616.8L1642.3 613.5L1639.6 611.8ZM1644.5 608.4L1647.3 611.5L1652.4 615.3L1655 616.5L1655.9 616.4L1656.1 615.7L1653.7 613.3L1648.1 609.3L1645.2 607.8L1644.6 607.8ZM1650.5 604.3L1653.3 607.3L1659.6 612L1662.7 613.5L1663.8 613.4L1664.1 612.8L1661.8 610.4L1655.1 605.7L1651.7 603.9L1650.8 603.8ZM1656.5 600.1L1659.5 603.3L1666.9 608.6L1670.3 610.2L1671.6 610L1671.9 609.3L1669 606.7L1661 601.5L1657.8 599.8L1656.8 599.7ZM1662.5 596L1666.2 599.6L1674.5 605.1L1678 606.5L1679.2 606.2L1679.4 605.5L1676.1 602.7L1666.8 597L1663.5 595.4L1662.7 595.4ZM1668.5 591.8L1673.3 595.8L1682 601.3L1685.5 602.5L1686.7 602.1L1686.7 601.3L1682.8 598.3L1672.4 592.2L1669.1 590.9L1668.4 591.1ZM1674.1 587L1678.6 590.8L1688.4 596.7L1692.2 598.2L1693.5 598L1693.9 597.2L1690.7 594.5L1679 587.9L1675.2 586.3L1674.3 586.4ZM1679.7 582.1L1683.8 585.6L1695 592.1L1699.2 593.6L1700.6 593.2L1700.8 592.3L1697.2 589.7L1684.9 583.1L1681 581.6L1680 581.6ZM1685.3 577.2L1686.6 578.6L1690.3 581.1L1701.6 587.2L1705.7 588.7L1707 588.4L1707.6 587.5L1704 584.9L1690.7 578.1L1686.5 576.5L1685.5 576.6ZM1690.7 572.1L1692.3 573.6L1695.8 575.8L1708.2 582.2L1712.4 583.5L1713.7 583L1713.9 582.1L1710.2 579.6L1695.7 572.6L1691.9 571.3L1690.9 571.5ZM1696 566.9L1701.9 570.9L1714.9 577.1L1718.8 578.1L1720.1 577.4L1720.1 576.5L1716.1 574L1700.7 567.1L1696.9 566L1696 566.2ZM1701.1 561.3L1703 562.9L1707.2 565.3L1720.5 571.4L1724.8 572.4L1726 571.8L1726.2 570.8L1721.8 568.2L1706.2 561.6L1702.1 560.4L1701.2 560.6ZM1706.4 556.1L1713.9 560.3L1727.2 565.9L1730.9 566.4L1732 565.5L1731.6 564.4L1725.9 561.6L1710.1 555.5L1706.5 554.8L1705.9 555.3ZM1710.8 549.9L1717.6 553.7L1731.8 559.5L1736.1 560.3L1737.3 559.6L1737.4 558.6L1733.1 556.2L1716 549.8L1711.6 548.8L1710.8 549.1ZM1715.5 544.1L1722.9 547.9L1737.8 553.4L1741.6 553.9L1742.7 552.8L1742.3 551.9L1737.4 549.5L1719.9 543.5L1716 542.8L1715.2 543.2ZM1719.9 537.9L1727 541.4L1742.5 546.8L1746.6 547.3L1747.7 546.2L1747.3 545.3L1742.1 543L1724.3 537.2L1720.4 536.6L1719.6 537ZM1724.1 531.6L1732.1 535.2L1747.4 540.2L1751.3 540.5L1752.3 539.4L1752 538.4L1746.6 536.2L1728.5 530.8L1724.5 530.2L1723.7 530.7ZM1728 525L1735.7 528.4L1752 533.3L1755.7 533.5L1756.7 532.6L1756.5 531.5L1751.6 529.5L1732.8 524.3L1728.5 523.7L1727.7 524.2ZM1732 518.6L1740.2 521.9L1756.4 526.3L1760 526.3L1760.9 525.1L1760.4 524.1L1755.1 522.2L1736.1 517.4L1732 517.1L1731.4 517.8ZM1735.3 511.7L1743.1 514.7L1760.1 519L1763.9 519L1764.8 517.8L1764.1 516.7L1758.3 514.8L1739.8 510.6L1735.7 510.3L1734.9 510.9ZM1738.5 504.8L1746.1 507.6L1763.5 511.6L1767.4 511.6L1768.3 510.4L1767.8 509.3L1762.4 507.6L1743.2 503.6L1738.9 503.4L1738.2 503.9ZM1742.3 498.2L1752 501.1L1767.6 504.2L1769.8 504.3L1771.1 503.8L1771.5 502.3L1770.5 501.4L1762.9 499.5L1745.1 496.3L1741.5 496.6L1741.2 497.3ZM1745.5 491.2L1756.2 494L1771 496.6L1773.1 496.5L1774.1 495.9L1774.4 494.6L1773.1 493.6L1764.7 491.8L1748 489.1L1744.2 489.5L1744 490.3ZM1748.4 484.1L1759.3 486.6L1773.6 488.8L1775.8 488.7L1776.9 487.9L1776.9 486.5L1775.2 485.6L1750.1 481.8L1747.7 481.9L1746.6 482.4L1746.8 483.3ZM1749.8 476.4L1759.3 478.6L1775.9 481L1778 480.9L1779 480.3L1779.4 478.8L1778.4 478L1771.2 476.6L1753.3 474.5L1749.2 474.7L1748.8 475.6ZM1752.1 469.1L1761.8 471.1L1777.9 473L1780.1 472.9L1781.1 472.3L1781.3 470.8L1780.1 469.9L1771.7 468.5L1754.8 466.9L1751 467.5L1750.8 468.3ZM1754 461.7L1764.1 463.4L1779.7 465L1781.9 464.8L1782.9 464L1783 462.6L1781.5 461.7L1772.9 460.6L1756.5 459.4L1752.7 460L1752.6 460.9ZM1757.4 454.6L1769.9 456.1L1781.9 456.8L1784 456.3L1784.5 454.7L1783.6 453.8L1780.9 453.2L1756.7 451.8L1754.6 452.2L1753.9 453.1L1754.8 453.9ZM1758.3 446.9L1771.3 448.2L1783 448.7L1785.1 448.1L1785.6 446.6L1784.8 445.7L1782.2 445.1L1766.7 444.2L1757.7 444.1L1755.5 444.6L1755 445.5L1755.9 446.2ZM1759.1 439.2L1772.2 440.2L1783.9 440.5L1786 439.8L1786.3 438.3L1785.5 437.4L1782.9 436.9L1767.7 436.3L1758.6 436.4L1756.4 436.9L1755.8 437.8L1756.7 438.6ZM1761.3 431.6L1776.4 432.3L1784.7 432.2L1786.6 431.4L1786.5 429.6L1785 428.9L1781.6 428.6L1758.7 428.8L1756.6 429.4L1756.4 430.4L1757.8 431.1ZM1766.9 424.1L1781 424.2L1785.9 423.7L1787 422.4L1786.7 421.4L1785.9 420.9L1776.4 420.4L1762.9 420.7L1757.3 421.4L1756.4 422.4L1757.6 423.3ZM1775.1 416.2L1785.5 415.6L1786.8 414.5L1786.7 413.4L1786 412.7L1781.5 412.2L1767.9 412.6L1757.8 413.5L1756.3 414.3L1756.8 415.3L1761.8 416.1ZM1776.4 408.1L1785.5 407.2L1786.2 406.6L1786.4 405.6L1785.1 404.3L1780 404L1765.6 404.8L1757 405.9L1755.8 406.9L1757 407.9L1762.5 408.3ZM1779.1 399.8L1785.1 398.7L1785.6 398L1785.4 396.9L1783.8 396L1776.7 396L1761.4 397.3L1755.5 398.6L1755.1 399.7L1757.1 400.4L1764.7 400.5ZM1780.2 391.5L1783.1 391L1784.4 390.2L1784.1 388.4L1782.2 387.8L1773.1 388.2L1758.1 389.9L1755.2 390.6L1754 391.3L1754.4 392.4L1756.7 392.8ZM1777.7 383.5L1781.3 383L1782.9 382.1L1782.8 380.4L1780.7 379.7L1772.3 380.2L1757.8 382.1L1752.7 383.6L1752.8 384.7L1754.9 385.2ZM1777 375.4L1780.1 374.7L1781.3 373.8L1780.9 372.1L1779 371.6L1769.6 372.4L1755.1 374.7L1752.1 375.5L1750.8 376.3L1751.3 377.3L1753.3 377.7ZM1775.8 367.3L1778.5 366.5L1779.4 365.6L1778.8 364.1L1776.4 363.6L1765.1 365L1752.3 367.4L1749.8 368.2L1748.8 369L1749.4 369.9L1751.4 370.2ZM1774 359.3L1776.3 358.5L1777.1 357.5L1776.2 356L1774.1 355.7L1761.7 357.5L1749.5 360.1L1747.2 361L1746.5 361.9L1747.3 362.6L1749.7 362.8ZM1772 351.4L1774.1 350.4L1774.4 349.3L1773.3 348.1L1771 348L1757.6 350.3L1746.6 353L1744.7 353.8L1744.1 354.7L1744.9 355.4L1747.2 355.5ZM1769.4 343.6L1771.2 342.7L1771.4 341.4L1770.3 340.4L1768 340.3L1754.6 342.9L1743.5 345.9L1741.6 347L1741.5 347.8L1742.6 348.3L1744.8 348.3ZM1766.9 335.7L1768.2 334.7L1767.8 333.4L1766.5 332.8L1764.4 332.8L1749.7 336.1L1739.8 339.2L1738.6 340.1L1738.8 340.9L1742.2 341.1L1758.5 337.9ZM1762.3 328.6L1764.3 327.6L1764.5 326.5L1763.3 325.4L1760.9 325.4L1748.1 328.5L1737.5 331.8L1735.7 332.8L1735.4 333.7L1736.4 334.2L1738.5 334.2ZM1759.1 321.1L1760.6 320.1L1760.5 318.9L1759.4 318.2L1757.1 318.2L1744.3 321.5L1733.7 325.2L1732.3 326.1L1732.2 327L1733.4 327.4L1735.6 327.2ZM1754.6 314.1L1756.4 313L1756.3 311.8L1755 311L1752.7 311.2L1740.7 314.5L1730.4 318.3L1728.8 319.4L1728.6 320.2L1729.7 320.6L1731.7 320.5ZM1750.8 306.8L1752 305.9L1751.5 304.6L1750.3 304.1L1748 304.3L1735.2 308.3L1726.1 312L1724.9 313L1725.1 313.8L1728.5 313.7ZM1745.8 300.2L1747.3 299L1746.8 297.8L1745.4 297.4L1743.1 297.7L1731 301.7L1722.2 305.5L1721 306.6L1721.1 307.3L1724.3 307.2ZM1740.8 293.6L1742.2 292.5L1741.8 291.4L1740.6 290.8L1738.3 291.1L1726.9 295.1L1718 299.3L1716.9 300.3L1717.1 300.9L1720.2 300.8ZM1735.5 287.2L1736.8 286.1L1736.4 285L1735.1 284.5L1732.9 284.9L1721.8 289.1L1713.7 293.1L1712.7 294.2L1712.9 294.8L1716.1 294.5ZM1730.2 280.8L1731.2 279.7L1730.6 278.7L1729.3 278.5L1727 278.9L1716.8 283.1L1709.1 287.1L1708.3 288L1708.5 288.7L1711.6 288.4L1723.5 283.9ZM1724.8 274.6L1725.3 273.5L1724.4 272.8L1720.9 273.2L1710.5 277.8L1704.2 281.5L1703.7 282.3L1704.2 282.8L1707.4 282.3L1719.2 277.5ZM1718.4 269.1L1719.1 268.1L1718.4 267.2L1714.9 267.7L1706 271.8L1699.6 275.6L1699.1 276.5L1699.5 277L1702.4 276.5L1712.7 272.1ZM1712.2 263.5L1712.7 262.6L1711.7 261.8L1708.4 262.4L1700.5 266.3L1694.7 270.1L1694.3 271L1694.8 271.4L1697.7 270.7L1707.3 266.4ZM1705.3 258.6L1705.9 257.6L1705.3 256.9L1702.3 257.3L1695.3 260.8L1689.9 264.5L1689.4 265.3L1689.7 265.7L1692.4 265.2L1700.5 261.5ZM1698.4 253.7L1698.9 252.8L1698.3 252.2L1695.4 252.7L1689.9 255.6L1684.9 259.1L1684.5 259.8L1684.8 260.3L1687.3 259.8L1694.1 256.5ZM1691.1 249.2L1691.6 248.5L1691.1 247.9L1688.4 248.3L1684.1 250.6L1679.9 253.8L1679.5 254.5L1679.8 255L1682 254.5L1687.4 251.7ZM1683.4 245.2L1683.9 244.4L1683.5 244L1681.4 244.3L1677.9 246.1L1674.9 248.6L1674.7 249.6L1676.5 249.3ZM1675.4 241.5L1675.5 240.6L1673.9 240.8L1670 243.5L1669.9 244.3L1671.2 244.1Z"/>
<path fill="#4dffaa" d="M1629.5 617.7L1632.5 620.9L1634.3 621.8L1635 621.4L1631.8 618.3L1630.2 617.5ZM1635.4 613.8L1636.6 615.7L1640.1 618.7L1642.5 620L1643.7 619.7L1642.7 618.3L1639.4 615.5L1636.5 613.8ZM1641.4 610.1L1643.3 612.5L1647.7 616.1L1650.5 617.7L1652.1 617.4L1650.8 615.6L1646 612L1642.6 609.9ZM1647.5 606.1L1649.5 608.7L1655.1 613.1L1658.5 614.9L1659.5 615L1660.2 614.6L1658.7 612.7L1653.3 608.7L1649.1 606.1ZM1653.5 602.1L1656 605L1662.9 610.1L1666.5 611.9L1667.6 611.8L1668.1 611.2L1665.6 608.7L1658.7 604L1655 602L1653.9 601.8ZM1659.5 598.1L1663 601.6L1670.7 606.9L1674.2 608.4L1675.4 608.2L1675.7 607.5L1672.6 604.7L1664.2 599.4L1660.7 597.6L1659.7 597.6ZM1665.4 593.6L1668.4 596.7L1677.3 602.7L1681.3 604.5L1682.5 604.5L1683.2 603.8L1680.7 601.4L1671.3 595.6L1667 593.4L1665.9 593.2ZM1671.4 589.5L1676.2 593.5L1685.4 599.2L1689 600.4L1690.2 600L1690.3 599.2L1686.4 596.2L1675.5 590L1672.1 588.7L1671.3 588.9ZM1676.9 584.6L1681.2 588.2L1691.7 594.5L1695.8 595.9L1697.1 595.6L1697.4 594.8L1694 592.1L1682 585.5L1678.2 584L1677.2 584ZM1682.6 579.8L1687.6 583.7L1698.6 589.8L1702.6 591.2L1703.8 590.8L1704.2 590L1700.9 587.4L1687.6 580.5L1683.7 579L1682.7 579.1ZM1688.1 574.8L1693.2 578.6L1705 584.8L1709.2 586.1L1710.4 585.8L1710.8 584.9L1707.1 582.2L1693.2 575.4L1689.2 574L1688.1 574.1ZM1693.4 569.5L1695 571L1699.2 573.6L1711.5 579.7L1715.7 580.8L1717 580.2L1717 579.3L1712.5 576.5L1698.1 569.8L1694.3 568.7L1693.4 568.9ZM1698.6 564.3L1704.8 568.2L1717.9 574.3L1721.9 575.3L1723.1 574.6L1723.1 573.6L1718.3 570.8L1703.2 564.3L1699.4 563.2L1698.5 563.5ZM1703.6 558.6L1705.5 560.1L1710 562.5L1723.7 568.6L1727.9 569.4L1729 568.7L1728.9 567.6L1724.6 565.3L1708.4 558.6L1704.5 557.6L1703.6 557.9ZM1708.5 552.9L1714.9 556.7L1729.4 562.6L1733.4 563.4L1734.6 562.6L1734.6 561.6L1730 559.2L1713.2 552.7L1709.3 551.8L1708.4 552.1ZM1713 546.7L1714.5 548L1718.7 550.2L1734.5 556.4L1738.8 557.1L1740 556.4L1740 555.4L1735.6 553L1718.4 546.8L1714.1 545.8L1713.1 546.1ZM1717.7 541L1725.3 544.8L1740.3 550.2L1744.2 550.6L1745.2 549.5L1744.8 548.5L1739.8 546.3L1722.1 540.4L1718.2 539.7L1717.4 540.1ZM1722.1 534.9L1729.8 538.4L1745.3 543.6L1749 543.9L1750.1 542.8L1749.7 541.8L1744.4 539.6L1726.1 533.9L1722.3 533.5L1721.7 534ZM1726.3 528.5L1734.7 532.1L1750.1 536.9L1753.7 537L1754.6 535.8L1754.1 534.8L1748.3 532.6L1730.2 527.4L1726.4 527L1725.7 527.7ZM1729.8 521.7L1732.1 523L1737.3 524.9L1753.8 529.8L1757.9 530L1758.9 528.8L1758.4 527.8L1753.1 525.8L1734.6 520.9L1730.4 520.4L1729.6 520.8ZM1734.1 515.4L1742.9 518.7L1758.5 522.7L1760.9 523L1762.2 522.6L1762.9 521.2L1762.1 520.3L1755.7 518.3L1737.4 513.9L1733.6 513.8L1733.2 514.5ZM1737.2 508.5L1745.6 511.4L1762.1 515.4L1765.8 515.3L1766.6 514L1765.9 513L1760 511.2L1741 507L1737.1 506.9L1736.5 507.7ZM1740.4 501.5L1748.5 504.2L1765.3 507.9L1769.1 507.8L1770 506.5L1769.4 505.5L1763.3 503.7L1744.2 500L1740.2 500L1739.7 500.6ZM1743.4 494.5L1752.3 497.1L1768.8 500.4L1771.2 500.5L1772.4 500.1L1773 498.7L1772.4 497.8L1766.5 496.2L1747.3 492.8L1743.2 492.8L1742.6 493.6ZM1746.2 487.3L1755.4 489.8L1772.1 492.7L1774.1 492.7L1775.4 492.2L1775.8 490.7L1774.7 489.8L1766.8 488.1L1749.5 485.5L1745.6 485.7L1745.3 486.5ZM1748.9 480.2L1758.1 482.4L1774.5 484.9L1776.7 484.9L1777.9 484.2L1778.2 482.8L1776.9 481.8L1768.4 480.2L1751.5 478.1L1748 478.5L1747.8 479.4ZM1751.3 472.9L1761.6 475L1777.2 477L1779.2 476.8L1780.2 476.1L1780.4 474.7L1778.9 473.8L1770 472.4L1753.6 470.7L1750 471.2L1750 472.1ZM1753.4 465.5L1764 467.4L1779 469L1781.2 468.8L1782.2 467.9L1782.1 466.5L1780.5 465.7L1771.1 464.4L1755.4 463.2L1751.8 463.8L1751.9 464.8ZM1755.3 458L1765.4 459.6L1780.6 460.9L1782.8 460.7L1783.8 459.7L1783.6 458.3L1781.8 457.5L1770.5 456.3L1756.9 455.6L1754.6 455.7L1753.3 456.3L1753.6 457.4ZM1756.8 450.5L1767.6 451.9L1782.2 452.8L1784.4 452.4L1785.1 451.2L1784.7 450.1L1782.7 449.3L1758.2 447.9L1755.7 448.2L1754.6 448.8L1754.8 449.7ZM1760.2 443.2L1775.2 444.4L1783.7 444.6L1785.7 443.9L1785.9 442.1L1784.4 441.3L1781.2 440.9L1765.4 440.2L1757.8 440.3L1755.8 440.9L1755.6 441.9L1757 442.6ZM1760.1 435.4L1774.2 436.3L1784.2 436.4L1786.2 435.7L1786.5 434L1785.3 433.2L1782.4 432.7L1758.9 432.6L1756.5 433.1L1756.1 434.1L1757.2 434.8ZM1769 428.1L1782.6 428.3L1786.5 427.5L1786.9 425.8L1785.3 424.8L1774.2 424.4L1761.4 424.6L1756.7 425.5L1756.5 426.6L1758.3 427.3ZM1772.2 420.2L1785.1 419.8L1786.7 419.1L1786.9 417.6L1786 416.8L1783.6 416.4L1770.7 416.4L1759 417.1L1756.8 417.8L1756.4 418.7L1757.5 419.4L1760.1 419.9ZM1776.1 412.1L1785.5 411.4L1786.7 410.1L1786.4 409.1L1785.6 408.5L1780.8 408.1L1766.4 408.7L1757.2 409.8L1756.1 410.7L1757 411.7L1762.3 412.2ZM1780.2 403.8L1784 403.4L1785.7 402.7L1785.9 401L1784.1 400.1L1776.2 400.1L1761.1 401.3L1755.7 402.6L1755.7 403.6L1757.8 404.3ZM1778.4 395.8L1782.7 395.3L1784.7 394.5L1785.1 393.8L1784.9 392.7L1783.1 391.9L1775.6 392.1L1761.1 393.4L1755 394.7L1754.6 395.9L1756.5 396.6L1762.9 396.6ZM1778.6 387.5L1782 387L1783.6 386.3L1783.6 384.5L1781.7 383.7L1773.4 384.1L1758.4 385.9L1753.4 387.4L1753.5 388.5L1755.4 389L1763 388.8ZM1778.4 379.3L1781.2 378.7L1782.2 377.8L1781.7 376.1L1779.6 375.6L1769.1 376.5L1755.6 378.5L1752.7 379.3L1751.7 380.1L1752.2 381.1L1754.4 381.4ZM1777.3 371.2L1779.6 370.5L1780.4 369.6L1779.8 368L1777.7 367.6L1765.9 368.9L1752.9 371.2L1750.5 372.1L1749.8 372.9L1750.5 373.7L1752.6 373.9ZM1775.9 363.1L1778 362.2L1778.2 361L1777.4 360L1775 359.7L1761.5 361.6L1750 364L1748 364.9L1747.7 365.8L1748.7 366.4L1751 366.5ZM1774.2 355L1775.7 354.1L1775.5 352.7L1774.4 351.9L1772.1 351.9L1757 354.4L1747.1 356.9L1745.5 357.8L1745.5 358.7L1746.6 359.1L1749.1 359.1L1765.1 356.8ZM1770.1 347.6L1772.4 346.8L1773 345.8L1772.1 344.4L1769.8 344.1L1757.1 346.4L1745.4 349.3L1743.2 350.3L1742.8 351.2L1743.7 351.8L1746 351.9ZM1767.4 339.9L1769.4 339L1769.9 337.9L1768.9 336.7L1766.7 336.5L1754 339.1L1742.4 342.3L1740.4 343.2L1740 344.1L1740.9 344.7L1743.2 344.7ZM1764.5 332.2L1766.3 331.2L1766.3 330L1765.2 329.2L1762.9 329.1L1750.1 332L1739 335.3L1737.3 336.3L1737 337.2L1738.1 337.7L1740.3 337.6ZM1761.4 324.6L1762.7 323.6L1762.3 322.3L1761.1 321.7L1758.8 321.8L1744.3 325.5L1735 328.8L1733.8 329.7L1734 330.5L1737.6 330.6L1753.6 326.9ZM1756.9 317.6L1758.5 316.5L1758.4 315.3L1757.2 314.6L1754.9 314.7L1742 318.2L1732 321.8L1730.6 322.7L1730.5 323.6L1731.7 324L1733.8 323.8ZM1753.2 310.2L1754.3 309.2L1753.8 308L1752.4 307.5L1750.4 307.7L1737.1 311.7L1727.9 315.4L1726.8 316.3L1727 317.1L1730.4 317L1745.5 312.8ZM1748.4 303.5L1749.7 302.4L1749.2 301.2L1747.9 300.7L1745.6 301L1733.8 304.7L1724.4 308.7L1723 309.7L1723.1 310.5L1726.4 310.4ZM1743.5 296.8L1744.8 295.6L1744.3 294.6L1743 294.1L1740.9 294.3L1729.6 298.2L1720.4 302.2L1719.1 303.3L1719.1 304L1722.2 304ZM1738.3 290.3L1739.5 289.3L1739.1 288.1L1737.7 287.7L1735.6 288L1724.6 292L1716 296.1L1714.9 297.1L1715 297.8L1718.2 297.6ZM1732.9 284L1734.1 282.8L1733.4 281.8L1732.1 281.5L1729.8 281.9L1719 286.2L1711.4 290.1L1710.5 291.1L1710.7 291.7L1713.9 291.4ZM1727.5 277.8L1728.3 276.8L1727.6 275.8L1726.3 275.5L1724.1 276L1714.5 280L1706.9 284.1L1706 285.1L1706.3 285.7L1709.3 285.4L1721.3 280.7ZM1721.4 272L1722.3 270.9L1721.6 270L1720.3 269.8L1718.2 270.3L1709.1 274.3L1702.2 278.3L1701.4 279.2L1701.7 279.9L1704.7 279.4L1715.2 275.1ZM1715.1 266.5L1715.9 265.5L1715.3 264.6L1714.1 264.4L1712.1 264.9L1703.7 268.8L1697.4 272.7L1696.7 273.6L1697 274.1L1699.9 273.7L1709.6 269.4ZM1708.7 261.1L1709.4 260.1L1708.7 259.4L1705.5 259.8L1698.3 263.3L1692.5 267.1L1691.9 268L1692.2 268.5L1695 268L1703.7 264ZM1701.9 256.1L1702.5 255.3L1701.9 254.5L1699 254.9L1693 257.9L1687.5 261.7L1686.9 262.5L1687.3 263L1689.8 262.5L1697.4 258.9ZM1694.9 251.3L1695.3 250.5L1694.6 250L1691.8 250.5L1686.6 253.3L1682.3 256.6L1682 257.3L1682.3 257.6L1684.8 257.1L1690.9 254ZM1687.3 247.2L1687.8 246.4L1687.3 245.9L1684.9 246.2L1681.2 248.2L1677.5 251.1L1677.2 252.3L1679.2 251.9L1683.8 249.6ZM1679.8 242.9L1679.8 242.4L1679.3 242.1L1677.4 242.6L1674.6 244.1L1672.3 246.2L1672.5 247L1674.4 246.5L1677.6 244.8ZM1670.8 240L1671 239.3L1670.1 239.3L1667.8 240.9L1667.7 241.5L1668.4 241.4Z"/>
<path fill="#caff2c" d="M1656.5 608.5L1658.4 610.4L1659.8 610.9L1660.4 610.7L1658.6 608.9L1657 608.3ZM1662 604L1663.5 605.7L1666 607.4L1668 608.2L1668.8 607.6L1664.8 604.5L1662.6 603.6ZM1667.6 599.4L1669.7 601.6L1673.4 604L1675.8 604.8L1676.6 604.6L1676.7 604.1L1674.9 602.3L1670.9 599.9L1668.5 598.9ZM1673.3 594.7L1675.8 597.1L1680.4 600.1L1683.2 601L1684.1 600.8L1684.3 600.2L1682.1 598.2L1676.9 595.3L1674.1 594.2L1673.4 594.2ZM1679 590L1682.3 592.8L1688 596.1L1690.8 596.9L1691.6 596.4L1691.5 595.7L1688.3 593.3L1682.2 590.1L1679.5 589.3L1678.9 589.4ZM1684.4 584.8L1687.6 587.6L1694.2 591.4L1697.4 592.4L1698.5 592.1L1698.6 591.4L1695.9 589.2L1688.9 585.5L1685.6 584.3L1684.7 584.3ZM1689.9 579.8L1693.5 582.7L1701 586.7L1704.2 587.6L1705.3 587.3L1705.5 586.5L1702.2 584.1L1694.1 580.1L1690.8 579.1L1690 579.2ZM1695.2 574.4L1698.5 577.1L1707 581.5L1710.7 582.5L1711.8 582.2L1712.1 581.5L1709.3 579.3L1700.2 575L1696.3 573.7L1695.4 573.8ZM1700.4 569L1704.2 571.8L1713.4 576.3L1716.9 577.2L1718 576.8L1718.3 576L1715.1 573.7L1705.2 569.3L1701.4 568.2L1700.5 568.3ZM1705.4 563.3L1709.9 566.4L1719.6 570.8L1723.3 571.5L1724.3 570.9L1724.2 570L1720.1 567.6L1710.1 563.5L1706.4 562.5L1705.6 562.7ZM1710.4 557.6L1715.4 560.8L1725.3 565L1729 565.7L1730.1 565.1L1730.1 564.2L1726.3 561.9L1715 557.6L1711.2 556.7L1710.3 557ZM1715.1 551.7L1720.7 554.9L1731.1 559.1L1734.6 559.6L1735.6 558.9L1735.6 558L1731.8 555.9L1719.6 551.4L1715.8 550.7L1715 551.1ZM1719.7 545.6L1725.3 548.7L1736.4 552.8L1739.9 553.2L1740.9 552.5L1740.8 551.5L1736.3 549.3L1724 545.1L1720.3 544.5L1719.5 544.9ZM1724 539.3L1729.7 542.3L1741.4 546.3L1745 546.7L1745.9 545.9L1745.8 544.9L1741.1 542.7L1728.3 538.7L1724.6 538.2L1723.9 538.5ZM1728.5 533.1L1735.2 536.2L1746.6 539.8L1750 539.8L1750.7 538.9L1750.2 537.9L1744.7 535.7L1732.1 532.1L1728.5 531.8L1727.9 532.3ZM1732.1 526.3L1737.9 529L1750.4 532.8L1754.1 533L1755.1 532.2L1754.9 531.2L1750.3 529.2L1736.6 525.5L1732.7 525.1L1731.9 525.5ZM1735.9 519.6L1742.3 522.3L1755.1 525.9L1758.6 525.8L1759.3 524.9L1758.9 523.9L1753.6 521.9L1740.1 518.6L1736.2 518.3L1735.6 518.8ZM1739.4 512.7L1745.8 515.3L1758.7 518.6L1762.3 518.6L1763.1 517.7L1762.8 516.7L1758 514.9L1743.7 511.7L1739.8 511.4L1739.1 512ZM1742.9 505.9L1749.8 508.4L1762.9 511.4L1766.1 511.1L1766.7 509.9L1766.1 509L1760.2 507.2L1746.6 504.5L1742.9 504.5L1742.3 505.2ZM1746 498.9L1753.4 501.3L1766 503.8L1769.4 503.5L1770 502.3L1769.2 501.4L1763.2 499.7L1749.6 497.3L1745.8 497.4L1745.3 498.1ZM1749 491.7L1756.9 494L1769.3 496.3L1772.4 495.8L1772.9 494.7L1772.3 493.8L1766.7 492.2L1752.3 490L1748.6 490.1L1748.1 490.9ZM1752.3 484.7L1761.1 486.8L1772.2 488.5L1774.4 488.4L1775.3 487.7L1775.4 486.5L1774 485.5L1765.8 484L1753.8 482.5L1751.8 482.6L1750.7 483.2L1750.9 484ZM1753.9 477L1762.2 479L1774.4 480.7L1776.5 480.6L1777.5 480L1777.8 478.7L1776.9 477.9L1770.5 476.5L1756.8 475.1L1753.3 475.4L1753 476.2ZM1756.7 469.8L1765.5 471.5L1776.9 472.8L1778.8 472.5L1779.8 471.7L1779.6 470.4L1778.2 469.6L1770 468.4L1758.1 467.5L1755.9 467.7L1755 468.2L1755.2 469ZM1759.6 462.5L1770.2 464.1L1779 464.7L1780.9 464.3L1781.6 462.9L1780.7 461.9L1778.6 461.3L1767.6 460.2L1759.1 459.9L1757.2 460.2L1756.7 461L1757.4 461.7ZM1759.8 454.5L1769.5 456L1780.3 456.7L1782.2 456.3L1782.9 455.4L1782.7 454.2L1781.2 453.5L1773 452.6L1761.3 452.2L1759.1 452.4L1758.1 453L1758.4 453.9ZM1761.7 447L1772.1 448.2L1781.6 448.5L1783.5 448L1784.1 446.8L1783.5 445.8L1781.5 445.2L1771.3 444.5L1762.1 444.4L1760 444.8L1759.2 445.5L1759.7 446.3ZM1765.9 439.6L1777.5 440.4L1783.4 440.2L1784.8 439.2L1784.3 437.7L1778.8 436.7L1767.4 436.5L1761.5 436.8L1760 437.5L1760.5 438.5ZM1765.9 431.7L1777.3 432.3L1783.6 432L1785.2 431.2L1784.9 429.5L1783.4 428.9L1779.9 428.6L1768.5 428.5L1762.1 429L1760.6 429.7L1760.7 430.6ZM1768.6 424L1780 424.1L1784.6 423.6L1785.5 422.4L1784.6 421L1777.6 420.4L1766.6 420.7L1761.6 421.4L1760.6 422.2L1761.6 423.2ZM1773.4 416.1L1783.4 415.7L1785 414.9L1785.3 413.7L1784.6 412.9L1782.7 412.4L1772.5 412.5L1762.7 413.3L1760.9 413.8L1760.5 414.7L1761.3 415.4L1763.5 415.8ZM1774.9 408L1783.6 407.3L1784.8 406.3L1784.1 404.7L1780 404.2L1769.5 404.6L1761.3 405.7L1760 406.4L1760.4 407.4L1764.2 408.1ZM1778.1 399.8L1781.9 399.3L1783.7 398.6L1783.9 397.1L1782.4 396.2L1776.4 396.1L1765.1 397.1L1759.7 398.3L1759.2 399.3L1760.6 400L1766.8 400.3ZM1776.8 391.7L1782.5 390.5L1783 389.8L1782.8 388.9L1781.3 388L1775.3 388.1L1764.1 389.3L1758.7 390.5L1758.1 391.5L1759.4 392.3L1765.3 392.4ZM1777.2 383.5L1780.1 382.9L1781.4 382.1L1781.2 380.5L1779.5 379.9L1772.6 380.2L1760.8 381.9L1756.8 383.3L1757 384.3L1758.6 384.7L1765.6 384.5ZM1775.1 375.6L1778.4 374.9L1779.7 374.1L1779.6 372.6L1777.8 371.9L1771.2 372.3L1759.5 374.1L1755.2 375.6L1755.2 376.6L1756.8 377.1L1763.5 376.8ZM1774.1 367.5L1776.9 366.7L1777.8 365.9L1777.4 364.5L1775.4 363.9L1768.4 364.6L1756.7 366.7L1753 368.2L1753.3 369.2L1755 369.5L1761.9 369.1ZM1772.8 359.4L1774.9 358.7L1775.5 357.7L1774.8 356.4L1772.7 356.1L1763.7 357.3L1753.4 359.5L1751.3 360.3L1750.7 361.2L1751.4 361.9L1753.4 362.1ZM1769.8 351.7L1772.1 350.9L1772.9 350L1772.2 348.7L1770.1 348.3L1762.2 349.5L1751 352.1L1748.2 353.7L1748.8 354.5L1750.7 354.7ZM1767.6 343.8L1769.6 342.9L1769.9 341.9L1768.9 340.9L1766.8 340.7L1757.6 342.4L1747.8 345L1746.1 345.8L1745.6 346.6L1746.5 347.3L1748.4 347.4ZM1764 336.4L1766 335.6L1766.6 334.6L1765.8 333.4L1763.7 333.2L1755.3 334.8L1745.1 337.7L1743.3 338.6L1742.7 339.4L1743.3 340L1745.2 340.2ZM1761.3 328.7L1762.9 327.8L1762.9 326.7L1761.8 325.9L1759.8 325.8L1751 327.8L1741.4 330.9L1739.9 331.8L1739.6 332.6L1740.5 333.1L1742.4 333.1L1752.5 331.1ZM1757.1 321.6L1758.8 320.6L1759 319.5L1757.9 318.7L1755.7 318.7L1747 320.8L1738.1 323.9L1736.6 324.8L1736.3 325.6L1737.2 326.1L1738.9 326.1L1747.8 324.2ZM1752.9 314.5L1754.6 313.5L1754.8 312.5L1753.7 311.6L1751.7 311.6L1743.6 313.7L1734.5 317.1L1733.2 318L1732.8 318.7L1733.6 319.2L1735.5 319.2ZM1749.5 307L1750.3 306.1L1749.8 305.1L1748.7 304.7L1746.7 304.9L1737.2 307.8L1729.9 310.9L1729.1 311.8L1729.5 312.4L1732.7 312.2L1743.3 309.3ZM1743.9 300.7L1745.4 299.6L1745.3 298.7L1744.2 298L1742.2 298.2L1734.7 300.5L1726.6 303.9L1725.5 304.8L1725.4 305.6L1728.1 305.7ZM1739.3 293.9L1740.3 292.9L1740.1 292.1L1739 291.6L1737.1 291.7L1729.6 294.2L1722.3 297.6L1721.4 298.4L1721.4 299.2L1724.1 299.2L1733.7 296.2ZM1734.4 287.3L1735 286.4L1734.2 285.5L1731.1 285.7L1723.2 288.7L1717.6 291.7L1717.1 292.4L1717.5 292.9L1720.3 292.7L1729.3 289.7ZM1728.6 281.2L1729.2 280.3L1728.6 279.6L1725.6 279.7L1718.3 282.6L1713.3 285.5L1712.8 286.2L1713.2 286.7L1716 286.4L1723.9 283.6ZM1722.2 275.7L1723.1 274.8L1722.9 274L1721.8 273.6L1720 273.9L1714.7 276L1709.2 279.1L1708.5 279.9L1708.6 280.5L1710.9 280.4L1717.7 277.9ZM1716.3 269.8L1716.8 269.1L1716.4 268.4L1713.8 268.5L1709.2 270.4L1704.4 273.4L1704 274L1704.2 274.5L1706.6 274.3L1712.5 271.9ZM1709.5 264.7L1710.1 264L1709.9 263.3L1707.7 263.3L1704 264.8L1700.1 267.3L1699.5 268.5L1701.3 268.5L1706 266.7ZM1702.7 259.6L1702.8 258.5L1701 258.5L1697.9 259.8L1695.3 261.8L1695 262.7L1696.6 262.6L1700.1 261.2ZM1695 255.1L1695.3 254.3L1694.1 254.2L1690.9 256L1690.5 256.8L1691.6 256.8Z"/>
<path fill="#2cffca" d="M1654.2 611L1655 611.7L1655.4 611.5ZM1659.2 606.2L1660.3 607.6L1662.4 609L1664.1 609.6L1664.7 609.1L1661.6 606.6L1659.8 605.9ZM1664.8 601.7L1666.9 603.9L1670 605.9L1672.1 606.5L1672.8 606.3L1672.8 605.8L1671.1 604.2L1667.6 602.1L1665.4 601.2ZM1670.4 596.9L1672.5 599.1L1676.7 601.9L1679.4 603L1680.6 602.3L1679 600.7L1674.6 597.9L1671.5 596.6ZM1676.1 592.4L1679 594.9L1684.3 598.2L1687 599L1687.9 598.7L1688 598.1L1685.5 596L1679.9 592.9L1676.8 591.7L1676.2 591.8ZM1681.7 587.3L1684.4 589.9L1690.9 593.7L1694 594.7L1695 594.4L1695.2 593.7L1692.6 591.6L1685.9 588L1682.7 586.8L1681.8 586.9ZM1687.1 582.2L1690.2 584.9L1697.5 589L1700.9 590L1701.9 589.7L1702.1 589L1699.1 586.7L1691.7 582.9L1688.3 581.7L1687.4 581.7ZM1692.7 577.4L1696.8 580.3L1704.6 584.4L1707.8 585.1L1708.7 584.6L1708.7 583.8L1705 581.3L1696.5 577.3L1693.2 576.4L1692.5 576.7ZM1697.9 571.8L1702.4 575L1710.6 579.1L1714 579.9L1715 579.4L1715.2 578.6L1711.9 576.4L1702.2 572L1698.8 571L1697.8 571.2ZM1703 566.3L1707.3 569.2L1716.4 573.5L1720 574.4L1721.1 574L1721.4 573.2L1718 570.8L1707.8 566.5L1703.9 565.4L1703 565.6ZM1707.9 560.5L1712.3 563.4L1722.5 567.9L1726.1 568.7L1727.2 568.1L1727.2 567.2L1723.1 564.7L1712.6 560.5L1708.8 559.6L1707.9 559.9ZM1712.8 554.7L1718.4 558L1728.4 562.1L1732 562.6L1732.9 561.9L1732.9 561.1L1728.5 558.7L1717.3 554.5L1713.5 553.7L1712.7 554ZM1717.6 548.9L1723.5 552L1734.1 556L1737.4 556.4L1738.4 555.6L1738.1 554.6L1733.1 552.2L1721.2 548.1L1717.8 547.6L1717.2 548.1ZM1722 542.6L1728.5 545.9L1739.2 549.7L1742.6 549.9L1743.5 549.1L1743.2 548.2L1738.3 545.8L1725.7 541.8L1722.2 541.4L1721.7 541.9ZM1726.1 536L1731.8 539L1743.8 543L1747.5 543.3L1748.4 542.5L1748.1 541.5L1743.4 539.4L1730.6 535.5L1726.7 534.9L1726 535.3ZM1730.2 529.6L1736.5 532.6L1748.5 536.3L1752 536.5L1752.9 535.6L1752.7 534.7L1747.8 532.5L1734.5 528.8L1730.8 528.4L1730 528.9ZM1734 522.9L1740.1 525.7L1752.9 529.4L1756.4 529.4L1757.3 528.5L1757 527.5L1751.9 525.5L1738.5 522.1L1734.6 521.7L1733.8 522.2ZM1737.6 516.1L1744.4 518.9L1757.1 522.3L1760.4 522.3L1761.3 521.2L1760.8 520.2L1755.5 518.3L1741.9 515.2L1738.2 514.9L1737.4 515.4ZM1741.2 509.3L1747.8 511.9L1761.1 515L1764.3 514.8L1765 513.8L1764.5 512.8L1759 511L1744.9 508.1L1741.3 508L1740.7 508.6ZM1744.3 502.2L1750.9 504.7L1764.3 507.6L1767.6 507.4L1768.4 506.5L1768 505.4L1763 503.7L1748.5 501L1744.5 500.9L1743.9 501.5ZM1747.5 495.3L1755.2 497.7L1767.7 500.1L1769.9 500.1L1771 499.6L1771.5 498.4L1770.6 497.5L1763.8 495.7L1750.5 493.6L1747.2 493.8L1746.8 494.6ZM1750.5 488.2L1758.6 490.4L1770.8 492.4L1773.8 491.9L1774.3 490.6L1773.4 489.7L1766.3 488.1L1753 486.3L1749.7 486.6L1749.5 487.4ZM1752.8 480.7L1760.8 482.8L1773.1 484.6L1775.2 484.6L1776.3 484L1776.7 482.8L1775.8 481.9L1769.4 480.5L1755.8 478.8L1752.1 479.2L1751.9 480ZM1755.4 473.5L1764 475.3L1775.7 476.7L1777.7 476.6L1778.7 475.9L1778.8 474.6L1777.5 473.7L1770.3 472.5L1757.2 471.3L1754.1 471.9L1754.1 472.7ZM1758 466.1L1768.3 467.9L1778 468.8L1780 468.4L1780.8 467.3L1780.4 466.3L1778.6 465.5L1769.5 464.3L1758.9 463.7L1756.7 463.9L1755.8 464.6L1756.4 465.5ZM1758.9 458.3L1768 459.8L1779.4 460.7L1781.4 460.4L1782.2 459.6L1782.1 458.3L1780.5 457.5L1772.7 456.6L1760.7 456L1757.5 456.8L1757.6 457.5ZM1760.9 450.8L1771.8 452.2L1781.1 452.6L1782.9 452.2L1783.6 451L1783.1 450L1781.2 449.3L1771.8 448.5L1761.7 448.3L1759.6 448.6L1758.7 449.3L1759.1 450.1ZM1762.4 443.1L1773.3 444.2L1782 444.4L1784 443.8L1784.5 442.5L1783.8 441.6L1781.4 441L1770.8 440.5L1762.4 440.5L1760.3 440.9L1759.6 441.7L1760.3 442.5ZM1765.7 435.7L1777.4 436.3L1783.7 436.1L1785 435.1L1784.6 433.6L1779.8 432.7L1767.6 432.5L1761.6 433L1760.3 433.6L1760.6 434.6ZM1770 428L1780.7 428.2L1784.7 427.6L1785.4 426.2L1784.4 425.1L1776.1 424.5L1765.8 424.7L1761.1 425.5L1760.6 426.4L1761.8 427.2ZM1771.3 420.1L1781.7 420L1785.1 419.1L1785.3 417.6L1783.9 416.7L1774.8 416.4L1764.4 417L1760.8 417.9L1760.7 418.8L1762.1 419.5ZM1774.4 412.1L1783.6 411.5L1785 410.6L1784.8 409.1L1783.7 408.5L1781.4 408.3L1771 408.5L1762.1 409.5L1760.5 410.1L1760.4 411.1L1764.3 412ZM1778.7 403.8L1784 402.8L1784.4 401.3L1783 400.3L1776.9 400.2L1765.3 401.1L1760 402.2L1759.7 403.2L1761.3 403.9L1767.4 404.2ZM1777.4 395.8L1781.2 395.3L1783.1 394.6L1783.4 393.1L1782.1 392.2L1776.1 392.1L1764.8 393.2L1759.1 394.5L1758.8 395.5L1760.2 396.2L1766.1 396.3ZM1778.6 387.4L1781.2 386.8L1782.3 386L1781.9 384.5L1780 383.9L1772.9 384.3L1761.1 385.8L1758.5 386.5L1757.5 387.2L1757.9 388.1L1759.7 388.5L1766.6 388.4ZM1776.2 379.5L1779.3 378.9L1780.6 378.1L1780.4 376.5L1778.5 375.9L1771.5 376.3L1760.2 378L1756 379.5L1756.2 380.4L1757.9 380.9ZM1775.6 371.3L1777.9 370.7L1778.9 369.8L1778.4 368.4L1776.7 367.9L1769.3 368.5L1757.3 370.6L1755 371.3L1754 372.2L1754.6 373L1756.3 373.3L1763.9 372.8ZM1772.8 363.6L1775.6 362.8L1776.7 362L1776.3 360.6L1774.5 360L1767.3 360.7L1755.8 362.9L1751.9 364.6L1752.3 365.5L1754 365.8ZM1771.3 355.5L1773.5 354.8L1774.3 353.8L1773.5 352.5L1771.7 352.2L1763.5 353.3L1752.4 355.8L1750.1 356.7L1749.5 357.4L1750 358.1L1751.9 358.4L1759.9 357.5ZM1769.3 347.6L1771.1 346.8L1771.4 345.8L1770.5 344.7L1768.5 344.5L1759.6 346L1749.1 348.6L1747.3 349.6L1746.9 350.3L1747.8 350.9L1749.8 351L1759.8 349.6ZM1765.9 340.1L1767.9 339.2L1768.3 338.3L1767.5 337.2L1765.5 336.9L1756.8 338.5L1746.5 341.3L1744.7 342.2L1744.1 343.1L1744.9 343.7L1746.7 343.8L1755.1 342.5ZM1763.3 332.3L1764.7 331.4L1764.6 330.2L1763.5 329.5L1761.4 329.5L1751.4 331.8L1742.7 334.5L1741.4 335.3L1741.3 336.2L1744.3 336.6L1755.6 334.4ZM1759.2 325.1L1760.9 324.1L1761 323.1L1760 322.3L1757.8 322.2L1749.3 324.2L1740 327.3L1738.3 328.2L1738 329L1738.7 329.5L1740.7 329.5L1750.4 327.6ZM1755.2 318L1756.8 317L1756.9 316L1755.9 315.2L1753.9 315.1L1746.1 317L1736.6 320.4L1734.9 321.4L1734.6 322.2L1735.4 322.7L1737.4 322.6ZM1751.7 310.5L1752.6 309.6L1752.1 308.5L1751 308.1L1749.1 308.2L1739.8 310.9L1732 314.1L1731.1 314.9L1731.2 315.6L1734.2 315.7L1745.4 312.8ZM1747.2 303.6L1748 302.6L1747.4 301.7L1744.3 301.5L1735.1 304.4L1728.1 307.6L1727.3 308.3L1727.5 309L1730.6 308.9L1741.2 305.9ZM1741.5 297.4L1742.9 296.4L1742.8 295.4L1741.6 294.8L1739.7 294.9L1732.3 297.3L1724.5 300.8L1723.4 301.7L1723.5 302.4L1726.1 302.5ZM1736.8 290.7L1737.7 289.7L1737.2 288.7L1736.1 288.4L1734.1 288.7L1726.4 291.4L1719.9 294.7L1719.3 295.4L1719.5 296.1L1722.3 295.9L1731.3 293ZM1731.1 284.5L1732 283.7L1731.7 282.7L1730.6 282.3L1728.7 282.6L1721.7 285.2L1715.7 288.4L1715 289.2L1715.3 289.8L1717.8 289.6L1726.1 286.8ZM1725.2 278.6L1726.2 277.7L1726 276.9L1725 276.5L1723.2 276.7L1717.5 278.9L1711.6 282.1L1710.7 282.9L1710.8 283.5L1713.1 283.5L1720.6 280.8ZM1719.5 272.6L1720.1 271.7L1719.5 271L1716.8 271.2L1711.2 273.6L1706.6 276.4L1706.2 277.1L1706.5 277.6L1708.9 277.3L1715.3 274.8ZM1713.1 267.1L1713.5 266.2L1712.9 265.7L1710.4 265.9L1705.6 268.2L1702 270.6L1701.7 271.2L1701.9 271.6L1704.2 271.3L1709.4 269.2ZM1706.3 261.9L1706.7 261.3L1706.2 260.8L1704.1 260.9L1700.3 262.7L1697.4 264.8L1697.4 265.7L1699.4 265.4L1703.4 263.8ZM1698.6 257.5L1699.3 256.5L1697.8 256.2L1693.3 258.6L1692.7 259.7L1693.6 259.8ZM1690.8 252.9L1690.9 252.5L1690.3 252.5L1688.8 253.3L1688.6 253.7L1689.2 253.8Z"/>
<path fill="#ebff0c" d="M1677.1 596.9L1679.8 599.1L1681.3 599.5L1681.9 599.2L1679.2 597.1L1677.7 596.6ZM1682.5 592L1684.4 593.7L1687.3 595.3L1689.1 595.7L1689.6 594.9L1687.8 593.5L1684.9 591.9L1682.8 591.4ZM1687.8 586.9L1690.8 589.2L1694.3 591L1696.4 591.3L1696.9 590.9L1696.7 590.3L1694.5 588.7L1690.3 586.7L1688.1 586.1ZM1693.2 581.7L1696.2 584L1700.6 586.2L1703.1 586.7L1703.8 586.3L1703.8 585.7L1701.1 583.8L1696 581.4L1693.5 580.8L1693 581ZM1698.3 576L1701.2 578.3L1706.7 581.1L1709.5 581.8L1710.4 581.4L1710.5 580.8L1708 578.9L1702.2 576.2L1699 575.3L1698.3 575.5ZM1703.3 570.3L1706.2 572.6L1712.8 575.8L1715.9 576.5L1716.8 576.1L1716.9 575.3L1713.8 573.2L1707.5 570.5L1704.3 569.7L1703.4 569.8ZM1708.6 565L1713.3 567.9L1719.5 570.6L1722.4 570.8L1723.1 570.2L1722.8 569.4L1719 567.3L1711.7 564.4L1708.8 563.9L1708.3 564.3ZM1713.2 558.8L1717.2 561.4L1725 564.7L1728.1 565.1L1728.9 564.4L1728.7 563.6L1725 561.5L1716.9 558.5L1713.8 557.9L1713.2 558.2ZM1717.8 552.7L1721.8 555.2L1730.1 558.6L1733.4 559.1L1734.4 558.5L1734.5 557.7L1731 555.7L1722.5 552.6L1718.7 551.8L1717.9 552ZM1722.4 546.5L1726.6 549L1735.4 552.4L1738.7 552.8L1739.7 552.2L1739.7 551.3L1736.3 549.4L1726.7 546.2L1723.1 545.6L1722.3 545.9ZM1727 540.5L1732.8 543.3L1741 546.1L1744.1 546.2L1744.8 545.4L1744.5 544.5L1739.6 542.3L1730.2 539.5L1727 539.2L1726.5 539.8ZM1731.1 534L1737 536.7L1745.8 539.4L1748.9 539.4L1749.6 538.6L1749.2 537.7L1744.4 535.7L1734.4 532.9L1731.2 532.7L1730.6 533.2ZM1735.2 527.4L1741.4 530.1L1750.4 532.6L1753.5 532.5L1754.1 531.5L1753.4 530.6L1748.1 528.6L1738 526.1L1734.9 526.1L1734.6 526.7ZM1738.6 520.3L1744.4 522.9L1754.3 525.6L1757.5 525.5L1758.2 524.7L1758 523.8L1753.5 522L1742.6 519.4L1739 519.1L1738.3 519.6ZM1742.3 513.6L1748.2 515.9L1758.3 518.4L1761.4 518.2L1762.1 517.2L1761.6 516.4L1756.5 514.6L1745.6 512.3L1742.2 512.3L1741.7 512.8ZM1745.5 506.5L1751.7 508.8L1762 511.1L1765.1 510.8L1765.7 509.7L1765.1 508.9L1759.8 507.2L1748.7 505.1L1745.4 505.2L1745 505.8ZM1749.1 499.7L1757.1 502L1765.9 503.7L1767.7 503.6L1768.7 502.9L1768.8 501.8L1767.8 501L1761.5 499.4L1751 497.8L1748.2 498.2L1748.1 498.9ZM1751.8 492.3L1759.5 494.5L1768.7 496L1770.4 496L1771.6 495.4L1771.8 494.2L1770.8 493.4L1764.7 491.9L1753.8 490.4L1750.9 490.9L1750.8 491.5ZM1754.5 485L1762.2 487L1771.6 488.3L1773.3 488.2L1774.3 487.5L1774.4 486.4L1773.2 485.5L1767.1 484.2L1756.4 483L1753.5 483.5L1753.4 484.2ZM1757 477.6L1765.8 479.5L1774.3 480.5L1775.9 480.3L1776.8 479.4L1776.6 478.4L1775.2 477.6L1769.1 476.4L1758.6 475.5L1755.7 476.1L1755.9 477ZM1759.1 470L1767 471.6L1776.1 472.6L1777.9 472.3L1778.7 471.5L1778.7 470.4L1777.4 469.7L1771.2 468.6L1760.6 467.9L1757.7 468.5L1757.8 469.3ZM1761.1 462.4L1770.4 464L1778.2 464.6L1780 464.1L1780.5 463.1L1780.2 462.2L1778.6 461.5L1770.7 460.5L1761.8 460.2L1760.1 460.5L1759.3 461.1L1759.6 461.7ZM1762.5 454.7L1771 456L1779.4 456.5L1781.2 456.1L1781.9 455.3L1781.6 454.1L1780.2 453.5L1772.5 452.6L1763.1 452.4L1761.4 452.8L1760.7 453.4L1761.1 454.1ZM1765.6 447.3L1775.4 448.3L1781.4 448.3L1782.8 447.5L1782.8 446.2L1781.8 445.5L1779.3 445L1769.6 444.5L1763.7 444.7L1762.1 445.3L1761.9 446.1ZM1765.9 439.4L1775.8 440.3L1782.1 440.1L1783.6 439.5L1783.7 438.1L1782.7 437.4L1780.5 436.9L1771.5 436.6L1764.3 436.9L1762.9 437.4L1762.7 438.3ZM1767.9 431.7L1777.6 432.2L1782.9 431.9L1784.2 431L1783.9 429.6L1782.6 429L1779.4 428.7L1770 428.6L1764.3 429.2L1763.1 429.9L1763.5 430.8ZM1773 424L1781.3 424L1783.4 423.6L1784.3 422.9L1784.2 421.6L1783 420.9L1774.7 420.5L1766.2 421L1763.3 422L1763.6 422.8L1764.9 423.4ZM1776 416L1783.2 415.4L1784.2 414.4L1783.8 413.1L1780.3 412.4L1771.3 412.6L1764.3 413.5L1763.1 414.2L1763.5 415.1L1767 415.8ZM1776.8 407.9L1783.1 407.1L1783.8 405.8L1782.8 404.7L1778.5 404.3L1769.5 404.8L1763.5 405.8L1762.6 406.6L1763.3 407.4L1767.3 408ZM1776.6 399.8L1782.4 398.8L1783 397.6L1782.1 396.5L1777.7 396.2L1768.2 396.9L1762.5 398L1761.8 398.9L1762.6 399.6L1767.2 400.1ZM1775.8 391.7L1781.4 390.6L1781.9 389.3L1780.7 388.3L1775.9 388.1L1766.8 389.1L1761.3 390.3L1760.7 391.2L1761.6 391.9L1765.8 392.2ZM1776.9 383.4L1779.5 382.8L1780.5 382L1780.2 380.7L1778.6 380.1L1772.4 380.3L1763 381.7L1759.4 383L1759.6 383.9L1760.9 384.3L1767.5 384.3ZM1774.6 375.5L1777.4 374.9L1778.7 374.2L1778.5 372.7L1777 372.1L1771.6 372.3L1761.9 373.9L1757.8 375.3L1757.8 376.2L1759 376.6L1764.4 376.6ZM1774.3 367.3L1776.2 366.6L1776.8 365.6L1776.2 364.5L1774.3 364.1L1766.8 364.9L1758 366.7L1755.6 368.1L1756.1 368.8L1757.8 369.1L1765.7 368.6ZM1771.3 359.6L1773.6 358.9L1774.5 358L1774 356.8L1772.4 356.3L1766.1 356.9L1756.4 359L1753.4 360.5L1753.8 361.3L1755.2 361.6L1762 361.1ZM1770 351.5L1771.5 350.7L1771.8 349.7L1770.9 348.7L1769.1 348.6L1761.8 349.6L1752.8 351.9L1751.2 352.7L1750.9 353.4L1751.7 354L1753.5 354.1L1762.7 353ZM1766.4 344L1768.2 343.3L1768.8 342.3L1768.1 341.2L1766.3 340.9L1759.8 341.9L1750.7 344.3L1748.2 345.9L1748.7 346.6L1750.4 346.8L1757.9 345.8ZM1763 336.6L1765 335.7L1765.5 334.8L1764.8 333.7L1763.1 333.5L1756.8 334.5L1747.5 337.2L1745.3 338.8L1746 339.4L1747.7 339.5ZM1760.7 328.7L1761.8 327.8L1761.7 326.8L1760.6 326.2L1758.9 326.2L1751.1 327.9L1743.4 330.5L1742.4 331.3L1742.5 332.1L1745.1 332.3L1754.9 330.4ZM1756.8 321.4L1757.9 320.5L1757.7 319.6L1756.8 319L1754.9 319L1747.6 320.8L1740.3 323.4L1739.2 324.3L1739.1 325L1741.8 325.3L1751 323.3ZM1752.8 314.3L1753.7 313.4L1753.4 312.5L1752.4 312L1750.5 312L1743.2 314L1736.6 316.7L1735.6 317.5L1735.7 318.1L1738.3 318.3L1747.2 316.2ZM1747.4 307.8L1748.8 306.9L1749.1 306L1748.1 305.2L1746.5 305.1L1740.9 306.6L1733.6 309.5L1732.2 310.4L1732 311.1L1734.2 311.5L1741.2 309.9ZM1743 300.8L1744.2 299.9L1744.1 299.1L1743 298.5L1741.4 298.6L1736 300.2L1729.3 303.1L1728.3 303.9L1728.2 304.6L1730.4 304.8L1737.8 302.8ZM1737.8 294.4L1738.9 293.5L1738.9 292.7L1737.9 292.1L1736.3 292.2L1731.2 293.8L1725.5 296.4L1724.3 297.4L1724.3 298L1726.3 298.2L1732.9 296.3ZM1732.5 288L1733.4 287.2L1733.3 286.4L1732.4 286L1730.9 286L1726.5 287.5L1721.2 290.1L1720.2 291.5L1722.2 291.7L1728.2 289.9ZM1727.3 281.5L1727.7 280.8L1727.2 280.2L1724.8 280.2L1720.4 281.9L1716.5 284.2L1716 284.9L1716.2 285.3L1718.4 285.2L1724 283.3ZM1720.4 276.3L1721.4 274.9L1720.7 274.5L1719.4 274.5L1716.1 275.7L1712.5 277.7L1711.8 278.8L1713.3 279.1ZM1714.1 270.7L1714.8 269.5L1713.3 269.2L1710.4 270.2L1708.3 271.6L1707.5 272.7L1708.7 272.9ZM1707.2 265.3L1707.4 264.6L1706.5 264.5L1703.7 265.9L1703.6 266.5L1704.4 266.6Z"/>
<path fill="#0cf4eb" d="M1674.7 599.6L1676.6 601L1677.5 601.2L1677.7 600.8L1675.9 599.4L1674.9 599.2ZM1679.8 594.4L1681.1 595.9L1683.6 597.3L1685.4 597.7L1685.8 597L1682 594.5L1680.3 594ZM1685.1 589.4L1687.2 591.2L1690.5 593.1L1692.7 593.6L1693.3 593.3L1693.2 592.7L1691.4 591.2L1687.7 589.4L1685.6 588.8L1685.1 588.9ZM1690.4 584.1L1692.7 586.1L1696.9 588.4L1699.4 589.1L1700.5 588.4L1698.4 586.6L1694 584.4L1691.1 583.5L1690.5 583.6ZM1695.7 578.7L1698.4 581L1703.5 583.7L1706.3 584.3L1707.1 584L1707.3 583.4L1705.1 581.6L1699.6 579L1696.4 578.1L1695.7 578.2ZM1700.9 573.4L1704.4 575.9L1710.3 578.7L1713 579.1L1713.7 578.6L1713.6 577.9L1710.6 575.9L1704.2 573.2L1701.4 572.5L1700.8 572.8ZM1705.9 567.6L1709.1 569.9L1716 573.2L1719.1 573.7L1719.9 573.2L1719.9 572.5L1716.9 570.5L1709.9 567.6L1706.7 566.8L1705.9 567ZM1710.9 561.9L1714.9 564.5L1722.1 567.6L1725.1 568L1726 567.4L1725.9 566.7L1722.4 564.6L1714.4 561.5L1711.4 560.9L1710.7 561.3ZM1715.5 555.7L1719.4 558.2L1727.4 561.6L1730.6 562.1L1731.6 561.6L1731.7 560.8L1728.4 558.8L1720.1 555.7L1716.5 554.9L1715.6 555.1ZM1720.1 549.6L1724.2 552.1L1732.8 555.5L1736.1 556L1737 555.4L1737.2 554.6L1733.8 552.6L1724.8 549.5L1721 548.7L1720.1 549ZM1724.7 543.6L1730.1 546.4L1738.6 549.3L1741.6 549.5L1742.4 548.7L1742 547.8L1737.3 545.6L1728.2 542.8L1724.9 542.4L1724.4 542.8ZM1728.8 536.9L1733.5 539.5L1743.1 542.7L1746.4 542.9L1747.2 542.2L1747.1 541.3L1743.1 539.4L1733.1 536.4L1729.5 535.9L1728.7 536.3ZM1732.9 530.5L1738 532.9L1747.8 536L1751.1 536.1L1751.8 535.2L1751.5 534.3L1747 532.4L1736.9 529.7L1733.4 529.3L1732.7 529.7ZM1736.8 523.8L1742.2 526.2L1752.2 529.1L1755.4 529.1L1756.2 528.2L1755.9 527.4L1751.6 525.5L1740.7 522.8L1737.1 522.5L1736.5 523ZM1740.6 517.1L1747.3 519.7L1756.7 522.1L1759.6 521.8L1760.2 520.8L1759.6 519.9L1754.2 518.1L1743.8 515.8L1740.4 515.7L1740 516.3ZM1743.8 510L1749.7 512.3L1760.2 514.8L1763.3 514.5L1763.9 513.5L1763.3 512.6L1758.2 510.9L1747.4 508.7L1744 508.7L1743.4 509.2ZM1747 502.8L1752.9 505L1763.3 507.3L1766.6 507.2L1767.3 506.2L1766.9 505.3L1762 503.6L1750.7 501.5L1747.1 501.5L1746.5 502.1ZM1750.6 496.1L1759.1 498.4L1767.6 499.9L1769.4 499.7L1770.2 499.1L1770.3 497.9L1769.2 497.2L1762.8 495.6L1752.4 494.1L1749.6 494.6L1749.6 495.3ZM1753.2 488.7L1761.2 490.8L1770.2 492.2L1771.9 492.1L1773 491.5L1773.2 490.4L1772.2 489.5L1766 488.1L1755.1 486.7L1752.2 487.2L1752.2 487.9ZM1755.7 481.2L1764 483.2L1773 484.4L1774.6 484.2L1775.5 483.5L1775.6 482.4L1774.4 481.6L1768.1 480.3L1757.5 479.2L1754.6 479.8L1754.6 480.5ZM1758.1 473.8L1766.4 475.6L1775 476.5L1776.8 476.3L1777.7 475.6L1777.7 474.5L1776.5 473.7L1769.9 472.5L1759.6 471.7L1756.8 472.3L1756.8 473ZM1760.2 466.3L1768.8 467.8L1777.2 468.6L1778.9 468.3L1779.7 467.3L1779.5 466.3L1778 465.6L1771.3 464.6L1761 464L1758.5 464.9L1758.9 465.7ZM1761.8 458.6L1770.5 460L1778.5 460.6L1780.4 460.2L1781.2 459.4L1781 458.3L1779.5 457.5L1772.2 456.6L1762.5 456.3L1760.8 456.6L1760.1 457.2L1760.4 457.9ZM1765.7 451.4L1775.4 452.4L1781.1 452.3L1782.4 451.5L1782.3 450.2L1781 449.5L1778.1 449L1768.6 448.5L1762.8 448.7L1761.5 449.2L1761.5 450.1ZM1765.8 443.4L1775.5 444.3L1781.5 444.3L1783.1 443.6L1783.4 442.3L1782.5 441.5L1779.9 441L1770.6 440.6L1764 440.8L1762.5 441.4L1762.4 442.3ZM1768.4 435.7L1778.1 436.3L1782.9 435.9L1784 434.9L1783.6 433.6L1778.5 432.7L1769.2 432.6L1764.1 433.1L1763 433.8L1763.3 434.7ZM1770.5 427.9L1779.2 428.1L1783.5 427.6L1784.4 426.4L1783.5 425.2L1777.1 424.5L1767.6 424.8L1763.7 425.5L1763.2 426.4L1764.2 427.1ZM1774.9 420L1783.1 419.6L1784.3 418.7L1784.2 417.5L1783.2 416.9L1781.1 416.5L1772.6 416.6L1764.9 417.3L1763.5 417.9L1763.3 418.7L1766.2 419.7ZM1776.6 412L1783.2 411.2L1784.1 410.1L1783.2 408.8L1779.1 408.3L1770.3 408.7L1763.8 409.7L1762.9 410.5L1763.5 411.3L1767.8 411.9ZM1777 403.8L1782.8 402.9L1783.4 401.6L1782.4 400.5L1777.6 400.2L1768.7 400.9L1763 401.9L1762.2 402.7L1763 403.5L1767.5 404ZM1776.4 395.8L1781.9 394.7L1782.5 393.5L1781.4 392.4L1776.5 392.2L1767.2 393L1762 394.2L1761.3 395L1762.2 395.8L1766.5 396.2ZM1775.2 387.7L1780.7 386.6L1781.2 385.3L1780.2 384.3L1775.6 384.1L1766.1 385.2L1760.6 386.5L1760.1 387.4L1761 388L1765.8 388.3ZM1775.7 379.5L1779.5 378.3L1779.5 376.9L1778.1 376.1L1772.5 376.3L1762.6 377.8L1758.7 379.1L1758.7 380L1760.2 380.5L1766.4 380.4ZM1773.6 371.6L1776.5 370.9L1777.7 370.1L1777.5 368.6L1775.9 368.1L1769.8 368.5L1760.8 370.1L1756.8 371.5L1756.8 372.3L1758.1 372.8L1764 372.7ZM1772.7 363.5L1774.8 362.8L1775.7 361.9L1775.2 360.6L1773.4 360.2L1766.9 360.9L1757.3 362.8L1755.2 363.6L1754.5 364.4L1755.1 365.1L1756.7 365.3L1763.4 364.9ZM1769.9 355.8L1772.2 355L1773.2 354.2L1772.8 352.9L1771 352.4L1764.6 353.1L1755.3 355.2L1752.2 356.7L1752.5 357.5L1754 357.9L1760.5 357.3ZM1768.1 347.8L1769.9 347L1770.4 346.1L1769.7 345L1767.9 344.7L1761.3 345.7L1752 348L1750.1 348.9L1749.6 349.7L1750.2 350.3L1751.8 350.5L1759.7 349.5ZM1764.9 340.2L1766.8 339.4L1767.2 338.5L1766.4 337.4L1764.5 337.2L1758.4 338.2L1749.2 340.8L1747.4 341.6L1746.8 342.4L1747.3 343L1748.9 343.2L1756.1 342.2ZM1761.3 332.8L1763.3 331.9L1763.8 331.1L1762.9 330L1761.2 329.8L1755.1 330.9L1746.3 333.5L1743.8 335.2L1744.4 335.8L1746.1 335.9ZM1758.7 325.1L1759.9 324.2L1759.7 323.2L1758.8 322.6L1756.9 322.6L1749.4 324.3L1742 326.9L1740.8 327.8L1740.7 328.4L1743.3 328.8L1752.7 326.9ZM1754.6 317.9L1755.8 317.1L1755.7 316.1L1754.6 315.5L1752.7 315.5L1745.7 317.3L1738.6 320L1737.4 320.9L1737.4 321.5L1739.9 321.8L1748.7 319.9ZM1750.6 310.7L1751.4 309.9L1751 308.9L1748.3 308.6L1741.2 310.6L1734.7 313.3L1733.9 313.9L1733.9 314.7L1736.6 314.9L1745.3 312.7ZM1745.4 304.2L1746.6 303.4L1746.6 302.5L1745.7 301.9L1743.9 301.9L1738.3 303.4L1731.6 306.2L1730.4 307L1730.1 307.8L1732.3 308.1L1739.9 306.2ZM1740.9 297.3L1741.7 296.4L1741.3 295.7L1740.3 295.3L1738.6 295.4L1732.8 297.3L1727 300L1726.2 300.8L1726.4 301.3L1728.9 301.4L1736.3 299.2ZM1735.5 291L1736.3 290.2L1736 289.4L1733.4 289.1L1728.3 290.9L1723 293.5L1722.2 294.3L1722.4 294.9L1724.7 294.9L1731.3 292.8ZM1729.4 285.1L1730.4 284.4L1730.6 283.6L1729.6 283L1728.1 283.1L1724.2 284.3L1719.1 287L1718.1 288.3L1720 288.5ZM1724.1 278.8L1724.6 278.1L1724.3 277.5L1722.2 277.3L1718.4 278.7L1714.4 281L1714 282.1L1716 282.1L1720.7 280.5ZM1717.5 273.3L1718.1 272.1L1716.4 271.8L1713.3 272.9L1710.3 274.7L1709.7 275.9L1711.2 275.9ZM1710.8 267.9L1711.2 267L1709.8 266.8L1705.9 268.8L1705.5 269.6L1706.6 269.7ZM1702.7 263.1L1703 262.7L1702.1 262.9L1702 263.2Z"/>
<path fill="#ffde00" d="M1690.8 588.3L1693.4 590.1L1694.6 590.2L1694.8 589.6L1692.1 588L1691 587.9ZM1695.7 582.8L1697.4 584.3L1699.9 585.5L1701.8 585.8L1702.2 585.1L1698.2 582.7L1696.2 582.3ZM1700.7 577.1L1702.8 578.9L1706.3 580.6L1708.5 581L1709.1 580.2L1707.2 578.7L1703.9 577.2L1701.6 576.6ZM1705.8 571.6L1708.5 573.6L1712.7 575.5L1715.1 575.8L1715.7 575.3L1715.5 574.7L1713.1 573.1L1708.7 571.3L1706.2 570.8L1705.7 571.1ZM1710.8 565.9L1714.3 568.1L1718.9 570.1L1721.3 570.3L1721.9 569.8L1721.7 569.1L1718.6 567.3L1713.5 565.3L1711 565L1710.6 565.3ZM1715.4 559.7L1718.5 561.8L1724.1 564.2L1726.8 564.6L1727.7 564.2L1727.8 563.5L1725.4 561.9L1719.3 559.6L1716.2 558.9L1715.4 559.2ZM1720.3 553.9L1724.9 556.5L1730.4 558.5L1733 558.4L1733.5 557.8L1733.1 557L1729.3 555.1L1723 553.1L1720.4 552.8L1719.9 553.2ZM1724.7 547.5L1729.1 549.9L1735.4 552.2L1738.1 552.3L1738.8 551.7L1738.5 550.8L1734.5 548.8L1727.8 546.8L1724.8 546.5L1724.4 546.9ZM1729 541.1L1733.6 543.5L1740.4 545.8L1743.2 545.8L1743.9 545L1743.6 544.3L1739.5 542.4L1732 540.2L1729.2 540L1728.7 540.4ZM1732.9 534.4L1737 536.5L1744.8 539.1L1747.8 539.2L1748.6 538.6L1748.5 537.7L1744.8 535.9L1736.9 533.7L1733.5 533.3L1732.8 533.7ZM1737.1 527.9L1742.5 530.3L1750 532.4L1752.7 532.2L1753.2 531.4L1752.7 530.5L1747.9 528.6L1739.9 526.7L1737 526.7L1736.6 527.1ZM1740.9 521.1L1746.8 523.5L1754.2 525.4L1756.9 525.1L1757.3 524.2L1756.7 523.3L1751.7 521.6L1743.6 519.8L1740.7 519.8L1740.3 520.5ZM1744.4 514.2L1750.2 516.3L1757.9 518.2L1760.8 517.9L1761.2 516.9L1760.6 516.1L1755.7 514.5L1747.1 512.7L1744.1 512.9L1743.8 513.4ZM1747.5 506.9L1753.2 509L1761.6 510.9L1764.3 510.5L1764.8 509.6L1764.1 508.7L1759 507.1L1750.6 505.6L1747.5 505.6L1747 506.2ZM1750.7 499.8L1756.5 501.8L1765 503.4L1767.7 503L1768.1 502L1767.5 501.2L1762.6 499.7L1753.4 498.3L1750.4 498.5L1750 499.1ZM1754.2 492.9L1762.1 494.9L1768.6 495.9L1770.2 495.6L1770.9 494.9L1770.9 494L1769.7 493.2L1763.8 491.9L1755.2 490.8L1753.5 491L1752.8 491.5L1753 492.1ZM1756.4 485.3L1763.4 487.1L1771.1 488.1L1772.6 488L1773.5 487.4L1773.6 486.3L1772.6 485.6L1767.2 484.3L1758.2 483.4L1755.5 483.9L1755.4 484.5ZM1758.6 477.6L1765 479.3L1773.2 480.3L1775.7 479.7L1776 478.6L1775.2 477.8L1769.6 476.6L1760.6 475.8L1757.8 476.3L1757.7 477ZM1761.5 470.4L1769.9 472L1775.9 472.4L1777.3 472L1778 471.1L1777.7 470.2L1776.2 469.5L1770.3 468.6L1761.8 468.2L1760.3 468.4L1759.6 469L1760 469.7ZM1763 462.6L1771.1 464L1777.5 464.4L1779 464.1L1779.7 463.1L1779.4 462.2L1777.9 461.5L1771.4 460.7L1763.6 460.4L1762 460.7L1761.3 461.3L1761.8 462.1ZM1765.7 455.1L1773.8 456.2L1779.2 456.3L1780.7 455.8L1781.1 454.6L1780.3 453.8L1778.2 453.3L1770.9 452.6L1764.2 452.7L1762.9 453.3L1762.9 454ZM1766.1 447.1L1774 448.1L1780.1 448.3L1781.7 447.8L1782.2 446.8L1781.8 445.9L1780 445.3L1773.7 444.7L1765.8 444.9L1764.2 445.3L1763.8 446ZM1767.9 439.4L1776.1 440.2L1781.5 440L1782.8 439.3L1782.8 438.1L1779.7 437L1771.6 436.7L1766.2 437.1L1764.9 437.6L1764.7 438.3ZM1772.5 431.9L1780 432.1L1783.1 431.4L1783.4 430.2L1782.6 429.3L1776 428.7L1768 429L1765.3 429.7L1765.2 430.5L1766.3 431.1ZM1772.5 423.9L1780 423.9L1783.2 423.2L1783.6 422L1782.7 421.1L1776.4 420.6L1768.5 421L1765.4 421.9L1765.3 422.6L1766.4 423.2ZM1774.8 415.9L1782.1 415.4L1783.2 414.9L1783.4 413.8L1782.7 413L1781 412.6L1773.7 412.6L1766.9 413.3L1765.4 413.9L1765.1 414.6L1767.5 415.6ZM1775.6 407.9L1782 407.1L1782.9 406.3L1782.6 405.1L1779.7 404.4L1772 404.7L1765.9 405.6L1764.7 406.3L1764.9 407L1768.1 407.8ZM1775.6 399.8L1781.5 398.9L1782.2 397.8L1781.5 396.7L1777.7 396.3L1770.4 396.8L1764.7 397.9L1763.8 398.6L1764.2 399.3L1767.7 399.9ZM1775.1 391.7L1780.6 390.6L1781.1 389.4L1780.2 388.5L1776.2 388.2L1768.7 389L1763.5 390.1L1762.7 390.8L1763.4 391.6L1767 392ZM1776.2 383.4L1779.5 382.2L1779.5 381L1778.3 380.3L1773.1 380.3L1764.9 381.5L1761.4 382.9L1761.5 383.6L1762.8 384.1L1768.4 384.1ZM1774.1 375.5L1777.8 374.2L1777.8 373L1776.6 372.3L1772 372.4L1763.6 373.7L1759.8 375L1759.7 375.8L1760.8 376.3L1766 376.4ZM1772.1 367.6L1775.8 366.3L1775.8 365.1L1774.4 364.3L1769.1 364.6L1761.6 366L1757.8 367.5L1757.7 368.2L1758.8 368.7L1763.4 368.7ZM1771.1 359.5L1772.9 358.9L1773.6 358L1773.1 356.9L1771.5 356.5L1766.1 357L1758 358.8L1755.4 360.2L1755.7 360.9L1757.1 361.2L1763.2 360.8ZM1768.3 351.8L1770.3 351.1L1771 350.3L1770.5 349.2L1768.9 348.8L1763.6 349.4L1755.9 351.2L1753 352.6L1753.1 353.4L1754.6 353.7L1760.6 353.2ZM1765.2 344.3L1767.2 343.5L1768 342.7L1767.5 341.6L1766.1 341.2L1760.8 341.8L1752.9 343.9L1750.3 345.4L1750.6 346.1L1752.1 346.3ZM1762 336.7L1764.1 335.9L1764.7 335.1L1764.1 334L1762.6 333.7L1757.5 334.4L1749.9 336.6L1747.4 338.2L1747.8 338.8L1749.1 339L1754.7 338.4ZM1760 328.8L1760.9 328L1760.8 327L1759.8 326.5L1758.1 326.4L1751.9 327.8L1745.6 330L1744.6 330.7L1744.4 331.4L1746.9 331.8L1755.3 330.2ZM1754.9 322L1756.6 321.1L1757 320.4L1756.3 319.4L1754.7 319.2L1749.8 320.2L1743.2 322.5L1741.1 324.1L1741.7 324.6L1743 324.7ZM1751.1 314.8L1752.5 313.9L1752.7 313.2L1751.9 312.4L1750.4 312.3L1745.7 313.3L1739.4 315.7L1737.7 317.2L1739.7 317.7L1745.8 316.5ZM1747.2 307.6L1748 306.9L1747.9 306L1745.5 305.5L1740.5 306.9L1734.9 309.3L1734.2 310L1734.3 310.6L1736.4 310.8L1743.2 309.1ZM1742.2 300.9L1743.1 300.1L1743 299.5L1742.2 299L1740.9 298.9L1736.8 300L1731.5 302.3L1730.4 303.7L1732.3 304L1738.1 302.6ZM1737.2 294.4L1737.8 293.7L1737.7 293L1735.5 292.6L1731.5 293.8L1727.4 295.9L1726.6 297.1L1728.7 297.3L1733.7 295.9ZM1731.4 288.2L1732.2 287L1730.4 286.5L1727 287.5L1723.4 289.4L1722.6 290.5L1724.3 290.7ZM1725.1 282.4L1726.2 281.3L1724.9 280.7L1722.2 281.4L1719.7 282.7L1718.6 283.9L1719.5 284.3ZM1718.8 276.7L1719.5 275.9L1718.8 275.4L1715.5 276.5L1714.7 277.4L1715.3 277.8Z"/>
<path fill="#00ccff" d="M1688.5 591.2L1690.2 592.1L1690.8 592.1L1690.8 591.7L1689.2 590.8L1688.6 590.8ZM1693.3 585.6L1694.8 586.9L1696.8 587.9L1698.4 588.1L1698.6 587.4L1695 585.3L1693.6 585.1ZM1698.3 580.1L1700.4 581.8L1703.1 583.1L1705.1 583.5L1705.8 582.8L1704.3 581.5L1701.1 580L1698.8 579.4L1698.3 579.6ZM1703.4 574.5L1706.2 576.6L1709.6 578.2L1711.8 578.5L1712.4 578.1L1712.3 577.5L1710 575.9L1706 574.2L1703.7 573.7L1703.3 574ZM1708.3 568.7L1711.1 570.7L1715.7 572.8L1718 573.1L1718.7 572.8L1718.8 572.1L1716.3 570.4L1711.4 568.4L1708.8 567.9L1708.2 568.2ZM1713 562.6L1715.9 564.7L1721.5 567.2L1724.1 567.5L1724.9 567L1724.7 566.3L1721.9 564.6L1716.5 562.5L1713.8 561.9L1713.1 562.1ZM1717.8 556.7L1721.6 559.1L1727.4 561.4L1730 561.6L1730.7 561L1730.5 560.3L1727.1 558.4L1720.9 556.2L1718.2 555.9L1717.7 556.2ZM1722.5 550.7L1726.6 553L1732.8 555.3L1735.4 555.5L1736.2 554.8L1736 554.1L1732.5 552.2L1725.5 550L1722.6 549.6L1722.2 550.1ZM1726.9 544.4L1731.4 546.7L1737.9 549L1740.8 549L1741.4 548.3L1741 547.5L1737.2 545.7L1729.9 543.5L1727 543.3L1726.5 543.7ZM1731.3 538L1736.3 540.4L1743.1 542.5L1745.9 542.4L1746.3 541.6L1745.7 540.7L1741.3 538.9L1733.7 536.8L1731.1 536.8L1730.7 537.3ZM1735.1 531.2L1739.9 533.5L1747.4 535.8L1750.1 535.8L1750.9 535L1750.7 534.2L1746.9 532.5L1738.5 530.2L1735.2 530L1734.7 530.4ZM1738.8 524.3L1743.3 526.4L1751.4 528.8L1754.6 528.8L1755.3 528L1755 527.2L1750.9 525.4L1742.3 523.4L1739.1 523.2L1738.5 523.7ZM1742.4 517.4L1747.8 519.7L1755.9 521.8L1758.7 521.6L1759.3 520.7L1759 520L1754.6 518.2L1745.9 516.4L1742.6 516.3L1742.1 516.8ZM1746 510.6L1751.7 512.7L1759.8 514.6L1762.5 514.3L1763 513.3L1762.5 512.5L1758 510.9L1748.8 509.2L1745.8 509.3L1745.4 509.8ZM1749.3 503.5L1755.2 505.5L1763.3 507.2L1765.2 507.1L1766.1 506.7L1766.4 505.6L1765.6 504.8L1760.5 503.3L1751.5 501.9L1748.8 502.2L1748.6 502.8ZM1752 496.1L1757.7 498L1766.2 499.6L1769 499.3L1769.6 498.4L1769.1 497.5L1764 495.9L1754.9 494.6L1751.8 494.8L1751.4 495.4ZM1755.2 489L1762.4 490.9L1769.7 492L1772.1 491.3L1772.3 490.2L1771.4 489.5L1766 488.2L1756.9 487.1L1754.2 487.6L1754.1 488.2ZM1757.4 481.4L1764.3 483.2L1771.9 484.2L1773.7 484.1L1774.6 483.5L1774.8 482.5L1773.8 481.7L1768.6 480.5L1759.5 479.6L1756.7 480L1756.5 480.7ZM1761 474.3L1769.1 475.9L1774.8 476.4L1776.5 476L1777 474.9L1776.5 474.1L1774.8 473.4L1767.8 472.4L1760.5 472L1759 472.4L1758.6 473.1ZM1762.2 466.5L1770.3 468L1776.5 468.4L1778.1 468.1L1778.8 467.3L1778.6 466.3L1777.3 465.6L1770.9 464.6L1762.8 464.3L1761.2 464.6L1760.5 465.2L1760.9 465.9ZM1763.6 458.7L1771.5 460L1778.1 460.4L1779.7 460.1L1780.4 459.4L1780.2 458.3L1779 457.6L1773 456.8L1764.4 456.5L1762.1 457.4L1762.3 458ZM1765.8 451.1L1774.2 452.2L1779.9 452.3L1781.3 451.8L1781.7 450.6L1781.1 449.9L1779.3 449.3L1772.2 448.7L1765.3 448.8L1763.7 449.2L1763.3 449.9ZM1768 443.5L1776.2 444.2L1781.1 444.1L1782.4 443.4L1782.4 442.1L1778.9 441L1770.6 440.7L1765.4 441.1L1764.3 441.7L1764.6 442.5ZM1769.9 435.7L1777.9 436.2L1782.3 435.8L1783.2 434.9L1782.8 433.6L1778.3 432.8L1769.6 432.8L1765.7 433.3L1764.9 434L1765.4 434.8ZM1770.7 427.8L1778.5 428.1L1782.6 427.6L1783.5 426.7L1783.1 425.4L1778.1 424.6L1770 424.8L1766 425.4L1765.2 426.2L1765.7 426.9ZM1773.7 419.9L1781.2 419.7L1782.9 419.3L1783.5 418.6L1783.4 417.5L1782.1 416.9L1775.1 416.6L1767.7 417.1L1765.2 418.2L1765.6 418.9L1766.8 419.4ZM1775.4 411.9L1782.1 411.3L1783.1 410.6L1783 409.4L1780.2 408.5L1772.8 408.6L1766.2 409.5L1765.1 410.1L1765 410.8L1767.7 411.7ZM1775.8 403.8L1781.8 403L1782.6 402L1782 400.8L1778.6 400.3L1771.1 400.7L1765.1 401.8L1764.3 402.5L1764.7 403.2L1768.4 403.9ZM1775.4 395.8L1781.1 394.7L1781.7 393.7L1780.9 392.6L1776.9 392.2L1769.6 392.9L1764.1 394L1763.3 394.7L1763.9 395.5L1767.9 396ZM1774.7 387.7L1780 386.6L1780.4 385.3L1779.4 384.4L1775.5 384.2L1767.8 385.1L1762.9 386.2L1762.1 387L1762.7 387.7L1766.2 388.1ZM1775.2 379.5L1777.5 378.9L1778.8 378.1L1778.7 376.9L1777.3 376.3L1772 376.4L1764.3 377.6L1760.7 378.9L1760.7 379.8L1762 380.2L1767.2 380.2ZM1773.1 371.6L1775.7 370.9L1776.9 370.2L1776.8 369L1775.6 368.3L1770.1 368.5L1762.4 369.9L1758.8 371.2L1758.8 372L1760.1 372.6L1765.4 372.4ZM1772.7 363.3L1774.3 362.7L1774.9 361.8L1774.3 360.8L1772.8 360.4L1767.2 360.9L1758.8 362.7L1757 363.4L1756.5 364.1L1757 364.7L1758.7 365L1766.2 364.4ZM1769.6 355.7L1771.5 355L1772.3 354.2L1771.9 353.1L1770.4 352.6L1764.9 353.2L1756.8 355L1754.2 356.5L1754.5 357.2L1755.9 357.5L1761.6 357ZM1766.9 348L1768.9 347.2L1769.5 346.4L1769 345.3L1767.4 344.9L1762.1 345.6L1754.2 347.6L1751.6 349.1L1752 349.7L1753.5 350ZM1763.6 340.5L1765.7 339.7L1766.4 338.9L1765.8 337.8L1764.3 337.4L1759.2 338.1L1751.6 340.2L1748.9 341.7L1749.1 342.4L1750.6 342.7L1756.5 342ZM1761.7 332.5L1762.8 331.7L1762.7 330.7L1761.7 330.1L1760 330.1L1754.1 331.2L1747.1 333.6L1746 334.3L1745.9 334.9L1748.3 335.4L1756.3 334ZM1758.1 325.1L1759 324.3L1758.8 323.4L1757.8 322.8L1756.1 322.8L1750.1 324.2L1743.8 326.5L1742.9 327.2L1742.9 327.9L1745.5 328.2L1753 326.7ZM1753.1 318.3L1754.6 317.5L1754.9 316.7L1754.1 315.9L1752.6 315.7L1747.9 316.7L1741.2 319.1L1739.4 320.7L1740 321.1L1741.4 321.2L1747.7 320ZM1749.2 311.2L1750.2 310.5L1750.4 309.6L1749.6 309L1748.1 308.9L1743.2 310L1737.3 312.4L1735.9 313.8L1738 314.2L1744.7 312.7ZM1744.3 304.5L1745.5 303.6L1745.6 302.9L1744.9 302.3L1743.4 302.2L1738.7 303.4L1733.4 305.7L1732.3 307.1L1734.2 307.4L1739.9 306.1ZM1739.2 297.9L1740.4 297.1L1740.5 296.5L1739.8 295.8L1738.6 295.7L1734.4 296.8L1729.8 298.9L1728.5 300.3L1730 300.7L1734.9 299.6ZM1734.2 291.3L1735 290.7L1735 290L1732.8 289.6L1729.4 290.6L1725.4 292.7L1724.6 293.8L1726.3 294L1731 292.8ZM1728.7 285L1729.1 283.9L1727.3 283.6L1724.4 284.5L1721.3 286.2L1720.7 287.3L1722.3 287.5L1725.9 286.4ZM1722.5 279.2L1722.9 278.3L1721.4 278L1717.2 280L1716.7 280.8L1717.8 281ZM1715.5 273.7L1715.8 273.2L1715.3 272.9L1713.3 273.7L1713 274.3L1713.3 274.4Z"/>
<path fill="#ffb900" d="M1703.2 578.2L1705.7 580L1707.1 580.2L1707.5 579.7L1705.2 578.2L1703.8 577.9ZM1708 572.6L1710 574.1L1712.5 575.1L1714.1 575.1L1714.2 574.2L1710 572.2L1708.2 571.9ZM1712.8 566.7L1715.2 568.3L1718.2 569.6L1720.2 569.8L1720.7 569L1718.8 567.6L1715.2 566.2L1713.1 565.9L1712.7 566.2ZM1717.5 560.7L1720.5 562.6L1724.2 564L1726.4 564L1726.8 563.5L1726.6 563L1723.9 561.4L1719.8 560L1717.7 559.8L1717.3 560.1ZM1722.1 554.5L1725.3 556.4L1729.7 558.1L1732 558.1L1732.5 557.5L1732.2 556.9L1729.3 555.3L1724.6 553.8L1722.2 553.6L1721.8 553.9ZM1726.6 548.3L1730.3 550.3L1735 551.9L1737.5 551.8L1737.9 551.2L1737.5 550.5L1734 548.8L1728.9 547.3L1726.5 547.2L1726.2 547.6ZM1730.8 541.7L1734.6 543.7L1740 545.5L1742.4 545.5L1743 544.9L1742.8 544.2L1739.5 542.5L1733.7 540.9L1730.9 540.6L1730.4 541.1ZM1734.8 535L1739 537.1L1744.8 538.9L1747.3 538.8L1747.8 538.1L1747.6 537.4L1744.2 535.8L1737.7 534.1L1734.9 534L1734.5 534.5ZM1739 528.5L1744.1 530.7L1749.6 532.2L1752 531.8L1752.3 531L1751.7 530.2L1747.3 528.6L1740.9 527.2L1738.5 527.3L1738.4 527.8ZM1742.4 521.4L1747.4 523.6L1753.5 525.1L1756.1 524.9L1756.6 524.1L1756.1 523.4L1752 521.7L1745.3 520.3L1742.5 520.3L1742 520.7ZM1745.9 514.4L1750.9 516.4L1757.5 518L1759.9 517.7L1760.4 517L1760.1 516.2L1756.1 514.6L1748.8 513.2L1745.9 513.2L1745.5 513.7ZM1749.2 507.3L1754.7 509.3L1761.2 510.7L1763.7 510.3L1764 509.4L1763.5 508.7L1759.4 507.3L1752 506L1749.1 506.1L1748.7 506.6ZM1752.4 500.2L1758.2 502.1L1764.6 503.3L1767 502.7L1767.3 501.8L1766.5 501L1761.8 499.6L1754.5 498.6L1752 498.9L1751.7 499.4ZM1755.3 492.9L1761.6 494.7L1767.7 495.7L1770.1 495L1770.2 494.1L1769.4 493.3L1764.9 492.1L1757.2 491.2L1754.7 491.6L1754.5 492.1ZM1758.6 485.7L1765.6 487.4L1770.6 488L1772.2 487.7L1772.9 486.9L1772.7 486L1771.5 485.4L1766.5 484.3L1759.1 483.7L1757 484.4L1757.3 485ZM1760.3 477.9L1766.5 479.4L1772.7 480.2L1774.3 480L1775.1 479.3L1775.2 478.4L1774.2 477.7L1769.4 476.6L1762 476.1L1759.4 476.6L1759.3 477.2ZM1763 470.5L1770.4 472L1775.3 472.2L1776.7 471.9L1777.3 470.9L1776.9 470.2L1775.5 469.5L1770 468.7L1763.4 468.4L1761.3 469.2L1761.7 469.9ZM1765.7 463L1772.4 464.1L1777.3 464.2L1778.7 463.7L1778.9 462.5L1778.1 461.8L1776.2 461.3L1769.2 460.6L1764.4 460.7L1763.3 461.1L1763 461.8ZM1766.2 455L1773.4 456.1L1778.5 456.2L1779.9 455.8L1780.4 454.9L1780 454L1778.7 453.5L1773.4 452.8L1766.4 452.8L1764.8 453.2L1764.4 453.8ZM1767.8 447.2L1775 448.1L1779.8 448.1L1781.1 447.6L1781.5 446.5L1780.9 445.8L1779.3 445.3L1773.3 444.8L1767.2 445L1766 445.4L1765.5 446.1ZM1772.5 439.8L1778.8 440.1L1781.9 439.5L1782.2 438.4L1781.4 437.6L1776.1 436.8L1769.5 436.9L1766.6 437.6L1766.3 438.3L1767.2 438.9ZM1772.3 431.8L1778.8 432L1782.1 431.4L1782.7 430.4L1782 429.4L1777.2 428.8L1770.4 428.9L1767.1 429.7L1766.8 430.4L1767.7 431ZM1775.6 423.9L1781.6 423.6L1782.7 422.9L1782.8 422L1782.2 421.3L1780.7 420.9L1774.4 420.7L1768.3 421.3L1767.1 421.9L1766.9 422.5L1769.3 423.5ZM1774.1 415.8L1780.2 415.6L1782.6 414.6L1782.6 413.5L1781.6 412.9L1775.4 412.6L1768.9 413.2L1766.8 414.2L1767.1 414.9L1768.3 415.4ZM1774.9 407.8L1781 407.2L1782.1 406.6L1782.2 405.5L1781.5 404.9L1779.7 404.5L1773.5 404.7L1767.9 405.4L1766.5 406L1766.3 406.7L1768.8 407.6ZM1774.9 399.7L1780.5 399L1781.4 398.2L1781.2 397.1L1778.6 396.4L1772.1 396.7L1766.6 397.7L1765.6 398.3L1765.7 399L1768.3 399.7ZM1774.4 391.7L1779.7 390.7L1780.4 389.8L1779.9 388.8L1776.8 388.3L1770.5 388.8L1765.3 389.9L1764.5 390.6L1764.7 391.3L1767.5 391.8ZM1775.4 383.4L1778.8 382.2L1778.8 381.1L1777.6 380.4L1773 380.4L1766.4 381.4L1763.2 382.6L1763.2 383.4L1764.1 383.8L1768.4 384ZM1773.6 375.5L1777.1 374.3L1777.1 373.2L1776 372.5L1771.4 372.5L1764.9 373.6L1761.5 374.9L1761.3 375.6L1762.3 376.1L1766.7 376.2ZM1771.6 367.6L1775.1 366.4L1775 365.1L1773.8 364.5L1769.5 364.7L1762.8 365.9L1759.5 367.2L1759.3 367.9L1760.3 368.4L1764.8 368.4ZM1769.4 359.8L1772.8 358.4L1772.7 357.3L1771.6 356.7L1767.2 356.9L1760.7 358.3L1757.3 359.6L1757.2 360.4L1758.2 360.9L1762.5 360.8ZM1768.2 351.7L1769.8 351L1770.2 350.3L1769.7 349.3L1768.4 348.9L1763.5 349.5L1756.6 351.2L1754.6 352.5L1754.9 353.1L1756.2 353.4L1762.3 352.9ZM1765.1 344.1L1766.7 343.4L1767.2 342.7L1766.7 341.7L1765.2 341.4L1760.3 342L1753.9 343.8L1751.9 345.2L1752.3 345.7L1753.6 346L1759.3 345.4ZM1762 336.6L1763.5 335.8L1763.9 335.1L1763.3 334.2L1761.8 333.9L1757.2 334.6L1751 336.5L1749.1 337.9L1749.5 338.4L1750.8 338.6L1756.6 337.9ZM1758.8 329.1L1760 328.3L1760.2 327.6L1759.4 326.8L1758 326.6L1753.7 327.4L1747.7 329.4L1746.1 330.7L1746.6 331.3L1748 331.4L1754.1 330.4ZM1754.3 322.1L1755.8 321.3L1756.2 320.5L1755.7 319.8L1754.3 319.5L1750 320.3L1744.7 322.2L1742.9 323.5L1743.2 324L1744.4 324.2L1749.4 323.4ZM1750.5 314.8L1751.6 314.2L1751.8 313.4L1751.2 312.7L1749.9 312.6L1745.9 313.4L1740.9 315.3L1739.5 316.7L1741 317.2L1746.2 316.2ZM1746 307.9L1747 307.2L1747.1 306.5L1745.3 305.8L1741.5 306.7L1737.1 308.6L1736 309.8L1737.7 310.2L1742.7 309.1ZM1741.2 301.2L1742 300.6L1742.1 299.9L1740.4 299.3L1736.9 300.2L1733.3 301.8L1732.4 303L1733.8 303.4L1738.2 302.4ZM1735.9 294.7L1736.7 293.6L1735.2 293.1L1732.1 293.8L1729.4 295.3L1728.7 296.3L1730 296.6ZM1730 288.5L1730.8 287.7L1729.9 287.1L1725.8 288.5L1724.9 289.4L1725.7 289.9ZM1723.8 282.4L1724.2 281.9L1723.6 281.7L1721.7 282.3L1721.4 282.9L1721.8 283.1Z"/>
<path fill="#00a4ff" d="M1700.9 581.1L1702.4 582.2L1703.8 582.2L1702.4 581.1ZM1705.6 575.4L1709.1 577.6L1710.8 577.7L1710.9 576.9L1707.5 575.1L1705.9 574.9ZM1710.6 569.8L1713.1 571.5L1715.7 572.5L1717.4 572.4L1717.3 571.5L1712.2 569.1L1710.5 569ZM1715.1 563.6L1717.6 565.4L1721.1 566.8L1723.2 567L1723.8 566.6L1723.7 566L1721.7 564.7L1717.8 563.2L1715.4 562.9ZM1719.6 557.3L1721.8 558.9L1726.5 560.9L1728.9 561.2L1729.7 560.3L1727.7 558.8L1723.3 557.2L1720.4 556.6L1719.7 556.8ZM1724.2 551.2L1727.4 553.2L1732.1 554.9L1734.6 555.1L1735.2 554.6L1735.2 554L1732.5 552.4L1727.4 550.7L1724.6 550.3L1724.1 550.7ZM1728.6 544.9L1732.3 546.9L1737.2 548.7L1739.8 548.8L1740.4 548.3L1740.4 547.5L1737.6 546L1731.6 544.2L1728.8 543.9L1728.4 544.4ZM1732.8 538.4L1736.8 540.4L1742.4 542.2L1744.9 542.2L1745.5 541.4L1745.1 540.7L1741.6 539.1L1735.5 537.5L1732.9 537.3L1732.5 537.8ZM1737 531.8L1741.6 533.9L1747.1 535.5L1749.6 535.4L1750.1 534.7L1749.8 533.9L1745.8 532.2L1739.3 530.7L1736.8 530.6L1736.5 531.2ZM1740.5 524.8L1744.4 526.7L1751.1 528.6L1753.8 528.5L1754.5 527.8L1754.2 527.1L1750.7 525.5L1743.9 523.9L1740.7 523.7L1740.2 524.1ZM1744.5 518.2L1749.8 520.2L1755.9 521.6L1758.3 521.1L1758.5 520.3L1757.8 519.6L1753.3 518L1746.5 516.7L1744 516.9L1743.8 517.5ZM1747.9 511.1L1753.1 513L1759.4 514.4L1761.9 514L1762.3 513.1L1761.6 512.3L1757.2 510.8L1749.9 509.5L1747.3 509.8L1747.1 510.4ZM1751 503.9L1756.8 505.8L1762.9 507L1765.4 506.5L1765.7 505.6L1764.9 504.8L1760.3 503.4L1752.9 502.3L1750.4 502.6L1750.3 503.3ZM1754.5 496.8L1761.1 498.7L1766.6 499.5L1768.1 499.2L1768.8 498.5L1768.6 497.6L1767.5 497L1763 495.8L1755.3 494.9L1753.1 495.5L1753.3 496.1ZM1756.4 489L1761.7 490.7L1768.7 491.8L1771.3 491.3L1771.6 490.3L1770.9 489.5L1766.1 488.3L1758.6 487.4L1756 487.8L1755.8 488.4ZM1759.3 481.8L1765.7 483.4L1771.9 484.1L1773.3 483.8L1774.1 483.1L1774 482.2L1772.9 481.5L1768.3 480.5L1760.4 479.9L1758.2 480.5L1758.4 481.2ZM1762.5 474.5L1769.6 475.9L1774.6 476.2L1775.9 475.7L1776.3 474.7L1775.7 473.9L1774.1 473.3L1767.6 472.4L1761.9 472.3L1760.7 472.6L1760.3 473.3ZM1763.7 466.6L1770.3 467.9L1775.9 468.3L1777.5 468L1778.1 467.1L1777.9 466.3L1776.6 465.6L1771.6 464.8L1764.3 464.5L1762.2 465.3L1762.5 466ZM1765.7 458.9L1772.9 460.1L1777.8 460.2L1779.3 459.7L1779.7 458.7L1779.1 457.9L1777.6 457.4L1771.5 456.8L1765.6 456.8L1764.2 457.1L1763.7 457.7L1764.3 458.4ZM1767.7 451.3L1774.7 452.2L1779.6 452.1L1780.8 451.4L1780.9 450.4L1778.3 449.3L1771.9 448.8L1766.2 449L1765.2 449.5L1765.1 450.3ZM1769.4 443.5L1776.4 444.2L1780.8 443.9L1781.8 443.2L1781.6 442L1778.5 441.1L1771.8 440.8L1766.9 441.2L1766 441.8L1766.2 442.5ZM1770.6 435.6L1777.6 436.1L1781.6 435.7L1782.5 434.8L1782.1 433.7L1778.5 432.9L1771.2 432.9L1767.3 433.4L1766.6 434L1767 434.8ZM1774.1 427.9L1780.4 427.8L1782.7 426.9L1782.7 425.8L1781.7 425.2L1775.9 424.7L1769.2 425.1L1767 426L1767.1 426.7L1768.2 427.2ZM1776.8 419.9L1782 419.3L1782.8 418.5L1782.5 417.4L1779.7 416.7L1773.1 416.8L1767.8 417.5L1767 418L1767.1 418.8L1770.1 419.6ZM1774.6 411.8L1780.9 411.4L1782.1 410.9L1782.5 409.9L1782.1 409.1L1780.8 408.7L1774.5 408.6L1768.1 409.4L1766.6 410.5L1768.6 411.5ZM1775.1 403.8L1780.8 403.1L1781.8 402.3L1781.7 401.3L1779.2 400.4L1772.8 400.7L1767.1 401.6L1766.1 402.2L1766 402.8L1768.3 403.6ZM1774.7 395.7L1780.1 394.9L1780.9 394.1L1780.6 392.9L1777.6 392.3L1771.3 392.8L1766.1 393.8L1765.1 394.3L1765.2 395.1L1767.6 395.8ZM1776.2 387.4L1779.5 386.3L1779.6 385.2L1778.5 384.5L1774.1 384.4L1767.4 385.3L1763.9 386.5L1763.9 387.3L1764.9 387.7L1769.5 387.9ZM1774.4 379.5L1777.9 378.3L1778.1 377.2L1777 376.5L1772.8 376.4L1765.8 377.5L1762.3 378.7L1762.2 379.4L1763.3 379.9L1767.2 380.1ZM1772.6 371.5L1776.2 370.2L1776.1 369.1L1775 368.5L1770.5 368.6L1763.6 369.8L1760.5 371L1760.4 371.7L1761.3 372.2L1765.5 372.3ZM1770.5 363.7L1774 362.4L1774 361.3L1772.9 360.6L1768.4 360.8L1761.7 362.1L1758.4 363.4L1758.3 364.2L1759.4 364.6L1764 364.6ZM1769.5 355.6L1771.2 354.9L1771.6 354L1771 353.1L1769.5 352.8L1764.7 353.3L1758 354.9L1755.8 356.3L1756.3 356.9L1757.5 357.1L1763.4 356.7ZM1766.6 347.9L1768.2 347.3L1768.8 346.5L1768.3 345.6L1766.9 345.1L1761.8 345.7L1755.4 347.4L1753.3 348.8L1753.6 349.4L1754.8 349.7L1760.6 349.2ZM1763.6 340.3L1765.1 339.6L1765.6 338.9L1765.1 338L1763.5 337.6L1758.8 338.3L1752.6 340.1L1750.5 341.5L1750.9 342L1752.1 342.3L1757.5 341.7ZM1760.5 332.8L1761.8 332.1L1762.1 331.3L1761.3 330.5L1759.9 330.3L1755.5 331L1749.3 333L1747.6 334.4L1749.4 335L1755.6 334.1ZM1757.1 325.3L1758.1 324.7L1758.2 323.8L1757.4 323.2L1756 323.1L1751.3 324L1745.7 326L1744.5 327.3L1746.5 327.8L1752.9 326.6ZM1752.4 318.5L1753.7 317.8L1754.1 317L1753.5 316.3L1752.1 316L1747.9 316.8L1742.9 318.7L1741.2 320L1741.6 320.5L1742.7 320.7L1747.6 319.9ZM1747.8 311.6L1749.6 310.1L1749 309.4L1747.9 309.2L1744.1 309.9L1739.2 311.8L1737.8 313.2L1739.3 313.7ZM1743.3 304.7L1744.7 303.4L1744.2 302.7L1743.1 302.5L1739.6 303.3L1735.8 304.9L1734.2 306.2L1735.5 306.8ZM1738.6 297.9L1739.4 296.7L1737.8 296.2L1734.7 296.9L1731.4 298.5L1730.5 299.5L1731.8 300L1735.6 299.1ZM1733.3 291.4L1733.7 290.4L1732.2 290.1L1729.7 290.8L1727.3 292.1L1726.8 292.9L1728.1 293.2ZM1726.9 285.6L1727.7 284.7L1726.9 284.3L1723.8 285.3L1723.1 286.1L1723.5 286.5Z"/>
<path fill="#ff9400" d="M1710.5 573.6L1712 574.2L1712.4 574.1L1712.2 573.7L1710.9 573.1ZM1714.8 567.4L1717.9 569.1L1719.2 569.1L1719.3 568.4L1716.3 567L1715 566.9ZM1719.5 561.5L1721.7 562.9L1724 563.6L1725.5 563.4L1725.4 562.6L1720.9 560.7L1719.4 560.7ZM1724 555.3L1726.8 556.9L1729.6 557.8L1731.3 557.5L1731.5 557L1731 556.4L1728.6 555.2L1725.2 554.3L1723.7 554.4ZM1728.1 548.7L1731.1 550.4L1734.6 551.6L1736.6 551.5L1737 551L1736.7 550.4L1734 549L1730.2 547.9L1728.1 547.9ZM1732.6 542.4L1736.4 544.3L1739.9 545.3L1741.9 545.1L1742.2 544.5L1741.8 543.8L1738.9 542.4L1734.2 541.2L1732.2 541.3L1732.1 541.9ZM1736.3 535.5L1740 537.3L1744.4 538.6L1746.7 538.4L1747.1 537.8L1746.6 537.1L1743.6 535.8L1738.9 534.6L1736.5 534.5L1736.1 534.8ZM1740.3 528.8L1744.2 530.6L1748.9 531.9L1751.2 531.6L1751.6 530.9L1751.1 530.2L1747.6 528.8L1742.3 527.6L1740.1 527.8L1739.9 528.2ZM1744.1 521.9L1748.6 523.8L1753.1 524.9L1755.4 524.7L1755.8 523.9L1755.4 523.2L1751.9 521.8L1746.2 520.7L1743.8 520.8L1743.5 521.3ZM1747.4 514.8L1751.6 516.5L1757.1 517.8L1759.5 517.4L1759.7 516.6L1759.1 515.9L1755.3 514.6L1749.7 513.5L1747.3 513.7L1747 514.2ZM1750.5 507.5L1754.7 509.2L1760.4 510.5L1762.9 510.2L1763.4 509.4L1762.8 508.6L1759.2 507.3L1753 506.3L1750.6 506.4L1750.2 506.9ZM1754.3 500.7L1759.9 502.4L1764.5 503.1L1765.8 502.9L1766.6 502.2L1766.5 501.5L1765.5 500.8L1761.4 499.7L1755.3 498.9L1753.2 499.4L1753.3 500ZM1757.4 493.4L1763.4 495L1767.6 495.5L1768.9 495.3L1769.6 494.5L1769.4 493.8L1768.2 493L1763.4 492L1757.6 491.5L1755.9 492.2ZM1759.2 485.5L1763.9 487L1769.6 487.8L1772 487.2L1772.3 486.4L1771.6 485.7L1767.8 484.6L1761.2 483.9L1758.7 484.3L1758.4 484.9ZM1761.7 478.1L1767.9 479.6L1772.6 480L1774 479.7L1774.6 479.1L1774.4 478.2L1773.5 477.6L1769.2 476.7L1762.9 476.3L1760.8 476.9L1760.9 477.5ZM1764 470.5L1770.2 471.8L1774.8 472.1L1776.1 471.7L1776.6 471L1776.3 470.2L1775.2 469.6L1770.6 468.8L1764.8 468.6L1762.8 469.3L1763 470ZM1766 462.8L1772.2 464L1776.7 464.1L1777.9 463.7L1778.3 462.8L1777.9 462L1776.7 461.5L1771.8 460.9L1766.3 460.8L1764.5 461.6L1764.8 462.3ZM1767.9 455.1L1773.9 456.1L1778.3 456L1779.4 455.6L1779.7 454.5L1777.5 453.4L1772.7 452.9L1767.1 453.1L1765.9 454ZM1769.2 447.3L1775.3 448.1L1779.6 447.9L1780.6 447.4L1780.7 446.3L1778.5 445.3L1773 444.9L1768.1 445.2L1767.2 445.6L1767 446.2ZM1772.5 439.7L1777.8 440L1781 439.5L1781.6 438.6L1781.2 437.8L1777.1 437L1770.8 437L1768.2 437.6L1767.7 438.2L1768.3 438.9ZM1772.5 431.7L1778.3 431.9L1781.4 431.4L1782.1 430.6L1781.7 429.7L1778 428.9L1772.2 429L1768.7 429.6L1768.2 430.2L1768.7 430.9ZM1774.7 423.8L1780 423.7L1782.1 422.8L1782.1 421.8L1781.2 421.2L1776.1 420.8L1770.4 421.2L1768.4 422.1L1768.6 422.7L1769.8 423.2ZM1776 415.8L1781.1 415.2L1781.9 414.6L1782 413.7L1779.8 412.8L1774.4 412.8L1769.4 413.5L1768.4 414L1768.3 414.6L1770.4 415.4ZM1776.6 407.7L1780.9 407L1781.6 406.1L1781.2 405.2L1778.5 404.6L1773 404.8L1768.6 405.6L1767.8 406.2L1768 406.9L1770.8 407.6ZM1776.6 399.5L1780.4 398.7L1780.8 397.7L1780.1 396.9L1776.9 396.5L1771.4 396.9L1767.4 397.9L1767 398.6L1767.5 399.2L1771 399.7ZM1776 391.4L1779.4 390.5L1779.7 389.5L1778.9 388.7L1775.3 388.4L1769.5 389.1L1766.2 390.2L1765.9 390.8L1766.6 391.4L1769.9 391.7ZM1774.7 383.4L1778.1 382.4L1778.3 381.4L1777.3 380.6L1773.6 380.5L1768.1 381.3L1764.6 382.4L1764.5 383.1L1765.3 383.6L1769.2 383.8ZM1773.1 375.5L1776.5 374.3L1776.4 373.2L1775.4 372.6L1771.7 372.6L1766.1 373.5L1763 374.6L1762.8 375.3L1763.5 375.8L1766.8 376ZM1771.3 367.6L1774.4 366.4L1774.5 365.4L1773.5 364.7L1769.7 364.7L1763.8 365.8L1760.9 367.1L1760.8 367.7L1761.6 368.2L1765.4 368.2ZM1769.1 359.8L1772.1 358.5L1772.1 357.5L1771 356.9L1767.4 357L1761.7 358.2L1758.7 359.4L1758.5 360.1L1759.5 360.6L1763.1 360.6ZM1766.5 352L1769.5 350.7L1769.4 349.7L1768.2 349.2L1764.1 349.5L1759 350.7L1756.2 352L1756.1 352.6L1757.1 353ZM1763.9 344.4L1766.5 343L1766.3 342.1L1765.1 341.6L1761.2 341.9L1756.1 343.3L1753.5 344.6L1753.5 345.2L1754.5 345.6L1758.2 345.4ZM1761 336.8L1763.1 335.5L1762.9 334.6L1761.6 334.1L1757.4 334.7L1752.7 336.1L1750.6 337.5L1750.9 338L1751.9 338.2ZM1757.8 329.3L1759.5 328L1759 327.2L1757.8 326.9L1753.9 327.5L1749.3 329L1747.6 330.2L1747.9 330.7L1748.8 331L1753.1 330.5ZM1753.6 322.2L1755.4 320.8L1754.9 320L1753.8 319.8L1750.1 320.4L1745.9 321.9L1744.4 323.2L1745.7 323.8ZM1749.3 315.1L1751 313.9L1750.7 313.2L1749.7 312.9L1746.3 313.4L1742.7 314.8L1741.1 316.1L1742.1 316.7ZM1745 308.1L1746.2 306.9L1744.8 306.2L1741.8 306.8L1738.8 308.1L1737.7 309.1L1738.7 309.6ZM1739.9 301.5L1741.1 300.4L1740 299.8L1737.8 300.1L1735.1 301.3L1734.2 302.3L1735.1 302.7ZM1734.3 295.1L1735.4 294.3L1735 293.7L1731.9 294.3L1730.7 295.3L1731 295.7Z"/>
<path fill="#0080ff" d="M1712.7 570.6L1715.1 571.8L1716 571.6L1715.9 571.1L1713.6 570L1712.6 570.1ZM1716.9 564.2L1718.2 565.3L1720.4 566.3L1722.1 566.5L1722.6 565.9L1719.6 564.1L1717.6 563.7ZM1721.7 558.3L1724.2 559.9L1726.8 560.7L1728.4 560.6L1728.3 559.6L1723.3 557.5L1721.6 557.5ZM1725.9 551.8L1728.6 553.5L1731.7 554.6L1733.8 554.7L1734.2 553.7L1732.1 552.4L1728.2 551.2L1726.1 551.1ZM1730.2 545.3L1733.1 547.1L1736.9 548.4L1739.1 548.4L1739.6 547.4L1737.3 546L1733 544.7L1730.6 544.5L1730 544.8ZM1734.5 539L1738.3 540.8L1742.3 542L1744.4 541.7L1744.7 541L1744.2 540.4L1741.1 539.1L1736.3 537.9L1734.3 538ZM1738.3 532.1L1742.1 534L1746.7 535.3L1748.9 535.1L1749.4 534.5L1749.1 533.8L1746.1 532.4L1740.8 531.2L1738.4 531.1L1738 531.4ZM1742.1 525.3L1746.2 527.1L1751.1 528.4L1753.3 528.2L1753.7 527.5L1753.4 526.8L1750 525.4L1744.4 524.2L1742.1 524.2L1741.7 524.8ZM1745.6 518.2L1749.2 519.9L1754.8 521.3L1757.3 521.2L1757.8 520.4L1757.5 519.7L1754.2 518.4L1748.1 517.1L1745.6 517.2L1745.3 517.7ZM1749.2 511.3L1753.9 513.1L1759 514.2L1761.3 513.7L1761.6 512.9L1760.9 512.2L1757 510.9L1751.2 509.9L1748.8 510.1L1748.6 510.7ZM1752.3 504.1L1757 505.8L1762.5 506.8L1764.8 506.2L1765 505.4L1764.2 504.7L1760.2 503.5L1754.3 502.6L1751.9 502.9L1751.7 503.5ZM1755.3 496.8L1760.5 498.5L1765.8 499.3L1768 498.6L1768.1 497.8L1767.2 497.1L1763.2 496L1756.8 495.2L1754.6 495.7ZM1758.1 489.4L1763.8 491L1768.7 491.7L1770.8 491L1770.9 490.2L1770.2 489.5L1765.9 488.3L1759.8 487.7L1757.3 488.2L1757.3 488.8ZM1760.8 482L1767 483.5L1771.4 483.9L1772.8 483.7L1773.5 482.9L1773.2 482.1L1772.1 481.5L1768 480.6L1761.7 480.1L1759.6 480.8ZM1763.2 474.4L1769.2 475.7L1773.7 476.1L1775.1 475.7L1775.6 474.9L1775.4 474.1L1774 473.5L1769.8 472.7L1763.7 472.5L1761.7 473.3ZM1765.8 466.9L1771.6 468L1776.1 468.1L1777.3 467.5L1777.5 466.6L1776.8 465.9L1775.1 465.4L1769.5 464.7L1765 464.8L1763.9 465.2L1763.6 465.8ZM1767.9 459.2L1773.9 460.1L1777.9 460L1778.9 459.4L1779 458.5L1776.4 457.3L1771.3 456.9L1766.4 457L1765.4 457.5L1765.3 458.1ZM1769.4 451.4L1775.2 452.1L1779.3 451.9L1780.2 451.2L1780.2 450.3L1777.3 449.2L1771.8 448.9L1767.5 449.2L1766.5 449.7L1766.6 450.3ZM1770.6 443.5L1776.2 444.1L1780.1 443.8L1781.1 443.1L1781 442.1L1778.2 441.1L1771.9 440.9L1768.3 441.4L1767.4 441.9L1767.6 442.5ZM1771.3 435.5L1777.1 436L1780.9 435.6L1781.8 434.9L1781.6 433.9L1778.5 433L1772.6 432.9L1768.7 433.5L1768 434.1L1768.3 434.7ZM1773.6 427.7L1779 427.8L1781.8 427.2L1782.2 426.2L1781.5 425.4L1777.1 424.8L1771 425.1L1768.5 425.9L1768.4 426.5L1769.3 427.1ZM1775.4 419.8L1780.7 419.5L1781.8 419L1782.2 418.2L1781.8 417.4L1780.5 416.9L1775.3 416.8L1769.9 417.3L1768.3 418.4L1770.1 419.3ZM1776.3 411.7L1781.1 411.1L1781.8 410.4L1781.7 409.4L1779.2 408.7L1773.7 408.8L1768.9 409.6L1768.1 410.1L1768.2 410.8L1770.6 411.5ZM1776.8 403.6L1780.7 402.8L1781.2 401.8L1780.6 401L1777.4 400.5L1772.1 400.9L1768.1 401.8L1767.4 402.5L1767.8 403L1770.9 403.6ZM1776.4 395.5L1779.9 394.6L1780.3 393.6L1779.5 392.8L1776.4 392.4L1770.4 393L1767 394L1766.4 394.7L1767 395.2L1770.1 395.7ZM1775.4 387.4L1778.8 386.4L1779 385.5L1778.1 384.7L1774.6 384.5L1768.8 385.2L1765.5 386.2L1765.2 386.9L1765.8 387.4L1769.6 387.8ZM1773.9 379.5L1777.3 378.3L1777.4 377.3L1776.4 376.6L1772.6 376.5L1767 377.4L1763.9 378.5L1763.7 379.2L1764.4 379.7L1768 379.9ZM1772.1 371.5L1775.4 370.4L1775.6 369.4L1774.7 368.7L1770.8 368.6L1765.1 369.6L1761.9 370.9L1761.9 371.6L1762.7 372L1766.2 372.1ZM1770.3 363.6L1773.3 362.4L1773.3 361.5L1772.3 360.8L1768.6 360.9L1762.7 362L1759.8 363.2L1759.7 363.9L1760.7 364.4ZM1767.8 355.9L1770.8 354.6L1770.8 353.6L1769.7 353L1766.1 353.2L1760.3 354.4L1757.4 355.7L1757.4 356.4L1758.2 356.8L1762.2 356.7ZM1765.4 348.2L1768 346.8L1767.9 345.9L1766.7 345.4L1762.7 345.7L1757.4 347L1754.9 348.3L1754.9 349L1755.7 349.3L1759.5 349.2ZM1762.4 340.6L1764.9 339.2L1764.6 338.3L1763.4 337.8L1759.6 338.2L1754.5 339.6L1752.1 340.9L1752.2 341.6L1753 341.9L1757 341.7ZM1759.3 333L1761.4 331.7L1760.9 330.8L1759.8 330.5L1755.7 331.1L1751 332.5L1749.2 333.7L1749.4 334.3L1750.3 334.6L1754.6 334.2ZM1756.2 325.5L1757.3 324.8L1757.4 324.1L1756.9 323.5L1755.6 323.3L1752 323.9L1747.4 325.6L1746 326.7L1747.5 327.4L1752.4 326.7ZM1751.8 318.5L1753.3 317.2L1752.8 316.5L1751.6 316.3L1748.5 316.8L1744.4 318.3L1742.8 319.6L1744 320.2ZM1747.4 311.5L1748.7 310.2L1747.1 309.5L1744.1 310.1L1740.7 311.4L1739.4 312.5L1740.6 313.1ZM1742.3 304.9L1743.7 303.7L1742.5 302.9L1739.9 303.4L1737.3 304.5L1736 305.5L1736.7 306.2ZM1737.3 298.2L1738.3 297.3L1737.6 296.7L1733.6 297.7L1732.5 298.7L1733 299.2ZM1731.7 291.7L1732.2 291.2L1731.8 290.8L1729.5 291.4L1729.1 291.9L1729.4 292.3Z"/>
<path fill="#ff7300" d="M1721.3 562L1723.4 563L1724.1 562.9L1724 562.3L1722.1 561.5L1721.2 561.6ZM1725.4 555.5L1728.8 557.2L1730.1 557.2L1730.2 556.4L1727 555L1725.6 555ZM1729.7 549.1L1731.7 550.5L1734.2 551.2L1735.7 551.1L1735.9 550.3L1731.6 548.5L1729.9 548.4ZM1733.8 542.5L1735.8 543.8L1738.9 544.9L1740.9 544.8L1741.2 543.9L1739 542.7L1735.9 541.8L1733.9 541.8ZM1737.8 535.9L1740.4 537.3L1744 538.4L1745.9 538.2L1746.3 537.7L1746 537.1L1743.6 535.9L1740 535L1737.9 535L1737.5 535.4ZM1742 529.4L1745.8 531L1748.8 531.7L1750.7 531.3L1750.8 530.6L1750.2 530L1747.1 528.8L1742.9 528L1741.4 528.4ZM1745.8 522.5L1749.8 524.1L1753.3 524.7L1755.1 524L1754.2 522.8L1750.8 521.7L1746.5 521L1744.9 521.4ZM1748.7 515L1752.3 516.6L1756.7 517.6L1758.8 517.2L1759.1 516.6L1758.6 515.9L1755.8 514.8L1751 513.9L1748.7 514L1748.3 514.5ZM1752.1 508L1756.3 509.6L1760.4 510.3L1762.4 509.9L1762.7 509.2L1762.3 508.6L1759 507.4L1753.9 506.6L1751.6 506.9ZM1755.1 500.6L1759.3 502.1L1763.7 502.9L1765.7 502.4L1766 501.7L1765.4 501L1761.9 499.9L1756.6 499.2L1754.6 499.6ZM1757.8 493.2L1761.9 494.6L1766.8 495.3L1768.8 494.7L1769 494L1768.3 493.3L1764.6 492.3L1759.4 491.7L1757.3 492.2ZM1761.3 486.1L1766.1 487.3L1770 487.6L1771.1 487.3L1771.6 486.6L1771.3 485.9L1770.2 485.3L1766.1 484.4L1761.2 484.2L1759.7 484.9ZM1763.6 478.5L1768.6 479.6L1772.4 479.8L1773.6 479.5L1774 478.8L1773.6 478L1772.5 477.5L1768.8 476.7L1763.4 476.6L1762 477.3ZM1765.9 470.8L1770.9 471.8L1774.6 471.9L1775.7 471.5L1776 470.6L1774.2 469.5L1769.6 468.8L1765.3 468.9L1764 469.7ZM1767.7 463L1772.5 463.9L1776.4 463.9L1777.4 463.5L1777.7 462.7L1775.9 461.5L1771.7 461L1766.9 461.1L1766 461.4L1765.8 462ZM1769.3 455.2L1774.1 456L1778 455.9L1778.9 455.3L1779 454.4L1777 453.4L1772.5 453L1768.2 453.3L1767.4 453.6L1767.2 454.2ZM1770.5 447.3L1775.3 448L1779 447.8L1780 447.3L1780.1 446.4L1778 445.3L1773 445L1769.2 445.4L1768.4 445.8L1768.3 446.4ZM1773 439.6L1777.8 439.9L1780.4 439.5L1781 438.7L1780.6 437.9L1777.1 437.1L1772.1 437.1L1769.4 437.7L1769 438.3L1769.5 438.8ZM1773 431.6L1777.9 431.8L1780.8 431.4L1781.4 430.6L1781.1 429.7L1778 429L1772.9 429.1L1770 429.7L1769.5 430.1L1769.9 430.8ZM1774.4 423.7L1779 423.7L1781.4 422.9L1781.5 422L1780.8 421.3L1776.8 420.8L1771.9 421.2L1769.8 422L1769.8 422.6L1770.5 423.1ZM1775.5 415.7L1780.1 415.3L1781.2 414.8L1781.4 414.1L1781.1 413.5L1780.1 413L1775.4 412.8L1770.9 413.4L1769.5 414.3L1771.1 415.3ZM1775.9 407.6L1780.1 407L1780.9 406.4L1780.8 405.5L1778.8 404.7L1774.2 404.8L1770.1 405.5L1769.1 406.6L1770.8 407.3ZM1775.9 399.5L1779.5 398.8L1780.2 398.1L1779.9 397.2L1777.2 396.6L1772.6 396.9L1769 397.7L1768.3 398.3L1768.6 398.9L1771.2 399.5ZM1775.3 391.4L1778.8 390.5L1779.1 389.6L1778.5 388.9L1775.9 388.5L1771 389L1767.8 389.9L1767.2 390.5L1767.5 391.1L1770.1 391.6ZM1774.2 383.4L1777.5 382.4L1777.7 381.5L1777 380.8L1774.1 380.6L1769.3 381.2L1766.2 382.1L1765.7 382.7L1766.2 383.3L1768.7 383.7ZM1772.8 375.4L1775.8 374.3L1775.9 373.4L1775.1 372.8L1771.9 372.7L1767.3 373.4L1764.4 374.4L1764 375L1764.6 375.5L1767.6 375.8ZM1770.8 367.5L1773.8 366.5L1773.9 365.6L1773 364.9L1769.9 364.8L1765 365.7L1762.3 366.8L1762 367.4L1762.6 367.9L1765.5 368.1ZM1768.8 359.7L1771.5 358.6L1771.4 357.6L1770.5 357.1L1767.5 357.1L1762.7 358.1L1760 359.2L1759.8 359.8L1760.4 360.2L1763.7 360.4ZM1766.5 351.9L1768.8 350.8L1768.7 349.8L1767.7 349.4L1764.3 349.5L1759.8 350.6L1757.4 351.9L1757.5 352.4L1758.3 352.7L1761.6 352.7ZM1763.9 344.2L1765.9 343L1765.6 342.2L1764.6 341.8L1761.3 342L1756.8 343.2L1754.8 344.5L1755 345L1755.9 345.3ZM1761.2 336.5L1762.3 335.9L1762.5 335.2L1760.8 334.4L1757.5 334.8L1753.5 336.1L1752 337.3L1753.2 337.9L1757.5 337.5ZM1757 329.4L1758.7 328.2L1758.5 327.6L1757.6 327.1L1754.4 327.5L1750.8 328.6L1749 329.8L1749.9 330.5L1753.1 330.3ZM1753 322.2L1754.6 321L1754.3 320.4L1753.5 320.1L1750.5 320.4L1747.4 321.6L1745.9 322.6L1746.8 323.3ZM1749 315L1750.1 314L1749.1 313.2L1746.7 313.5L1743.9 314.6L1742.7 315.5L1743.4 316.1ZM1744.2 308.2L1745.2 307.3L1744.6 306.6L1740.6 307.6L1739.4 308.5L1739.9 309ZM1739 301.5L1739.7 300.8L1739.4 300.4L1736.8 300.9L1736.2 301.4L1736.4 301.9Z"/>
<path fill="#0058ff" d="M1719.4 565.2L1720.4 565.6L1720.5 565.1L1719.4 564.8ZM1723.4 558.9L1726.2 560.2L1727.3 560.1L1727.2 559.4L1724.4 558.2L1723.4 558.3ZM1727.5 552.3L1729.1 553.4L1731.2 554.2L1732.9 554.2L1733.1 553.4L1729.3 551.8L1727.8 551.7ZM1731.8 546L1734.3 547.4L1737 548.1L1738.6 547.9L1738.4 546.9L1736 545.7L1733.2 545.1L1731.7 545.2ZM1736 539.4L1739 541L1741.9 541.7L1743.7 541.3L1743.4 540.3L1740.7 539.1L1737.4 538.4L1735.7 538.5ZM1739.6 532.3L1742 533.8L1746 535L1748.2 534.8L1748.6 534.3L1748.2 533.6L1745.6 532.4L1741.9 531.6L1739.8 531.6ZM1743.8 525.9L1747.9 527.6L1751 528.2L1752.8 527.8L1753 527.1L1752.4 526.5L1749.4 525.4L1745 524.5L1743.2 524.8ZM1746.9 518.5L1750.4 520.1L1754.8 521.2L1756.9 520.8L1757.1 520.2L1756.7 519.6L1753.6 518.3L1749.4 517.5L1747.1 517.6L1746.6 517.9ZM1750.4 511.5L1754 513L1758.6 514L1760.7 513.5L1760.9 512.8L1760.4 512.2L1756.9 511L1752.2 510.2L1750.1 510.5L1749.9 511ZM1754.2 504.6L1758.6 506.1L1762.4 506.6L1764.3 505.9L1764.2 505.1L1763.2 504.5L1759.9 503.5L1754.7 502.9L1753 503.4ZM1756.8 497.1L1761.5 498.6L1765.7 499.1L1767.4 498.4L1767.5 497.7L1766.7 497.1L1763.2 496.1L1757.9 495.5L1756 495.9L1756 496.5ZM1759.3 489.6L1764 491L1768.2 491.5L1770.2 490.8L1770.3 490.1L1769.6 489.5L1765.9 488.4L1760.5 488L1758.6 488.5ZM1761.8 482L1766.7 483.4L1770.9 483.8L1772.7 483.1L1772.8 482.3L1772 481.6L1768.3 480.7L1762.9 480.4L1761 481ZM1764.2 474.5L1769.1 475.6L1773.2 475.9L1775 475L1774.9 474.3L1774 473.7L1770.4 472.9L1764.9 472.7L1763.1 473.4ZM1766.4 466.8L1771.6 467.9L1775.2 468L1776.5 467.6L1776.9 466.9L1776.5 466.1L1775.5 465.6L1772 465L1766.3 465L1764.9 465.8ZM1767.9 459L1773.1 459.9L1776.9 460L1778.1 459.5L1778.4 458.8L1778 458L1776.8 457.6L1773.2 457L1767.8 457.1L1766.5 457.9ZM1770.9 451.5L1775.5 452L1778.9 451.7L1779.6 451L1779.5 450.2L1776.6 449.2L1771.9 449L1768.4 449.5L1767.8 450L1768 450.5ZM1771.6 443.5L1776.3 444L1779.7 443.7L1780.5 443.1L1780.5 442.1L1777.7 441.2L1773 441L1769.5 441.5L1768.8 441.9L1768.9 442.6ZM1774.5 435.8L1779.2 435.8L1781.1 435L1781.1 434.1L1780.3 433.5L1776.1 433L1771.3 433.3L1769.4 434L1769.5 434.7L1770.4 435.1ZM1773.9 427.6L1778.7 427.7L1781.2 427.1L1781.6 426.4L1781.1 425.6L1777.3 424.9L1772.3 425.2L1769.8 425.9L1769.7 426.5L1770.4 427ZM1775.1 419.7L1779.9 419.5L1781.5 418.5L1781.4 417.7L1780.4 417.1L1776.1 416.8L1771.4 417.3L1769.6 418.2L1770.9 419.2ZM1775.9 411.6L1780.3 411.1L1781.1 410.5L1781.2 409.7L1779.3 408.8L1774.7 408.8L1770.4 409.5L1769.5 409.9L1769.4 410.6L1771.3 411.3ZM1775.8 403.6L1779.9 402.9L1780.5 402.3L1780.4 401.4L1778.4 400.7L1773.6 400.8L1769.7 401.6L1768.9 402L1768.8 402.7L1770.7 403.4ZM1775.6 395.5L1779.3 394.6L1779.7 393.7L1779.1 393L1776.5 392.6L1771.8 393L1768.3 393.9L1767.8 394.3L1768 394.9L1770.4 395.5ZM1774.7 387.4L1778.2 386.4L1778.4 385.6L1777.8 384.9L1775.2 384.5L1770.3 385.1L1766.9 386.1L1766.5 386.7L1767 387.2L1769.8 387.6ZM1773.7 379.4L1776.7 378.3L1776.8 377.5L1776.1 376.8L1772.8 376.6L1768.2 377.3L1765.2 378.3L1764.9 378.9L1765.5 379.4L1768.8 379.8ZM1771.9 371.5L1774.8 370.5L1775 369.6L1774.1 368.8L1770.9 368.7L1766.3 369.5L1763.3 370.7L1763.1 371.2L1763.7 371.7L1766.9 371.9ZM1770 363.6L1772.7 362.5L1772.7 361.5L1771.8 361L1768.8 360.9L1763.9 361.9L1761.1 363.1L1761 363.6L1761.7 364.1L1765.2 364.2ZM1767.6 355.8L1770.2 354.7L1770.1 353.7L1769.2 353.2L1765.6 353.3L1761.2 354.4L1758.7 355.5L1758.7 356.1L1759.4 356.5L1762.7 356.5ZM1765.1 348.1L1767.4 346.9L1767.2 346L1766.2 345.6L1762.8 345.8L1758.4 346.9L1756.2 348L1756.2 348.7L1757.1 349ZM1762.5 340.4L1764.2 339.2L1763.9 338.5L1762.9 338.1L1759.1 338.4L1755.1 339.7L1753.4 340.9L1754.6 341.6ZM1758.5 333.1L1760.6 332L1760.4 331.2L1759.5 330.8L1756.3 331L1752.5 332.2L1750.6 333.4L1750.6 333.9L1751.4 334.2ZM1755.6 325.5L1756.7 324.3L1755.1 323.6L1752 324.1L1748.6 325.3L1747.5 326.4L1748.8 326.9ZM1751.5 318.4L1752.4 317.4L1751.1 316.6L1748.4 317L1745.2 318.3L1744.3 319.3L1745.6 319.7ZM1746.6 311.6L1747.7 310.6L1746.8 309.9L1742.2 311.1L1741 312.1L1741.7 312.6ZM1741.9 304.7L1742.6 303.9L1741.8 303.4L1738.4 304.4L1737.7 305.1L1738.4 305.5ZM1736.2 298L1736.3 297.5L1735.1 297.7L1734.7 298.1L1734.9 298.4Z"/>
<path fill="#ff4e00" d="M1727.5 556L1728.2 556.4L1728.4 556.1ZM1731.4 549.7L1734 550.8L1734.8 550.6L1734.7 550L1732.3 549.1L1731.4 549.1ZM1735.2 543L1738.7 544.5L1740.1 544.4L1740.2 543.6L1736.8 542.3L1735.3 542.4ZM1739.1 536.2L1741.2 537.4L1743.5 538L1745.1 537.9L1745.1 536.9L1740.9 535.5L1739.3 535.5ZM1742.9 529.3L1745.1 530.6L1748.1 531.3L1749.7 531.2L1750.1 530.6L1749.8 530.1L1747.6 529.1L1744.7 528.5L1742.9 528.6ZM1747 522.8L1750 524L1752.9 524.5L1754.3 523.9L1753.7 522.8L1751.3 521.9L1747.7 521.4L1746.3 521.7ZM1750.3 515.6L1753.6 516.9L1756.6 517.4L1758.3 516.8L1757.6 515.6L1755.1 514.7L1751.2 514.2L1749.7 514.5ZM1753.1 508.1L1756.3 509.4L1759.9 510.1L1761.7 509.8L1762 509.2L1761.7 508.6L1759 507.5L1755.2 506.9L1753 507.1L1752.8 507.6ZM1756.3 500.9L1760.2 502.2L1763.6 502.7L1765.2 502.1L1765.3 501.4L1764.6 500.8L1761.7 499.9L1757.6 499.5L1755.9 499.8ZM1759 493.4L1762.9 494.7L1766.3 495.2L1768.2 494.6L1768.3 493.9L1767.6 493.2L1764.5 492.4L1760.5 492L1758.6 492.4ZM1762.3 486.2L1766.3 487.2L1769.8 487.4L1771 486.5L1769.7 485.3L1766.7 484.6L1762.3 484.4L1761 485.2ZM1764.4 478.5L1768.4 479.5L1771.9 479.7L1773.4 478.7L1772.2 477.6L1768.6 476.9L1764.6 476.8L1763.2 477.4ZM1766.4 470.7L1770.7 471.7L1774 471.8L1774.9 471.5L1775.4 470.7L1774.1 469.6L1771.1 469.1L1766.6 469L1765.3 469.8ZM1768.2 462.9L1772.5 463.8L1775.8 463.8L1776.7 463.5L1777.1 462.7L1775.6 461.6L1772.5 461.1L1768.2 461.2L1767 462ZM1770.5 455.3L1774.6 455.9L1777.7 455.7L1778.4 455.1L1778.4 454.3L1776.3 453.4L1772.5 453.2L1769 453.5L1768.4 453.9L1768.5 454.5ZM1771.4 447.3L1775.5 447.9L1778.6 447.7L1779.5 447.1L1779.5 446.3L1777.5 445.4L1770.4 445.5L1769.5 446.4ZM1773.5 439.5L1777.6 439.8L1779.9 439.3L1780.4 438.5L1779.9 437.8L1777.3 437.2L1773.2 437.2L1770.6 437.8L1770.3 438.3L1770.7 438.8ZM1775.7 431.7L1779.3 431.6L1780.8 430.6L1779.9 429.5L1776 429.1L1772.4 429.4L1770.7 430.2L1771.9 431.1ZM1774.7 423.5L1778.7 423.5L1780.7 422.9L1781 422.1L1780.3 421.4L1777.3 421L1773.2 421.2L1771 422L1770.9 422.5L1771.6 423ZM1775.3 415.5L1779.2 415.3L1780.8 414.4L1780.1 413.2L1776.4 412.9L1772.5 413.3L1770.8 414.2L1771.9 415.1ZM1775.6 407.5L1779.2 407.1L1780.1 406.6L1780.4 405.9L1779.1 405L1775.2 404.9L1771.4 405.5L1770.3 406.3L1771.5 407.1ZM1775.4 399.4L1779 398.8L1779.5 398.1L1779.5 397.5L1777.7 396.8L1773.6 396.9L1770.1 397.7L1769.6 398.7L1771.1 399.3ZM1774.8 391.4L1778 390.6L1778.5 390L1778.2 389.2L1775.9 388.7L1772 389L1769 389.8L1768.4 390.3L1768.6 390.9L1770.5 391.4ZM1773.9 383.3L1776.7 382.5L1777.1 381.8L1776.6 381L1774.2 380.7L1770.1 381.2L1767.5 382L1767 382.5L1767.3 383.1L1769.6 383.5ZM1772.5 375.3L1775.1 374.5L1775.4 373.7L1774.8 373L1772 372.8L1768.1 373.4L1765.5 374.4L1765.3 375L1765.8 375.4L1768.3 375.7ZM1770.8 367.4L1773.3 366.3L1773.2 365.5L1772.5 365L1769.6 365L1765.8 365.7L1763.4 366.7L1763.3 367.3L1763.8 367.7L1766.8 367.9ZM1768.8 359.6L1770.9 358.5L1770.8 357.7L1770 357.2L1767 357.3L1763.2 358.1L1761.1 359.2L1761.8 360.1ZM1766.4 351.8L1768.2 350.7L1768 349.9L1767.2 349.5L1764.3 349.6L1760.6 350.6L1758.7 351.7L1759.4 352.5L1762.7 352.5ZM1762.9 344.4L1765.1 343.3L1765.1 342.6L1764.5 342.1L1761.9 342.1L1758.3 342.9L1756.2 344L1756 344.5L1756.5 344.9L1758.9 345ZM1760.2 336.7L1761.7 335.7L1761.6 335L1760.8 334.6L1758 334.8L1754.9 335.8L1753.3 336.7L1753.4 337.3L1754 337.5ZM1756.5 329.4L1758 328.3L1757.1 327.4L1754.4 327.6L1751.7 328.6L1750.4 329.6L1751.1 330.2ZM1752.7 322.1L1753.8 321.1L1752.9 320.4L1750.8 320.6L1748.4 321.4L1747.3 322.4L1748 322.9ZM1748.1 315.1L1749.1 314.3L1748.4 313.6L1745.2 314.4L1744.2 315.2L1744.7 315.6ZM1743 308.2L1743.7 307.3L1741.9 307.4L1741.4 308.3Z"/>
<path fill="#0030ff" d="M1729.3 552.8L1731 553.7L1731.8 553.6L1731.8 553.2L1730.4 552.5ZM1733.3 546.4L1736.4 547.7L1737.5 547.5L1737.5 546.9L1734.4 545.7L1733.3 545.8ZM1737.3 539.7L1741.2 541.3L1742.7 541.1L1742.7 540.3L1738.6 538.9L1737.2 539ZM1741.2 532.9L1743.6 534.2L1746.1 534.8L1747.6 534.5L1747.4 533.5L1745.2 532.5L1742.5 532L1741 532.2ZM1744.7 525.8L1747.2 527.2L1750.2 527.9L1751.9 527.7L1752.1 526.7L1750 525.7L1746.8 525L1744.9 525ZM1748.7 519.2L1751.8 520.4L1754.6 520.9L1756.3 520.5L1756.3 519.8L1755.8 519.3L1753 518.3L1749.4 517.8L1748 518.2ZM1752.3 512.1L1755.7 513.4L1758.7 513.8L1760.2 513L1759.2 511.8L1756.3 511L1752.5 510.6L1751.2 511ZM1754.7 504.5L1758.6 505.9L1762 506.4L1763.7 505.7L1762.9 504.6L1759.9 503.6L1756 503.2L1754.4 503.6ZM1758 497.3L1761.7 498.5L1765.2 498.9L1766.8 498.3L1766.8 497.6L1766.2 497.1L1763.1 496.2L1758.9 495.8L1757.1 496.3ZM1760.6 489.8L1764.8 491L1768.1 491.3L1769.7 490.6L1769.6 489.9L1768.9 489.4L1765.9 488.5L1761.6 488.2L1759.8 488.7L1759.8 489.2ZM1762.8 482.1L1766.8 483.3L1770.3 483.6L1772.1 482.9L1772.2 482.2L1771.3 481.6L1768.3 480.8L1764 480.6L1762.2 481.1ZM1766.1 474.8L1770.3 475.7L1773.3 475.7L1774.2 475.2L1774.4 474.5L1772.5 473.4L1768.8 472.9L1765.2 473L1764.3 473.8ZM1767.8 467L1771.9 467.8L1775 467.8L1776 467.4L1776.3 466.6L1774.6 465.5L1767.3 465.2L1766.2 466ZM1769.4 459.1L1773.3 459.8L1776.6 459.8L1777.5 459.4L1777.8 458.7L1776.1 457.5L1768.8 457.3L1767.7 458.2ZM1772.1 451.5L1776 451.9L1778.5 451.5L1779.1 450.8L1778.8 450.1L1775.8 449.3L1771.4 449.2L1769.3 449.7L1769 450.2L1769.4 450.8ZM1772.4 443.4L1776.5 443.9L1779.3 443.5L1780 442.9L1779.8 442.1L1777.5 441.3L1770.6 441.6L1770 442L1770 442.5ZM1774.5 435.6L1778.2 435.7L1780.4 435.1L1780.6 434.4L1780.2 433.7L1776.8 433.1L1772.5 433.3L1770.7 434L1770.6 434.5L1771.4 435ZM1774.1 427.5L1778 427.7L1780.5 427.1L1780.9 426.5L1780.6 425.7L1777.8 425L1773.7 425.2L1771.2 425.8L1770.9 426.3L1771.2 426.8ZM1775.1 419.5L1779 419.4L1780.8 418.7L1780.9 417.9L1780.2 417.3L1776.8 416.9L1772.9 417.3L1770.9 418.1L1771 418.6L1771.8 419.1ZM1775.6 411.5L1779.4 411.2L1780.6 410.2L1780.4 409.5L1779.5 409L1775.7 408.9L1771.9 409.4L1770.5 410.2L1771.7 411.1ZM1775.5 403.5L1779.1 402.9L1779.9 402.4L1779.9 401.6L1778.2 400.8L1774.3 400.9L1770.8 401.6L1770 402.6L1771.8 403.3ZM1775.1 395.4L1778.5 394.7L1779.1 394.1L1778.8 393.3L1776.7 392.7L1772.8 393L1769.5 393.8L1769 394.3L1769.1 394.8L1770.9 395.3ZM1774.4 387.3L1777.4 386.5L1777.8 385.8L1777.4 385.1L1775.2 384.7L1771.1 385.1L1768.1 386L1767.7 386.6L1768.1 387L1770.1 387.4ZM1773.4 379.3L1776.1 378.3L1776.2 377.5L1775.5 376.9L1772.9 376.7L1769 377.3L1766.5 378.2L1766.2 378.8L1766.6 379.2L1769 379.6ZM1771.8 371.4L1774.3 370.3L1774.3 369.5L1773.6 369L1770.9 368.9L1766.8 369.6L1764.4 370.6L1764.3 371.2L1764.9 371.5ZM1769.7 363.5L1772 362.5L1772.2 361.8L1771.5 361.2L1768.9 361L1764.6 361.9L1762.3 363L1762.2 363.5L1762.8 363.9ZM1767.5 355.7L1769.5 354.7L1769.6 354L1768.9 353.4L1766.2 353.4L1762.2 354.3L1759.9 355.4L1759.9 355.9L1760.5 356.2L1763.3 356.3ZM1765.5 347.8L1766.8 346.6L1765.4 345.7L1762.3 346L1758.7 347L1757.3 348.1L1758.4 348.8L1762 348.6ZM1761.6 340.5L1763.5 339.4L1763.4 338.7L1762.6 338.3L1759.7 338.5L1756.5 339.4L1754.7 340.4L1754.8 341L1755.4 341.2ZM1757.8 333.2L1759.7 332.3L1759.9 331.6L1759.2 331.1L1756.8 331.1L1753.9 331.9L1752 333L1752.2 333.7ZM1754.1 325.9L1755.8 325L1755.4 324L1753.6 323.9L1750.8 324.7L1749 325.7L1749.2 326.4ZM1750.5 318.5L1751.5 317.6L1750.7 317L1746.7 317.9L1745.8 318.7L1746.4 319.2ZM1745.5 311.7L1746.5 311L1746.4 310.5L1743.8 310.8L1742.8 311.5L1742.9 311.9Z"/>
<path fill="#ff2900" d="M1737 543.4L1738.4 543.9L1739 543.8L1738.8 543.4L1737.4 542.9ZM1740.6 536.5L1743.2 537.7L1744.3 537.4L1744.2 536.8L1741.6 535.9L1740.6 536.1ZM1744.5 529.9L1748.1 531L1749.2 530.6L1748.6 529.8L1744.9 528.9L1744.1 529.2ZM1747.7 522.6L1749.6 523.6L1751.8 524.2L1753.3 524L1753.5 523.1L1752 522.3L1749.5 521.8L1747.8 521.9ZM1751.3 515.7L1756.1 517.1L1757.5 516.7L1757.1 515.6L1752.2 514.5L1750.9 514.9ZM1754.6 508.5L1757.3 509.5L1759.8 509.9L1761.2 509.4L1760.8 508.3L1758.3 507.5L1755.3 507.2L1754 507.6ZM1757.7 501.2L1760.7 502.2L1763.4 502.5L1764.6 501.8L1764 500.8L1761.4 500L1758 499.8L1756.9 500.3ZM1760.2 493.6L1763.4 494.7L1766.2 495L1767.6 494.4L1767.1 493.3L1764.5 492.5L1761.2 492.3L1759.7 492.7ZM1763.1 486.2L1766.3 487.1L1768.9 487.3L1770.3 486.6L1769.6 485.5L1767.1 484.8L1763.4 484.7L1762.2 485.2ZM1765.2 478.4L1768.4 479.3L1771.3 479.5L1772.7 478.8L1771.9 477.7L1769.3 477.1L1765.7 477L1764.4 477.5ZM1768.1 471L1771.2 471.6L1773.7 471.6L1774.5 471.2L1774.7 470.5L1773.2 469.6L1767.2 469.3L1766.4 470.1ZM1769.4 463L1772.7 463.7L1775.5 463.6L1776.4 462.6L1775.1 461.7L1769.2 461.4L1768.1 462.1ZM1772 455.4L1775.1 455.8L1777.4 455.4L1777.9 454.8L1777.6 454.2L1775.5 453.5L1772 453.3L1769.9 453.8L1769.5 454.2L1769.8 454.7ZM1772.7 447.4L1775.8 447.8L1778.2 447.5L1778.8 447L1778.9 446.4L1777 445.5L1774.1 445.3L1771.2 445.7L1770.8 446.6ZM1774.2 439.5L1777.6 439.7L1779.5 439.1L1779.7 438.5L1779.4 437.9L1777 437.3L1771.7 437.9L1771.7 438.8ZM1775.9 431.6L1778.9 431.4L1780.2 430.6L1779.4 429.6L1776.3 429.2L1773.1 429.5L1771.9 430.2L1772.8 431ZM1775.2 423.4L1778.5 423.4L1780.2 422.8L1780.3 422.1L1779.9 421.6L1777.3 421.1L1774 421.3L1772.2 422L1772.6 422.9ZM1775.5 415.4L1778.7 415.2L1780.2 414.4L1779.6 413.4L1776.6 413L1773.3 413.4L1772 414.1L1772.7 415ZM1775.6 407.3L1778.7 407L1779.7 406.1L1778.8 405.1L1775.6 404.9L1772.5 405.5L1771.4 406.3L1772.6 407.1ZM1775.3 399.3L1778.2 398.8L1778.9 397.7L1777.5 396.9L1774.3 397L1771.6 397.5L1770.7 398.4L1772.2 399.1ZM1774.8 391.2L1777.4 390.6L1777.9 390L1777.6 389.3L1775.8 388.8L1772.7 389L1770.1 389.8L1769.6 390.2L1769.7 390.7L1771.5 391.2ZM1773.9 383.2L1776.2 382.4L1776.4 381.7L1776 381.2L1773.7 380.8L1770.8 381.2L1768.4 382L1768.1 382.5L1768.5 382.9ZM1772.7 375.2L1774.6 374.3L1774.7 373.6L1774 373.1L1771.7 372.9L1768.6 373.5L1766.5 374.4L1767 375.2ZM1771 367.2L1772.6 366.4L1772.6 365.7L1771.9 365.2L1769.3 365.1L1766.3 365.8L1764.5 366.7L1764.9 367.5L1767.5 367.7ZM1767.5 359.7L1770.1 358.8L1770.4 358.2L1770 357.6L1768.1 357.3L1764.9 357.8L1762.5 358.8L1762.4 359.6L1764.2 360ZM1765.4 351.9L1767.5 351L1767.6 350.4L1767.1 349.9L1764.9 349.7L1762 350.3L1760 351.3L1760.1 352.1L1762 352.3ZM1763 344.1L1764.5 343.3L1763.8 342.3L1761.3 342.3L1758.7 343.1L1757.3 344L1757.8 344.6ZM1759.6 336.7L1761 335.7L1760.3 334.9L1755.9 335.6L1754.5 336.6L1755.1 337.2ZM1756.1 329.2L1757.1 328.4L1756.4 327.7L1752.7 328.4L1751.7 329.2L1752.2 329.8ZM1752.1 322L1752.7 321.4L1752.4 320.9L1749.7 321.2L1748.8 322L1749.2 322.4ZM1746.9 314.9L1747.5 314.4L1746.6 314.4L1746.2 314.9Z"/>
<path fill="#0008ff" d="M1738.8 540L1740.9 540.9L1741.7 540.7L1741.6 540.2L1739.6 539.4L1738.7 539.6ZM1742.5 533.2L1745.5 534.4L1746.7 534.2L1746.6 533.5L1743.5 532.4L1742.4 532.6ZM1746.1 526.3L1750 527.6L1751.3 527.3L1751.1 526.4L1747.1 525.3L1746 525.5ZM1749.7 519.3L1754.1 520.7L1755.6 520.3L1755.2 519.3L1750.6 518.2L1749.3 518.5ZM1752.9 512L1755.3 513.1L1758 513.5L1759.3 513.2L1759.3 512.2L1756.8 511.2L1754.1 510.9L1752.6 511.2ZM1756.2 504.9L1759.2 505.9L1761.8 506.2L1763 505.5L1762.2 504.5L1756.7 503.5L1755.5 504ZM1759.4 497.6L1762.4 498.5L1765 498.7L1766.2 497.9L1765.2 496.9L1759.4 496.1L1758.3 496.7ZM1761.6 489.8L1764.8 490.9L1767.6 491.1L1769 490.5L1768.4 489.4L1765.8 488.7L1762.3 488.5L1761 488.9ZM1764.7 482.5L1767.5 483.3L1770.5 483.4L1771.6 482.5L1770.4 481.4L1767.7 480.9L1764.2 480.9L1763.3 481.6ZM1766.7 474.7L1769.7 475.5L1772.7 475.5L1773.8 474.6L1772.5 473.6L1769.5 473.1L1766.3 473.2L1765.4 473.9ZM1768.3 466.9L1771.6 467.6L1774.4 467.7L1775.6 466.7L1774.5 465.7L1771.8 465.2L1768.5 465.3L1767.3 466ZM1770.6 459.2L1773.5 459.7L1776.3 459.6L1777.2 458.6L1775.6 457.6L1772.2 457.3L1769.5 457.6L1768.9 458.4ZM1771.7 451.2L1774.8 451.7L1777.7 451.5L1778.4 450.4L1776.8 449.6L1773.9 449.3L1770.8 449.7L1770.2 450.5ZM1773.3 443.4L1776.5 443.7L1778.9 443.3L1779.3 442.8L1779.2 442.2L1777.2 441.4L1773.5 441.4L1771.5 441.8L1771.3 442.7ZM1775 435.5L1778.1 435.6L1779.9 434.9L1780 434.3L1779.5 433.7L1776.8 433.2L1773.6 433.4L1771.8 434L1772.4 435ZM1774.6 427.4L1778 427.5L1780 427L1780.3 426.5L1780 425.8L1777.8 425.2L1774.2 425.3L1772.2 425.9L1772.4 426.8ZM1775.4 419.4L1778.5 419.4L1780.2 418.7L1780.3 418L1779.8 417.5L1777 417L1773.7 417.4L1772.1 418L1772.7 418.9ZM1775.6 411.4L1779 411.1L1780 410.2L1779.1 409.2L1776.2 409L1772.9 409.5L1771.7 410.2L1772.7 411ZM1775.5 403.3L1778.4 402.9L1779.4 401.9L1778.2 401L1775 400.9L1772.2 401.5L1771.1 402.3L1772.4 403.1ZM1775.1 395.3L1778 394.6L1778.3 393.5L1776.7 392.9L1773.6 393L1770.9 393.6L1770.2 394.5L1771.9 395.2ZM1774.4 387.2L1776.8 386.5L1777.2 385.9L1776.9 385.3L1775.1 384.8L1771.8 385.1L1769.3 385.9L1768.9 386.4L1769.1 386.8L1771 387.3ZM1773.4 379.2L1775.5 378.3L1775.1 377.2L1772.9 376.9L1769.7 377.3L1767.5 378.2L1767.7 379.1ZM1772 371.2L1773.7 370.2L1773 369.1L1770.3 369L1767.4 369.6L1765.5 370.6L1766.1 371.4ZM1768.5 363.6L1771.1 362.8L1771.6 362.3L1771.4 361.6L1769.8 361.2L1766.3 361.6L1763.8 362.5L1763.5 363.4L1765.2 363.8ZM1766.5 355.8L1768.9 354.8L1769 354.2L1768.5 353.7L1766.3 353.5L1763.4 354.1L1761.3 355L1761.3 355.8L1763.1 356.1ZM1764.3 348L1766 347.1L1765.6 346.1L1763.4 346L1760.6 346.6L1758.7 347.6L1758.6 348L1759 348.4ZM1760.8 340.6L1762.6 339.8L1762.8 339.2L1762.4 338.7L1760.6 338.5L1757.8 339.2L1756.1 340.1L1756.1 340.8ZM1757.4 333.1L1759 332.3L1758.8 331.4L1757.3 331.2L1754.9 331.8L1753.3 332.6L1753.4 333.3ZM1754 325.6L1755 325L1754.6 324.3L1751.4 324.8L1750.4 325.4L1750.6 326ZM1749.3 318.6L1750.2 318.1L1750.2 317.6L1748.4 317.6L1747.5 318.6Z"/>
<path fill="#ed0400" d="M1745.7 529.9L1747.2 530.5L1747.9 530.3L1747.9 530L1746.5 529.4ZM1749.1 522.9L1751.7 523.8L1752.6 523.5L1752.4 523L1749.9 522.2L1749 522.4ZM1752.6 515.9L1755.7 516.8L1756.7 516.4L1756.4 515.7L1753 514.9L1752.2 515.2ZM1755.6 508.6L1759.5 509.6L1760.5 509.1L1760 508.3L1756.3 507.5L1755.2 507.9ZM1758.5 501.2L1762.5 502.2L1763.9 501.8L1763.6 501L1761.8 500.3L1759.4 500.1L1758.2 500.4ZM1761.2 493.6L1763.6 494.5L1765.9 494.7L1767 494.1L1766.3 493.2L1761.9 492.5L1760.8 493ZM1764.1 486.2L1766.4 487L1768.6 487.1L1769.7 486.4L1769.1 485.5L1766.8 484.9L1764.2 484.9L1763.3 485.4ZM1767.1 478.8L1769.7 479.3L1771.5 479.2L1772 478.2L1770.5 477.4L1766.1 477.3L1765.6 478ZM1768.6 470.9L1771.1 471.5L1773.4 471.4L1774 470.4L1772.9 469.7L1768.4 469.5L1767.6 470.1ZM1771.1 463.2L1773.5 463.6L1775.3 463.3L1775.6 462.3L1773.9 461.6L1769.5 461.9L1769.5 462.6ZM1772 455.2L1774.4 455.6L1776.6 455.4L1777.1 454.4L1775.7 453.7L1771.1 453.8L1770.8 454.6ZM1773.6 447.3L1776.1 447.6L1777.9 447.2L1778 446.1L1776.3 445.6L1772.1 446L1772 446.7ZM1775.2 439.4L1777.6 439.5L1779 438.8L1778.5 437.9L1776.6 437.4L1773.7 437.6L1772.6 438.2L1773 438.9ZM1775 431.3L1779.1 431L1779.4 430L1777.7 429.4L1773.4 429.9L1773.3 430.7ZM1775.6 423.3L1778.1 423.3L1779.5 422.7L1779.3 421.7L1777.3 421.3L1774.7 421.5L1773.3 422.1L1773.7 422.8ZM1776 415.2L1778.6 415L1779.5 414.3L1778.8 413.4L1776.7 413.2L1774.2 413.5L1773.1 414.2L1773.8 414.9ZM1776.1 407.2L1778.5 406.8L1779 405.9L1777.9 405.2L1775.7 405.1L1773.4 405.6L1772.6 406.3L1773.7 407ZM1776.1 399.1L1778 398.5L1778.1 397.5L1776.6 397L1774.1 397.2L1772.2 397.7L1771.9 398.5L1773.3 399ZM1773.8 391.1L1776.4 390.7L1777.2 389.9L1776.3 389.1L1774 389L1771.6 389.6L1770.7 390.3L1771.6 390.9ZM1772.9 383.1L1775.3 382.6L1775.7 381.6L1774.5 381.1L1772 381.2L1769.9 381.8L1769.3 382.5L1770.5 383.1ZM1771.5 375.2L1773.6 374.6L1774 373.6L1772.8 373.1L1770.1 373.3L1768 374L1767.7 374.8ZM1769.8 367.3L1771.8 366.6L1771.8 365.6L1770.3 365.2L1767.8 365.6L1765.9 366.3L1765.7 367.1ZM1767.7 359.5L1769.4 358.8L1769.4 357.8L1767.9 357.5L1765.4 357.9L1763.6 358.7L1763.5 359.4L1764.9 359.7ZM1764.7 351.9L1766.6 351.2L1766.7 350.3L1765.5 349.9L1763.3 350.2L1761.5 350.9L1761.1 351.7ZM1762.7 344L1763.7 343.2L1763.1 342.5L1759.5 343.1L1758.5 343.8L1758.9 344.3ZM1758.6 336.7L1759.9 336.1L1760 335.5L1757.4 335.4L1756.1 336L1756 336.6ZM1755 329.2L1756 328.4L1754.3 328.2L1753.2 329.1Z"/>
<path fill="#0000ed" d="M1744.2 533.6L1745.2 533.7L1745 533.2L1744.1 533.2ZM1747.4 526.4L1749.5 527.2L1750.3 527L1750.2 526.5L1748.2 525.8L1747.4 526ZM1751.2 519.7L1754.2 520.3L1754.8 519.8L1754.2 519.2L1751.1 518.6L1750.5 519ZM1754.1 512.3L1757.6 513.2L1758.7 512.8L1758.3 512L1754.8 511.2L1753.7 511.6ZM1757 504.8L1760.9 505.9L1762.2 505.5L1761.8 504.6L1758 503.8L1756.8 504.1ZM1759.8 497.4L1762.1 498.3L1764.1 498.5L1765.4 498L1765.1 497.2L1761 496.3L1759.6 496.6ZM1762.8 490L1765.1 490.8L1767.3 490.9L1768.4 490.3L1767.7 489.4L1763.1 488.7L1762.1 489.2ZM1765.5 482.5L1768.1 483.2L1770.1 483.1L1770.9 482.3L1769.8 481.5L1765.3 481.1L1764.5 481.7ZM1767.4 474.7L1769.8 475.3L1772.1 475.4L1773.1 474.7L1772.2 473.7L1767.5 473.4L1766.6 473.9ZM1769.8 467L1772.2 467.5L1774.3 467.4L1774.9 466.4L1773.6 465.7L1768.9 465.7L1768.6 466.4ZM1771.1 459.1L1773.5 459.6L1775.8 459.4L1776.5 458.6L1775.3 457.8L1770.8 457.7L1770 458.3ZM1772.9 451.3L1775.3 451.6L1777.3 451.3L1777.7 450.3L1776 449.6L1771.6 449.9L1771.5 450.7ZM1774.6 443.4L1777 443.5L1778.5 443L1778.5 442.1L1776.5 441.5L1772.4 442L1772.6 442.8ZM1776.2 435.5L1778.6 435.2L1779.3 434.5L1778.4 433.6L1776.1 433.4L1773.9 433.7L1772.9 434.4L1773.8 435.1ZM1775.3 427.3L1778 427.3L1779.4 426.8L1779.3 425.8L1777.6 425.3L1773.4 425.9L1773.4 426.7ZM1775.9 419.3L1778.3 419.2L1779.6 418.5L1779.2 417.6L1777 417.2L1774.5 417.5L1773.2 418.1L1773.9 418.9ZM1776.1 411.2L1778.4 411L1779.3 410.1L1778.6 409.4L1776.2 409.1L1773.8 409.5L1772.9 410.2L1773.9 410.9ZM1776 403.1L1778.1 402.7L1778.7 401.8L1777.6 401.1L1775 401.1L1772.9 401.6L1772.2 402.3L1773.5 403ZM1774.4 395.1L1776.9 394.7L1777.8 394L1776.9 393.2L1774.6 393L1772.2 393.5L1771.3 394.2L1772.1 394.9ZM1773.4 387.1L1775.8 386.7L1776.5 385.8L1775.5 385.1L1773 385.1L1770.9 385.6L1770 386.4L1771.1 387ZM1772.1 379.2L1774.3 378.7L1774.9 377.7L1773.7 377.1L1771.2 377.2L1769 377.9L1768.5 378.6L1769.8 379.1ZM1770.5 371.3L1772.6 370.7L1773 369.7L1771.8 369.2L1769.1 369.4L1767.2 370L1766.6 370.8L1767.8 371.3ZM1768.7 363.4L1770.7 362.7L1770.8 361.8L1769.5 361.4L1766.9 361.7L1764.8 362.4L1764.6 363.2L1766 363.6ZM1766.9 355.5L1768.3 354.8L1767.7 353.8L1765.6 353.8L1763.5 354.3L1762.2 355.1L1762.7 355.7ZM1763.7 347.9L1765.3 347.2L1765.1 346.4L1761.6 346.5L1759.9 347.3L1760 348ZM1760.5 340.4L1761.8 339.8L1761.7 339L1758.6 339.2L1757.4 339.8L1757.3 340.4ZM1756.8 333L1758 332.5L1758.1 331.9L1755.8 331.8L1754.6 332.9ZM1752.9 325.5L1753.6 324.9L1752.5 324.8L1752 325.4Z"/>
<path fill="#bf0000" d="M1753.9 516L1755.3 516.3L1755.4 515.7L1754 515.5ZM1756.9 508.7L1758.9 509.2L1759.5 508.9L1759.2 508.3L1757.2 508L1756.6 508.3ZM1760 501.5L1762.6 501.8L1763.1 501.3L1762.4 500.8L1759.8 500.5L1759.4 500.9ZM1762.7 493.9L1765.6 494.4L1766.2 493.8L1765.5 493.2L1762.6 492.9L1762.1 493.4ZM1765.3 486.4L1768.2 486.8L1768.9 486.2L1768.3 485.6L1765.2 485.2L1764.5 485.7ZM1768.1 478.8L1771 478.9L1771.1 478.1L1769.9 477.5L1766.9 477.7L1766.9 478.2ZM1769.4 470.8L1772.6 471.2L1773.3 470.5L1772.6 469.9L1769.4 469.7L1768.8 470.2ZM1771.6 463.1L1774.6 463.2L1775 462.4L1773.8 461.8L1770.8 462L1770.5 462.5ZM1773.7 455.3L1775.5 455.3L1776.4 454.8L1775.9 454.1L1774.5 453.7L1772 454.2L1772.2 454.8ZM1774.2 447.2L1777.1 447.1L1777.4 446.3L1776.3 445.8L1773.2 446.1L1773.1 446.6ZM1775.2 439.2L1778.1 438.9L1778 438.1L1776.8 437.7L1773.9 438.2L1773.9 438.7ZM1776.2 431.2L1777.9 431.1L1778.8 430.5L1778.2 429.8L1776.7 429.6L1774.3 430.3ZM1775.9 423L1778.8 422.6L1778.8 422L1777.6 421.5L1774.6 422L1774.6 422.6ZM1776 415L1777.8 414.9L1778.7 414.4L1778.4 413.7L1776.9 413.4L1774.3 414.1L1774.6 414.6ZM1775.8 407L1778.3 406.2L1777.9 405.6L1776.2 405.3L1773.8 406.2ZM1775.3 398.9L1777 398.6L1777.5 398L1776.9 397.4L1775.1 397.3L1773.5 397.7L1773 398.3ZM1774.5 390.9L1775.9 390.5L1776.4 389.8L1775.5 389.3L1773.7 389.3L1772.2 389.8L1772 390.4ZM1772.6 382.9L1774.3 382.6L1775 382L1774.4 381.4L1772.8 381.3L1770.5 382.3ZM1771.2 375L1772.9 374.6L1773.3 373.9L1772.6 373.4L1770.8 373.4L1769.4 373.8L1768.8 374.5ZM1769.2 367.2L1770.8 366.7L1771.3 366.1L1770.3 365.5L1768.5 365.6L1767.1 366.2L1766.8 366.8ZM1767.4 359.3L1768.7 358.8L1768.7 358.1L1766 358L1764.8 358.5L1764.7 359.1ZM1764.6 351.6L1765.7 351.2L1766 350.6L1763.6 350.4L1762.3 351.4ZM1761.9 343.9L1762.7 343.4L1762.6 343L1760.7 343L1760 343.9ZM1758.4 336.2L1758.6 335.8L1757.9 335.8L1757.5 336.2Z"/>
<path fill="#0000bf" d="M1752.4 519.5L1753.2 519.4L1752.5 519.2ZM1755.6 512.5L1757.3 512.8L1757.6 512.3L1757.2 512L1755.5 511.7L1755.1 512ZM1758.3 505L1760.4 505.6L1761.2 505.4L1761.2 504.8L1758.9 504.2L1758.1 504.4ZM1761.3 497.7L1764 498.2L1764.7 497.7L1764.3 497.2L1761.5 496.7L1760.8 497ZM1764 490.2L1767.1 490.5L1767.6 490L1766.9 489.4L1763.8 489.1L1763.3 489.6ZM1766.5 482.5L1769.7 482.8L1770.1 482.2L1769.3 481.6L1766 481.5L1765.7 481.9ZM1768.4 474.7L1771.6 475.1L1772.3 474.5L1771.7 473.9L1768.5 473.6L1767.8 474.1ZM1770.5 467L1773.8 467.1L1774.1 466.4L1773.3 465.9L1770.2 465.8L1769.7 466.4ZM1772.6 459.2L1775.5 459.1L1775.6 458.3L1774.3 457.8L1771.4 458.1L1771.4 458.7ZM1773.4 451.1L1776.6 451.1L1776.9 450.4L1775.9 449.8L1772.7 450.1L1772.5 450.6ZM1774.6 443.1L1777.6 443.1L1777.9 442.3L1776.7 441.8L1773.8 442L1773.5 442.6ZM1775.7 435.2L1777.6 435.2L1778.5 434.7L1778.3 434L1776.8 433.6L1774.1 434.2L1774.3 434.7ZM1776.6 427.2L1778.3 427L1778.9 426.3L1778.3 425.7L1776.6 425.5L1774.4 426.3ZM1775.9 419L1778.8 418.6L1778.6 417.8L1777 417.4L1774.4 418.1L1774.6 418.6ZM1775.8 411L1777.6 410.9L1778.5 410.3L1778.2 409.6L1776.7 409.3L1774.1 410L1774.5 410.7ZM1775.5 402.9L1777.9 402.2L1777.3 401.4L1775.8 401.3L1773.5 402.1L1774 402.7ZM1775.1 394.9L1776.5 394.5L1777 393.8L1776 393.3L1774.3 393.3L1772.9 393.7L1772.5 394.3ZM1773.1 386.9L1774.8 386.7L1775.7 386L1775.1 385.4L1773.6 385.2L1771.2 386.2ZM1771.8 379L1773.5 378.7L1774.2 378L1773.5 377.4L1772 377.3L1770.3 377.7L1769.7 378.4ZM1770.3 371.1L1771.9 370.6L1772.3 370L1771.6 369.5L1769.8 369.5L1767.8 370.5L1768.5 371ZM1768.4 363.3L1769.7 362.8L1770.1 362L1767.4 361.8L1766 362.3L1765.8 362.9ZM1765.7 355.5L1767.3 355L1767.4 354.3L1764.9 354.1L1763.5 355.2ZM1762.9 347.9L1764.5 346.9L1762.6 346.5L1761.1 347.4ZM1760.3 340.1L1760.8 339.4L1759.4 339.3L1758.7 340Z"/>
<path fill="#920000" d="M1763.8 493.8L1764.8 493.9L1764.7 493.5L1763.8 493.4ZM1766.1 486.1L1767.4 486.4L1767.8 486.1L1767.5 485.8L1766.3 485.6ZM1768.4 478.5L1769.9 478.6L1769.8 478L1768.5 477.9ZM1770.5 470.7L1771.9 470.8L1772.2 470.5L1771.8 470.1L1770.4 470.1ZM1772.4 462.9L1773.8 462.7L1773.3 462.1L1772 462.2ZM1774 455L1775.3 454.6L1774.4 454.1L1773.3 454.5ZM1774.7 446.8L1776.2 446.8L1776.4 446.5L1776 446.2L1774.8 446.2L1774.4 446.5ZM1775.7 438.9L1777.1 438.7L1776.7 438.1L1775.3 438.3ZM1776.4 430.8L1777.7 430.5L1777 430L1775.7 430.3ZM1776.6 422.8L1777.8 422.4L1776.9 421.8L1775.8 422.2ZM1776.2 414.6L1777.6 414.4L1777 413.8L1775.7 414.1ZM1775.8 406.6L1777.1 406.3L1776.6 405.7L1775.3 405.9ZM1775.3 398.5L1776.4 398.1L1775.6 397.6L1774.4 398.1ZM1774.4 390.5L1775.3 390L1774 389.6L1773.3 390.1ZM1772.6 382.5L1773.9 382.1L1773 381.6L1772 382ZM1771.1 374.7L1772.2 374.1L1771.2 373.7L1770.2 374.3ZM1769.1 366.8L1770.2 366.2L1769.1 365.9L1768.2 366.4ZM1766.8 359L1767.7 358.5L1766.8 358.2L1766.1 358.7ZM1764.1 351L1764.1 351Z"/>
<path fill="#000092" d="M1764.9 489.9L1766 490.2L1766.2 489.7L1765.2 489.5ZM1767.8 482.5L1769 482.4L1768.3 481.7L1767.1 481.9ZM1769.5 474.6L1771 474.7L1771.2 474.5L1770.9 474.1L1769.5 474ZM1771.6 466.8L1773 466.7L1772.5 466.1L1771.3 466.2ZM1773.1 458.9L1774.6 458.8L1774 458.1L1772.7 458.3ZM1774.2 450.8L1775.7 450.9L1775.9 450.5L1775.4 450.2L1774.1 450.2ZM1775.4 442.9L1776.8 442.7L1776.4 442.1L1775 442.3ZM1776 434.8L1777.4 434.6L1777 434.1L1775.7 434.1L1775.5 434.5ZM1776.6 426.8L1777.8 426.4L1777.1 425.9L1775.8 426.2ZM1776.3 418.7L1777.7 418.4L1777 417.8L1775.9 418.1ZM1776 410.6L1777.4 410.4L1776.8 409.7L1775.5 410.1ZM1775.7 402.6L1776.8 402.1L1776.1 401.7L1774.9 402.1ZM1774.8 394.5L1775.9 394.1L1774.9 393.6L1773.9 394.1ZM1773.3 386.5L1774.6 386.1L1773.7 385.6L1772.7 386.1ZM1772 378.6L1773.1 378L1772.1 377.7L1771.1 378.2ZM1770.2 370.7L1771.2 370.1L1770.2 369.8L1769.2 370.4ZM1768.3 362.9L1768.9 362.3L1767.8 362.1L1767.2 362.7ZM1765.5 355.1L1766.2 354.7L1765.6 354.5L1765 354.8Z"/>
<circle cx="1572.70" cy="421.9" r="3.1" fill="#c6ffbc"/>
<g fill="none" stroke="#000" stroke-width="3.75" stroke-dasharray="13.875 6">
<path stroke-dashoffset="0.40" d="M1599.85 422.30A27.15 27.42 0 0 0 1545.55 422.30A27.15 27.42 0 0 0 1599.85 422.30"/>
<path stroke-dashoffset="5.15" d="M1627.45 422.30A54.75 55.30 0 0 0 1517.95 422.30A54.75 55.30 0 0 0 1627.45 422.30"/>
<path stroke-dashoffset="6.80" d="M1655.35 422.30A82.65 83.48 0 0 0 1490.05 422.30A82.65 83.48 0 0 0 1655.35 422.30"/>
<path stroke-dashoffset="3.80" d="M1684.10 422.30A111.40 112.51 0 0 0 1461.30 422.30A111.40 112.51 0 0 0 1684.10 422.30"/>
<path stroke-dashoffset="9.35" d="M1714.70 422.30A142.00 143.42 0 0 0 1430.70 422.30A142.00 143.42 0 0 0 1714.70 422.30"/>
<path stroke-dashoffset="1.80" d="M1747.45 422.30A174.75 176.50 0 0 0 1397.95 422.30A174.75 176.50 0 0 0 1747.45 422.30"/>
<path stroke-dashoffset="11.12" d="M1783.65 422.30A210.95 213.06 0 0 0 1361.75 422.30A210.95 213.06 0 0 0 1783.65 422.30"/>
<path stroke-dashoffset="8.20" d="M1825.05 422.30A252.35 254.87 0 0 0 1320.35 422.30A252.35 254.87 0 0 0 1825.05 422.30"/>
<path stroke-dashoffset="15.28" d="M1874.25 422.30A301.55 304.57 0 0 0 1271.15 422.30A301.55 304.57 0 0 0 1874.25 422.30"/>
</g></g>
<g stroke="#000" stroke-width="1.9">
<line x1="1203.90" y1="788.55" x2="1203.90" y2="797.25"/>
<line x1="1203.90" y1="788.55" x2="1195.20" y2="788.55"/>
<line x1="1295.46" y1="788.55" x2="1295.46" y2="797.25"/>
<line x1="1203.90" y1="696.96" x2="1195.20" y2="696.96"/>
<line x1="1387.03" y1="788.55" x2="1387.03" y2="797.25"/>
<line x1="1203.90" y1="605.38" x2="1195.20" y2="605.38"/>
<line x1="1478.59" y1="788.55" x2="1478.59" y2="797.25"/>
<line x1="1203.90" y1="513.79" x2="1195.20" y2="513.79"/>
<line x1="1570.15" y1="788.55" x2="1570.15" y2="797.25"/>
<line x1="1203.90" y1="422.20" x2="1195.20" y2="422.20"/>
<line x1="1661.71" y1="788.55" x2="1661.71" y2="797.25"/>
<line x1="1203.90" y1="330.61" x2="1195.20" y2="330.61"/>
<line x1="1753.28" y1="788.55" x2="1753.28" y2="797.25"/>
<line x1="1203.90" y1="239.02" x2="1195.20" y2="239.02"/>
<line x1="1844.84" y1="788.55" x2="1844.84" y2="797.25"/>
<line x1="1203.90" y1="147.44" x2="1195.20" y2="147.44"/>
<line x1="1936.40" y1="788.55" x2="1936.40" y2="797.25"/>
<line x1="1203.90" y1="55.85" x2="1195.20" y2="55.85"/>
</g>
<rect x="1203.90" y="55.85" width="732.50" height="732.70" fill="none" stroke="#000" stroke-width="2"/>
<g font-weight="bold" font-size="25">
<text x="1203.90" y="825.4" text-anchor="middle">−1.00</text>
<text x="1186.40" y="797.95" text-anchor="end">−1.00</text>
<text x="1295.46" y="825.4" text-anchor="middle">−0.75</text>
<text x="1186.40" y="706.36" text-anchor="end">−0.75</text>
<text x="1387.03" y="825.4" text-anchor="middle">−0.50</text>
<text x="1186.40" y="614.77" text-anchor="end">−0.50</text>
<text x="1478.59" y="825.4" text-anchor="middle">−0.25</text>
<text x="1186.40" y="523.19" text-anchor="end">−0.25</text>
<text x="1570.15" y="825.4" text-anchor="middle">0.00</text>
<text x="1186.40" y="431.60" text-anchor="end">0.00</text>
<text x="1661.71" y="825.4" text-anchor="middle">0.25</text>
<text x="1186.40" y="340.01" text-anchor="end">0.25</text>
<text x="1753.28" y="825.4" text-anchor="middle">0.50</text>
<text x="1186.40" y="248.42" text-anchor="end">0.50</text>
<text x="1844.84" y="825.4" text-anchor="middle">0.75</text>
<text x="1186.40" y="156.84" text-anchor="end">0.75</text>
<text x="1936.40" y="825.4" text-anchor="middle">1.00</text>
<text x="1186.40" y="65.25" text-anchor="end">1.00</text>
</g>
<text x="1570.15" y="863.4" font-weight="bold" font-size="30" text-anchor="middle">(r-R)/a</text>
<text transform="translate(1089.00 424.5) rotate(-90)" font-weight="bold" font-size="30" text-anchor="middle">z/a</text>
<g font-size="25">
<rect x="1967.80" y="763.115" width="37.40" height="28.785" fill="#000092"/>
<rect x="1967.80" y="734.731" width="37.40" height="28.785" fill="#0000bf"/>
<rect x="1967.80" y="706.346" width="37.40" height="28.785" fill="#0000ed"/>
<rect x="1967.80" y="677.962" width="37.40" height="28.785" fill="#0008ff"/>
<rect x="1967.80" y="649.577" width="37.40" height="28.785" fill="#0030ff"/>
<rect x="1967.80" y="621.192" width="37.40" height="28.785" fill="#0058ff"/>
<rect x="1967.80" y="592.808" width="37.40" height="28.785" fill="#0080ff"/>
<rect x="1967.80" y="564.423" width="37.40" height="28.785" fill="#00a4ff"/>
<rect x="1967.80" y="536.038" width="37.40" height="28.785" fill="#00ccff"/>
<rect x="1967.80" y="507.654" width="37.40" height="28.785" fill="#0cf4eb"/>
<rect x="1967.80" y="479.269" width="37.40" height="28.785" fill="#2cffca"/>
<rect x="1967.80" y="450.885" width="37.40" height="28.785" fill="#4dffaa"/>
<rect x="1967.80" y="422.500" width="37.40" height="28.785" fill="#6dff8a"/>
<rect x="1967.80" y="394.115" width="37.40" height="28.785" fill="#8aff6d"/>
<rect x="1967.80" y="365.731" width="37.40" height="28.785" fill="#aaff4d"/>
<rect x="1967.80" y="337.346" width="37.40" height="28.785" fill="#caff2c"/>
<rect x="1967.80" y="308.962" width="37.40" height="28.785" fill="#ebff0c"/>
<rect x="1967.80" y="280.577" width="37.40" height="28.785" fill="#ffde00"/>
<rect x="1967.80" y="252.192" width="37.40" height="28.785" fill="#ffb900"/>
<rect x="1967.80" y="223.808" width="37.40" height="28.785" fill="#ff9400"/>
<rect x="1967.80" y="195.423" width="37.40" height="28.785" fill="#ff7300"/>
<rect x="1967.80" y="167.038" width="37.40" height="28.785" fill="#ff4e00"/>
<rect x="1967.80" y="138.654" width="37.40" height="28.785" fill="#ff2900"/>
<rect x="1967.80" y="110.269" width="37.40" height="28.785" fill="#ed0400"/>
<rect x="1967.80" y="81.885" width="37.40" height="28.785" fill="#bf0000"/>
<rect x="1967.80" y="53.500" width="37.40" height="28.785" fill="#920000"/>
<rect x="1967.80" y="53.50" width="37.40" height="738.00" fill="none" stroke="#000" stroke-width="2"/>
<line x1="2005.20" y1="763.12" x2="2013.70" y2="763.12" stroke="#000" stroke-width="1.8"/>
<text x="2023.00" y="772.52">−0.96</text>
<line x1="2005.20" y1="677.96" x2="2013.70" y2="677.96" stroke="#000" stroke-width="1.8"/>
<text x="2023.00" y="687.36">−0.72</text>
<line x1="2005.20" y1="592.81" x2="2013.70" y2="592.81" stroke="#000" stroke-width="1.8"/>
<text x="2023.00" y="602.21">−0.48</text>
<line x1="2005.20" y1="507.65" x2="2013.70" y2="507.65" stroke="#000" stroke-width="1.8"/>
<text x="2023.00" y="517.05">−0.24</text>
<line x1="2005.20" y1="422.50" x2="2013.70" y2="422.50" stroke="#000" stroke-width="1.8"/>
<text x="2023.00" y="431.90">0.00</text>
<line x1="2005.20" y1="337.35" x2="2013.70" y2="337.35" stroke="#000" stroke-width="1.8"/>
<text x="2023.00" y="346.75">0.24</text>
<line x1="2005.20" y1="252.19" x2="2013.70" y2="252.19" stroke="#000" stroke-width="1.8"/>
<text x="2023.00" y="261.59">0.48</text>
<line x1="2005.20" y1="167.04" x2="2013.70" y2="167.04" stroke="#000" stroke-width="1.8"/>
<text x="2023.00" y="176.44">0.72</text>
<line x1="2005.20" y1="81.88" x2="2013.70" y2="81.88" stroke="#000" stroke-width="1.8"/>
<text x="2023.00" y="91.28">0.96</text>
</g>
<text x="1564.70" y="28.90" font-size="33.3" text-anchor="middle">(b)</text>
</svg>
</body></html>
